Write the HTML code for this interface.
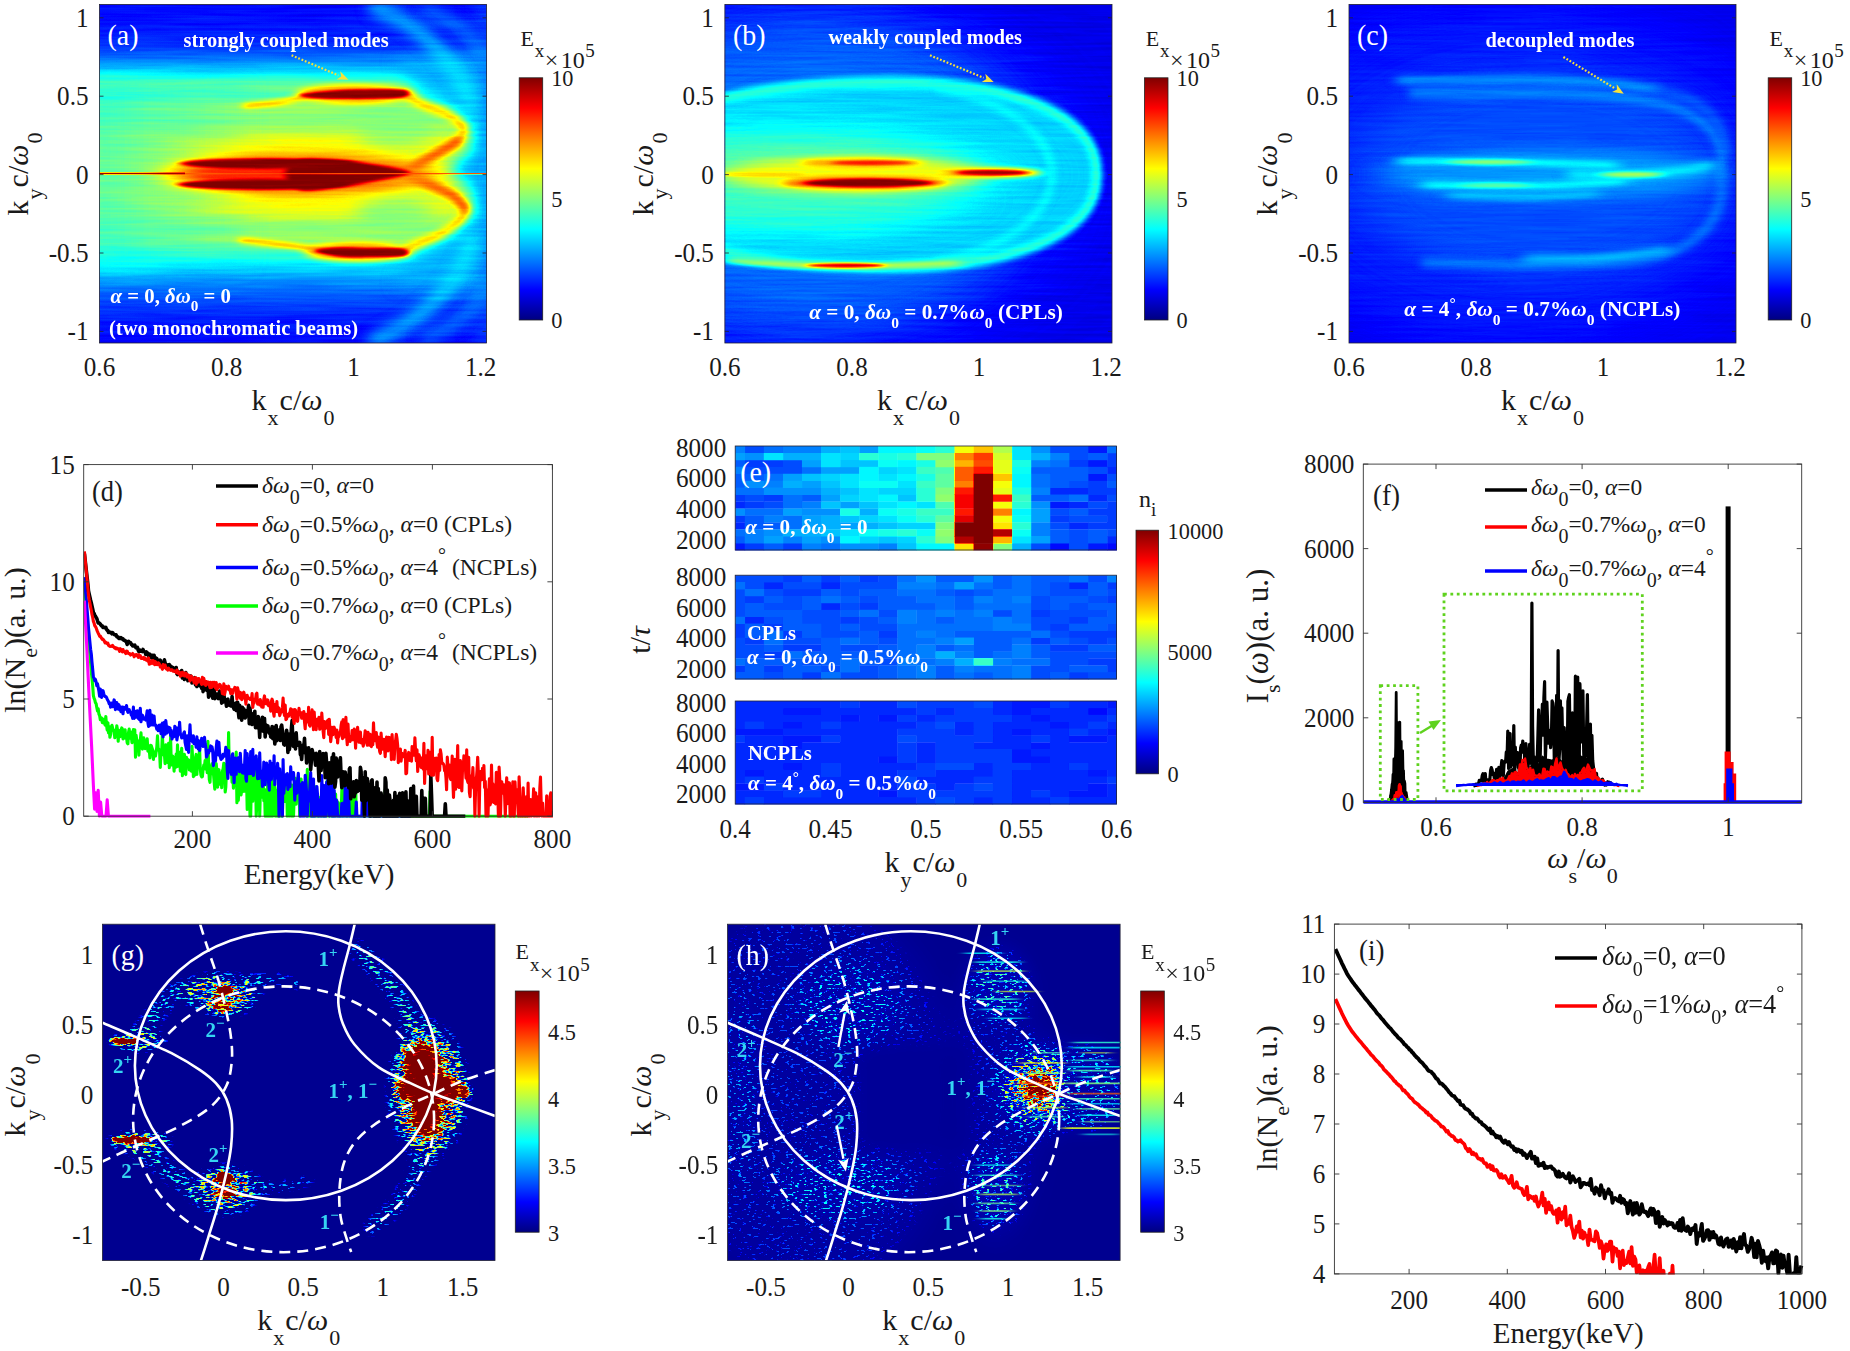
<!DOCTYPE html>
<html><head><meta charset="utf-8"><title>Figure</title>
<style>html,body{margin:0;padding:0;background:#fff}svg{display:block}text{font-family:'Liberation Serif','Times New Roman',serif}</style>
</head><body>
<svg width="1850" height="1351" viewBox="0 0 1850 1351">
<rect width="1850" height="1351" fill="#fff"/>
<defs>
<linearGradient id="jetg" x1="0" y1="1" x2="0" y2="0">
<stop offset="0.0000" stop-color="rgb(0,0,128)"/>
<stop offset="0.0625" stop-color="rgb(0,0,191)"/>
<stop offset="0.1250" stop-color="rgb(0,0,255)"/>
<stop offset="0.1875" stop-color="rgb(0,64,255)"/>
<stop offset="0.2500" stop-color="rgb(0,128,255)"/>
<stop offset="0.3125" stop-color="rgb(0,191,255)"/>
<stop offset="0.3750" stop-color="rgb(0,255,255)"/>
<stop offset="0.4375" stop-color="rgb(64,255,191)"/>
<stop offset="0.5000" stop-color="rgb(128,255,128)"/>
<stop offset="0.5625" stop-color="rgb(191,255,64)"/>
<stop offset="0.6250" stop-color="rgb(255,255,0)"/>
<stop offset="0.6875" stop-color="rgb(255,191,0)"/>
<stop offset="0.7500" stop-color="rgb(255,128,0)"/>
<stop offset="0.8125" stop-color="rgb(255,64,0)"/>
<stop offset="0.8750" stop-color="rgb(255,0,0)"/>
<stop offset="0.9375" stop-color="rgb(191,0,0)"/>
<stop offset="1.0000" stop-color="rgb(128,0,0)"/>
</linearGradient>
</defs>
<filter id="pajet" filterUnits="userSpaceOnUse" x="99.5" y="4.5" width="387.0" height="338.5" color-interpolation-filters="sRGB">
<feTurbulence type="fractalNoise" baseFrequency="0.012 0.35" numOctaves="2" seed="3" result="t"/>
<feColorMatrix in="t" type="matrix" values="1 0 0 0 0  1 0 0 0 0  1 0 0 0 0  0 0 0 0 1" result="n"/>
<feComposite in="SourceGraphic" in2="n" operator="arithmetic" k1="0" k2="1" k3="0.07" k4="-0.035"/>
<feComponentTransfer><feFuncR type="table" tableValues="0.000 0.000 0.000 0.000 0.000 0.000 0.000 0.000 0.000 0.000 0.000 0.000 0.000 0.125 0.250 0.375 0.500 0.625 0.750 0.875 1.000 1.000 1.000 1.000 1.000 1.000 1.000 1.000 1.000 0.875 0.750 0.625 0.500"/><feFuncG type="table" tableValues="0.000 0.000 0.000 0.000 0.000 0.125 0.250 0.375 0.500 0.625 0.750 0.875 1.000 1.000 1.000 1.000 1.000 1.000 1.000 1.000 1.000 0.875 0.750 0.625 0.500 0.375 0.250 0.125 0.000 0.000 0.000 0.000 0.000"/><feFuncB type="table" tableValues="0.500 0.625 0.750 0.875 1.000 1.000 1.000 1.000 1.000 1.000 1.000 1.000 1.000 0.875 0.750 0.625 0.500 0.375 0.250 0.125 0.000 0.000 0.000 0.000 0.000 0.000 0.000 0.000 0.000 0.000 0.000 0.000 0.000"/></feComponentTransfer>
</filter>
<clipPath id="paclip"><rect x="99.5" y="4.5" width="387.0" height="338.5"/></clipPath>
<g filter="url(#pajet)"><g clip-path="url(#paclip)">
<linearGradient id="ga" gradientUnits="userSpaceOnUse" x1="0" y1="4.5" x2="0" y2="343.0">
<stop offset="-0.0015" stop-color="rgb(33,33,33)"/>
<stop offset="0.0753" stop-color="rgb(38,38,38)"/>
<stop offset="0.1196" stop-color="rgb(43,43,43)"/>
<stop offset="0.1640" stop-color="rgb(64,64,64)"/>
<stop offset="0.1994" stop-color="rgb(87,87,87)"/>
<stop offset="0.2290" stop-color="rgb(117,117,117)"/>
<stop offset="0.2467" stop-color="rgb(120,120,120)"/>
<stop offset="0.2703" stop-color="rgb(112,112,112)"/>
<stop offset="0.2999" stop-color="rgb(135,135,135)"/>
<stop offset="0.3412" stop-color="rgb(128,128,128)"/>
<stop offset="0.3944" stop-color="rgb(148,148,148)"/>
<stop offset="0.4446" stop-color="rgb(153,153,153)"/>
<stop offset="0.4978" stop-color="rgb(153,153,153)"/>
<stop offset="0.5539" stop-color="rgb(153,153,153)"/>
<stop offset="0.6071" stop-color="rgb(148,148,148)"/>
<stop offset="0.6603" stop-color="rgb(130,130,130)"/>
<stop offset="0.6957" stop-color="rgb(135,135,135)"/>
<stop offset="0.7312" stop-color="rgb(112,112,112)"/>
<stop offset="0.7666" stop-color="rgb(92,92,92)"/>
<stop offset="0.8139" stop-color="rgb(69,69,69)"/>
<stop offset="0.8730" stop-color="rgb(51,51,51)"/>
<stop offset="0.9321" stop-color="rgb(38,38,38)"/>
<stop offset="1.0000" stop-color="rgb(33,33,33)"/>
</linearGradient>
<rect x="94.5" y="-0.5" width="397.0" height="348.5" fill="url(#ga)"/>
<linearGradient id="gal" x1="0" y1="0" x2="1" y2="0"><stop offset="0" stop-color="#666" stop-opacity="0.7"/><stop offset="0.5" stop-color="#666" stop-opacity="0.35"/><stop offset="1" stop-color="#666" stop-opacity="0"/></linearGradient>
<filter id="pab4x10" filterUnits="userSpaceOnUse" x="39.5" y="-55.5" width="507.0" height="458.5" color-interpolation-filters="sRGB"><feGaussianBlur stdDeviation="4 10"/></filter>
<rect x="95" y="80" width="170" height="188" fill="url(#gal)" filter="url(#pab4x10)"/>
<filter id="pab30x5" filterUnits="userSpaceOnUse" x="39.5" y="-55.5" width="507.0" height="458.5" color-interpolation-filters="sRGB"><feGaussianBlur stdDeviation="30 5"/></filter>
<ellipse cx="330.0" cy="146.0" rx="110.0" ry="9.0" fill="rgb(161,161,161)" opacity="0.8" filter="url(#pab30x5)"/>
<ellipse cx="330.0" cy="206.0" rx="110.0" ry="10.0" fill="rgb(161,161,161)" opacity="0.8" filter="url(#pab30x5)"/>
<filter id="pab8x8" filterUnits="userSpaceOnUse" x="39.5" y="-55.5" width="507.0" height="458.5" color-interpolation-filters="sRGB"><feGaussianBlur stdDeviation="8 8"/></filter>
<path d="M500.0 60.0 L395.0 60.0 L410.0 80.0 L428.0 96.0 L452.0 108.0 L474.0 126.0 L470.0 150.0 L448.0 168.0 L470.0 190.0 L476.0 212.0 L455.0 232.0 L430.0 246.0 L410.0 262.0 L395.0 285.0 L500.0 285.0Z" fill="rgb(76,76,76)" opacity="1" filter="url(#pab8x8)"/>
<path d="M500.0 0.0 L470.0 0.0 L482.0 60.0 L490.0 120.0 L492.0 173.0 L490.0 230.0 L482.0 290.0 L470.0 345.0 L500.0 345.0Z" fill="rgb(51,51,51)" opacity="0.7" filter="url(#pab8x8)"/>
<filter id="pab7x7" filterUnits="userSpaceOnUse" x="39.5" y="-55.5" width="507.0" height="458.5" color-interpolation-filters="sRGB"><feGaussianBlur stdDeviation="7 7"/></filter>
<path d="M375.0 8.0 C380.8 10.8 399.2 17.7 410.0 25.0 C420.8 32.3 431.3 42.5 440.0 52.0 C448.7 61.5 456.7 72.3 462.0 82.0 C467.3 91.7 470.3 105.3 472.0 110.0" fill="none" stroke="rgb(94,94,94)" stroke-width="14" stroke-linecap="round" opacity="0.8" filter="url(#pab7x7)"/>
<path d="M425.0 10.0 C430.8 13.0 449.2 19.3 460.0 28.0 C470.8 36.7 485.0 56.3 490.0 62.0" fill="none" stroke="rgb(76,76,76)" stroke-width="12" stroke-linecap="round" opacity="0.7" filter="url(#pab7x7)"/>
<path d="M375.0 340.0 C380.8 337.0 399.2 329.3 410.0 322.0 C420.8 314.7 431.3 305.3 440.0 296.0 C448.7 286.7 456.7 275.7 462.0 266.0 C467.3 256.3 470.3 242.7 472.0 238.0" fill="none" stroke="rgb(94,94,94)" stroke-width="14" stroke-linecap="round" opacity="0.8" filter="url(#pab7x7)"/>
<path d="M425.0 338.0 C430.8 335.0 449.2 328.7 460.0 320.0 C470.8 311.3 485.0 291.7 490.0 286.0" fill="none" stroke="rgb(76,76,76)" stroke-width="12" stroke-linecap="round" opacity="0.7" filter="url(#pab7x7)"/>
<filter id="pab10x7" filterUnits="userSpaceOnUse" x="39.5" y="-55.5" width="507.0" height="458.5" color-interpolation-filters="sRGB"><feGaussianBlur stdDeviation="10 7"/></filter>
<ellipse cx="395.0" cy="128.0" rx="38.0" ry="20.0" fill="rgb(128,128,128)" opacity="0.8" filter="url(#pab10x7)"/>
<ellipse cx="395.0" cy="214.0" rx="38.0" ry="18.0" fill="rgb(128,128,128)" opacity="0.8" filter="url(#pab10x7)"/>
<filter id="pab3x3" filterUnits="userSpaceOnUse" x="39.5" y="-55.5" width="507.0" height="458.5" color-interpolation-filters="sRGB"><feGaussianBlur stdDeviation="3 3"/></filter>
<path d="M404.0 94.0 C407.3 95.8 416.7 101.5 424.0 105.0 C431.3 108.5 441.5 111.3 448.0 115.0 C454.5 118.7 461.3 122.7 463.0 127.0 C464.7 131.3 462.2 136.7 458.0 141.0 C453.8 145.3 444.3 149.3 438.0 153.0 C431.7 156.7 425.0 160.0 420.0 163.0 C415.0 166.0 410.0 169.7 408.0 171.0" fill="none" stroke="rgb(178,178,178)" stroke-width="8" stroke-linecap="round" opacity="1" filter="url(#pab3x3)"/>
<path d="M408.0 176.0 C411.3 177.3 420.7 180.8 428.0 184.0 C435.3 187.2 445.8 191.0 452.0 195.0 C458.2 199.0 464.0 203.5 465.0 208.0 C466.0 212.5 462.5 217.5 458.0 222.0 C453.5 226.5 444.3 231.5 438.0 235.0 C431.7 238.5 425.7 240.5 420.0 243.0 C414.3 245.5 406.7 248.8 404.0 250.0" fill="none" stroke="rgb(178,178,178)" stroke-width="8" stroke-linecap="round" opacity="1" filter="url(#pab3x3)"/>
<path d="M458.0 141.0 C454.7 143.0 444.3 149.3 438.0 153.0 C431.7 156.7 425.0 160.0 420.0 163.0 C415.0 166.0 410.0 169.7 408.0 171.0" fill="none" stroke="rgb(209,209,209)" stroke-width="7" stroke-linecap="round" opacity="1" filter="url(#pab3x3)"/>
<path d="M408.0 176.0 C411.3 177.3 420.7 180.8 428.0 184.0 C435.3 187.2 445.8 191.0 452.0 195.0 C458.2 199.0 462.8 205.8 465.0 208.0" fill="none" stroke="rgb(209,209,209)" stroke-width="7" stroke-linecap="round" opacity="1" filter="url(#pab3x3)"/>
<filter id="pab4x2" filterUnits="userSpaceOnUse" x="39.5" y="-55.5" width="507.0" height="458.5" color-interpolation-filters="sRGB"><feGaussianBlur stdDeviation="4 2"/></filter>
<path d="M245.0 106.0 C250.8 105.3 268.3 103.8 280.0 102.0 C291.7 100.2 309.2 96.2 315.0 95.0" fill="none" stroke="rgb(184,184,184)" stroke-width="5" stroke-linecap="round" opacity="1" filter="url(#pab4x2)"/>
<path d="M241.0 240.0 C248.3 240.8 271.0 243.2 285.0 245.0 C299.0 246.8 318.3 250.0 325.0 251.0" fill="none" stroke="rgb(184,184,184)" stroke-width="5" stroke-linecap="round" opacity="1" filter="url(#pab4x2)"/>
<filter id="pab6x3" filterUnits="userSpaceOnUse" x="39.5" y="-55.5" width="507.0" height="458.5" color-interpolation-filters="sRGB"><feGaussianBlur stdDeviation="6 3"/></filter>
<ellipse cx="355.0" cy="94.0" rx="58.0" ry="9.0" fill="rgb(194,194,194)" opacity="1" filter="url(#pab6x3)"/>
<ellipse cx="358.0" cy="252.0" rx="52.0" ry="9.0" fill="rgb(194,194,194)" opacity="1" filter="url(#pab6x3)"/>
<filter id="pab14x5" filterUnits="userSpaceOnUse" x="39.5" y="-55.5" width="507.0" height="458.5" color-interpolation-filters="sRGB"><feGaussianBlur stdDeviation="14 5"/></filter>
<ellipse cx="300.0" cy="174.0" rx="135.0" ry="22.0" fill="rgb(189,189,189)" opacity="1" filter="url(#pab14x5)"/>
<filter id="pab8x3" filterUnits="userSpaceOnUse" x="39.5" y="-55.5" width="507.0" height="458.5" color-interpolation-filters="sRGB"><feGaussianBlur stdDeviation="8 3"/></filter>
<ellipse cx="290.0" cy="174.0" rx="100.0" ry="10.0" fill="rgb(214,214,214)" opacity="1" filter="url(#pab8x3)"/>
<filter id="pab2_5x1_2" filterUnits="userSpaceOnUse" x="39.5" y="-55.5" width="507.0" height="458.5" color-interpolation-filters="sRGB"><feGaussianBlur stdDeviation="2.5 1.2"/></filter>
<path d="M300.0 95.0 C302.5 93.8 320.0 91.9 330.0 91.0 C340.0 90.1 347.7 89.7 360.0 89.5 C372.3 89.3 396.7 88.8 404.0 90.0 C411.3 91.2 409.7 95.6 404.0 97.0 C398.3 98.4 380.7 98.2 370.0 98.5 C359.3 98.8 349.2 98.6 340.0 98.5 C330.8 98.4 321.7 98.6 315.0 98.0 C308.3 97.4 297.5 96.2 300.0 95.0Z" fill="rgb(255,255,255)" opacity="1" filter="url(#pab2_5x1_2)"/>
<path d="M316.0 250.0 C318.5 248.9 331.0 247.8 340.0 247.5 C349.0 247.2 359.3 247.8 370.0 248.0 C380.7 248.2 398.3 247.7 404.0 249.0 C409.7 250.3 409.7 254.7 404.0 256.0 C398.3 257.3 379.8 256.8 370.0 257.0 C360.2 257.2 352.5 257.5 345.0 257.0 C337.5 256.5 329.8 255.2 325.0 254.0 C320.2 252.8 313.5 251.1 316.0 250.0Z" fill="rgb(255,255,255)" opacity="1" filter="url(#pab2_5x1_2)"/>
<filter id="pab5x1_3" filterUnits="userSpaceOnUse" x="39.5" y="-55.5" width="507.0" height="458.5" color-interpolation-filters="sRGB"><feGaussianBlur stdDeviation="5 1.3"/></filter>
<ellipse cx="268.0" cy="163.5" rx="88.0" ry="5.2" fill="rgb(255,255,255)" opacity="1" filter="url(#pab5x1_3)"/>
<ellipse cx="262.0" cy="184.5" rx="84.0" ry="5.4" fill="rgb(255,255,255)" opacity="1" filter="url(#pab5x1_3)"/>
<filter id="pab3x1_5" filterUnits="userSpaceOnUse" x="39.5" y="-55.5" width="507.0" height="458.5" color-interpolation-filters="sRGB"><feGaussianBlur stdDeviation="3 1.5"/></filter>
<path d="M300.0 160.0 C309.2 157.7 328.3 159.3 340.0 160.0 C351.7 160.7 358.3 161.9 370.0 164.0 C381.7 166.1 410.0 169.5 410.0 172.5 C410.0 175.5 382.5 179.4 370.0 182.0 C357.5 184.6 346.7 186.7 335.0 188.0 C323.3 189.3 308.3 192.3 300.0 190.0 C291.7 187.7 285.0 179.0 285.0 174.0 C285.0 169.0 290.8 162.3 300.0 160.0Z" fill="rgb(255,255,255)" opacity="1" filter="url(#pab3x1_5)"/>
<rect x="95" y="173" width="400" height="1.3" fill="rgb(204,204,204)"/>
<rect x="95" y="172.6" width="90" height="1.6" fill="rgb(247,247,247)"/>
</g></g>
<rect x="99.5" y="4.5" width="387.0" height="338.5" fill="none" stroke="#223" stroke-width="0.8"/>
<text transform="translate(99.5,375.5) scale(0.93,1)" font-size="27" text-anchor="middle" fill="#1a1a1a" font-weight="normal" font-style="normal" >0.6</text>
<text transform="translate(226.6,375.5) scale(0.93,1)" font-size="27" text-anchor="middle" fill="#1a1a1a" font-weight="normal" font-style="normal" >0.8</text>
<text transform="translate(353.6,375.5) scale(0.93,1)" font-size="27" text-anchor="middle" fill="#1a1a1a" font-weight="normal" font-style="normal" >1</text>
<text transform="translate(480.7,375.5) scale(0.93,1)" font-size="27" text-anchor="middle" fill="#1a1a1a" font-weight="normal" font-style="normal" >1.2</text>
<path d="M99.5 17.8 h4 M486.5 17.8 h-4" stroke="#223" stroke-width="0.8"/>
<text transform="translate(88.5,26.8) scale(0.93,1)" font-size="27" text-anchor="end" fill="#1a1a1a" font-weight="normal" font-style="normal" >1</text>
<path d="M99.5 96.2 h4 M486.5 96.2 h-4" stroke="#223" stroke-width="0.8"/>
<text transform="translate(88.5,105.2) scale(0.93,1)" font-size="27" text-anchor="end" fill="#1a1a1a" font-weight="normal" font-style="normal" >0.5</text>
<path d="M99.5 174.6 h4 M486.5 174.6 h-4" stroke="#223" stroke-width="0.8"/>
<text transform="translate(88.5,183.6) scale(0.93,1)" font-size="27" text-anchor="end" fill="#1a1a1a" font-weight="normal" font-style="normal" >0</text>
<path d="M99.5 253.0 h4 M486.5 253.0 h-4" stroke="#223" stroke-width="0.8"/>
<text transform="translate(88.5,262.0) scale(0.93,1)" font-size="27" text-anchor="end" fill="#1a1a1a" font-weight="normal" font-style="normal" >-0.5</text>
<path d="M99.5 331.4 h4 M486.5 331.4 h-4" stroke="#223" stroke-width="0.8"/>
<text transform="translate(88.5,340.4) scale(0.93,1)" font-size="27" text-anchor="end" fill="#1a1a1a" font-weight="normal" font-style="normal" >-1</text>
<text x="293.0" y="410" font-size="30" text-anchor="middle" fill="#1a1a1a">k<tspan dy="14.5" font-size="22" dx=1>x</tspan><tspan dy="-14.5" font-size="1">&#8203;</tspan><tspan dx="1">c</tspan>/<tspan font-style="italic">&#969;</tspan><tspan dy="14.5" font-size="22" dx=1>0</tspan><tspan dy="-14.5" font-size="1">&#8203;</tspan></text>
<text transform="translate(27.5,174) rotate(-90)" font-size="30" text-anchor="middle" fill="#1a1a1a">k<tspan dy="14.5" font-size="22" dx=1>y</tspan><tspan dy="-14.5" font-size="1">&#8203;</tspan><tspan dx="1">c</tspan>/<tspan font-style="italic">&#969;</tspan><tspan dy="14.5" font-size="22" dx=1>0</tspan><tspan dy="-14.5" font-size="1">&#8203;</tspan></text>
<rect x="519.2" y="77.8" width="23.5" height="242.2" fill="url(#jetg)" stroke="#222" stroke-width="0.8"/>
<text transform="translate(551.2,328.4) scale(0.93,1)" font-size="24" text-anchor="start" fill="#1a1a1a" font-weight="normal" font-style="normal" >0</text>
<text transform="translate(551.2,207.3) scale(0.93,1)" font-size="24" text-anchor="start" fill="#1a1a1a" font-weight="normal" font-style="normal" >5</text>
<text transform="translate(551.2,86.2) scale(0.93,1)" font-size="24" text-anchor="start" fill="#1a1a1a" font-weight="normal" font-style="normal" >10</text>
<text x="520.4" y="45.5" font-size="22" fill="#1a1a1a">E</text>
<text x="534.8" y="57.0" font-size="19" fill="#1a1a1a">x</text>
<text x="544.7" y="67.7" font-size="24" fill="#1a1a1a">&#215;<tspan dx="2.5">10</tspan></text>
<text x="585.2" y="57.0" font-size="19" fill="#1a1a1a">5</text>
<text transform="translate(107.5,45.0) scale(0.93,1)" font-size="30" text-anchor="start" fill="#fff" font-weight="normal" font-style="normal" >(a)</text>
<filter id="pbjet" filterUnits="userSpaceOnUse" x="724.9" y="4.5" width="387.1" height="338.5" color-interpolation-filters="sRGB">
<feTurbulence type="fractalNoise" baseFrequency="0.012 0.35" numOctaves="2" seed="7" result="t"/>
<feColorMatrix in="t" type="matrix" values="1 0 0 0 0  1 0 0 0 0  1 0 0 0 0  0 0 0 0 1" result="n"/>
<feComposite in="SourceGraphic" in2="n" operator="arithmetic" k1="0" k2="1" k3="0.06" k4="-0.03"/>
<feComponentTransfer><feFuncR type="table" tableValues="0.000 0.000 0.000 0.000 0.000 0.000 0.000 0.000 0.000 0.000 0.000 0.000 0.000 0.125 0.250 0.375 0.500 0.625 0.750 0.875 1.000 1.000 1.000 1.000 1.000 1.000 1.000 1.000 1.000 0.875 0.750 0.625 0.500"/><feFuncG type="table" tableValues="0.000 0.000 0.000 0.000 0.000 0.125 0.250 0.375 0.500 0.625 0.750 0.875 1.000 1.000 1.000 1.000 1.000 1.000 1.000 1.000 1.000 0.875 0.750 0.625 0.500 0.375 0.250 0.125 0.000 0.000 0.000 0.000 0.000"/><feFuncB type="table" tableValues="0.500 0.625 0.750 0.875 1.000 1.000 1.000 1.000 1.000 1.000 1.000 1.000 1.000 0.875 0.750 0.625 0.500 0.375 0.250 0.125 0.000 0.000 0.000 0.000 0.000 0.000 0.000 0.000 0.000 0.000 0.000 0.000 0.000"/></feComponentTransfer>
</filter>
<clipPath id="pbclip"><rect x="724.9" y="4.5" width="387.1" height="338.5"/></clipPath>
<g filter="url(#pbjet)"><g clip-path="url(#pbclip)">
<rect x="661.4" y="-13.6" width="508.2" height="376.3" fill="rgb(27,27,27)" opacity="1"/>
<filter id="pbb45x30" filterUnits="userSpaceOnUse" x="664.9" y="-55.5" width="507.1" height="458.5" color-interpolation-filters="sRGB"><feGaussianBlur stdDeviation="45 30"/></filter>
<ellipse cx="801.1" cy="174.6" rx="260.0" ry="175.0" fill="rgb(51,51,51)" opacity="1" filter="url(#pbb45x30)"/>
<filter id="pbb30x22" filterUnits="userSpaceOnUse" x="664.9" y="-55.5" width="507.1" height="458.5" color-interpolation-filters="sRGB"><feGaussianBlur stdDeviation="30 22"/></filter>
<ellipse cx="820.2" cy="174.6" rx="190.0" ry="140.0" fill="rgb(61,61,61)" opacity="0.8" filter="url(#pbb30x22)"/>
<filter id="pbb5x5" filterUnits="userSpaceOnUse" x="664.9" y="-55.5" width="507.1" height="458.5" color-interpolation-filters="sRGB"><feGaussianBlur stdDeviation="5 5"/></filter>
<path d="M598.4 180.4 L601.7 189.8 L608.1 199.1 L617.3 208.1 L629.3 216.8 L644.0 225.0 L661.2 232.7 L680.7 239.7 L702.4 246.1 L726.0 251.8 L751.3 256.6 L777.9 260.5 L805.7 263.6 L834.3 265.7 L863.4 266.9 L894.2 267.1 L920.7 266.4 L944.0 264.9 L965.5 262.5 L985.4 259.3 L1003.9 255.4 L1020.8 250.6 L1036.2 245.1 L1050.0 238.9 L1062.1 232.0 L1072.5 224.4 L1081.1 216.2 L1087.8 207.4 L1092.7 197.8 L1095.6 187.4 L1096.6 174.6 L1095.6 161.8 L1092.7 151.4 L1087.8 141.8 L1081.1 133.0 L1072.5 124.8 L1062.1 117.2 L1050.0 110.3 L1036.2 104.1 L1020.8 98.6 L1003.9 93.8 L985.4 89.9 L965.5 86.7 L944.0 84.3 L920.7 82.8 L894.2 82.1 L863.4 82.3 L834.3 83.5 L805.7 85.6 L777.9 88.7 L751.3 92.6 L726.0 97.4 L702.4 103.1 L680.7 109.5 L661.2 116.5 L644.0 124.2 L629.3 132.4 L617.3 141.1 L608.1 150.1 L601.7 159.4 L598.4 168.8Z" fill="rgb(85,85,85)" filter="url(#pbb5x5)"/>
<filter id="pbb40x14" filterUnits="userSpaceOnUse" x="664.9" y="-55.5" width="507.1" height="458.5" color-interpolation-filters="sRGB"><feGaussianBlur stdDeviation="40 14"/></filter>
<ellipse cx="775.7" cy="174.6" rx="230.0" ry="60.0" fill="rgb(98,98,98)" opacity="0.9" filter="url(#pbb40x14)"/>
<filter id="pbb30x11" filterUnits="userSpaceOnUse" x="664.9" y="-55.5" width="507.1" height="458.5" color-interpolation-filters="sRGB"><feGaussianBlur stdDeviation="30 11"/></filter>
<ellipse cx="788.4" cy="174.6" rx="190.0" ry="36.0" fill="rgb(120,120,120)" opacity="0.9" filter="url(#pbb30x11)"/>
<ellipse cx="801.1" cy="200.0" rx="150.0" ry="36.0" fill="rgb(110,110,110)" opacity="0.6" filter="url(#pbb30x11)"/>
<filter id="pbb3x3" filterUnits="userSpaceOnUse" x="664.9" y="-55.5" width="507.1" height="458.5" color-interpolation-filters="sRGB"><feGaussianBlur stdDeviation="3 3"/></filter>
<path d="M598.4 180.4 L601.7 189.8 L608.1 199.1 L617.3 208.1 L629.3 216.8 L644.0 225.0 L661.2 232.7 L680.7 239.7 L702.4 246.1 L726.0 251.8 L751.3 256.6 L777.9 260.5 L805.7 263.6 L834.3 265.7 L863.4 266.9 L894.2 267.1 L920.7 266.4 L944.0 264.9 L965.5 262.5 L985.4 259.3 L1003.9 255.4 L1020.8 250.6 L1036.2 245.1 L1050.0 238.9 L1062.1 232.0 L1072.5 224.4 L1081.1 216.2 L1087.8 207.4 L1092.7 197.8 L1095.6 187.4 L1096.6 174.6 L1095.6 161.8 L1092.7 151.4 L1087.8 141.8 L1081.1 133.0 L1072.5 124.8 L1062.1 117.2 L1050.0 110.3 L1036.2 104.1 L1020.8 98.6 L1003.9 93.8 L985.4 89.9 L965.5 86.7 L944.0 84.3 L920.7 82.8 L894.2 82.1 L863.4 82.3 L834.3 83.5 L805.7 85.6 L777.9 88.7 L751.3 92.6 L726.0 97.4 L702.4 103.1 L680.7 109.5 L661.2 116.5 L644.0 124.2 L629.3 132.4 L617.3 141.1 L608.1 150.1 L601.7 159.4 L598.4 168.8Z" fill="none" stroke="rgb(110,110,110)" stroke-width="10" filter="url(#pbb3x3)"/>
<filter id="pbb3_5x3_5" filterUnits="userSpaceOnUse" x="664.9" y="-55.5" width="507.1" height="458.5" color-interpolation-filters="sRGB"><feGaussianBlur stdDeviation="3.5 3.5"/></filter>
<path d="M935.7 261.8 L945.7 259.9 L955.4 257.6 L964.8 255.0 L973.9 252.0 L982.7 248.8 L991.0 245.3 L999.0 241.5 L1006.5 237.4 L1013.4 233.1 L1019.9 228.5 L1025.9 223.8 L1031.3 218.8 L1036.1 213.7 L1040.3 208.4 L1043.8 202.9 L1046.8 197.4 L1049.1 191.8 L1050.8 186.1 L1051.7 180.4 L1052.1 174.6 L1051.7 168.8 L1050.8 163.1 L1049.1 157.4 L1046.8 151.8 L1043.8 146.3 L1040.3 140.8 L1036.1 135.5 L1031.3 130.4 L1025.9 125.4 L1019.9 120.7 L1013.4 116.1 L1006.5 111.8 L999.0 107.7 L991.0 103.9 L982.7 100.4 L973.9 97.2 L964.8 94.2 L955.4 91.6 L945.7 89.3 L935.7 87.4" fill="none" stroke="rgb(102,102,102)" stroke-width="7" opacity="0.8" filter="url(#pbb3_5x3_5)"/>
<filter id="pbb8x2" filterUnits="userSpaceOnUse" x="664.9" y="-55.5" width="507.1" height="458.5" color-interpolation-filters="sRGB"><feGaussianBlur stdDeviation="8 2"/></filter>
<path d="M724.9 260.1 C733.4 260.8 754.5 263.2 775.7 264.3 C796.9 265.3 821.3 266.5 852.0 266.3 C882.7 266.1 942.0 263.7 960.0 263.2" fill="none" stroke="rgb(148,148,148)" stroke-width="5" stroke-linecap="butt" opacity="1" filter="url(#pbb8x2)"/>
<filter id="pbb5x1_2" filterUnits="userSpaceOnUse" x="664.9" y="-55.5" width="507.1" height="458.5" color-interpolation-filters="sRGB"><feGaussianBlur stdDeviation="5 1.2"/></filter>
<ellipse cx="845.6" cy="265.5" rx="40.0" ry="2.2" fill="rgb(235,235,235)" opacity="1" filter="url(#pbb5x1_2)"/>
<filter id="pbb14x6" filterUnits="userSpaceOnUse" x="664.9" y="-55.5" width="507.1" height="458.5" color-interpolation-filters="sRGB"><feGaussianBlur stdDeviation="14 6"/></filter>
<ellipse cx="852.0" cy="174.6" rx="130.0" ry="17.0" fill="rgb(158,158,158)" opacity="1" filter="url(#pbb14x6)"/>
<filter id="pbb5x1_5" filterUnits="userSpaceOnUse" x="664.9" y="-55.5" width="507.1" height="458.5" color-interpolation-filters="sRGB"><feGaussianBlur stdDeviation="5 1.5"/></filter>
<path d="M724.9 174.6 C737.6 174.6 788.4 174.6 801.1 174.6" fill="none" stroke="rgb(173,173,173)" stroke-width="3.5" stroke-linecap="round" opacity="1" filter="url(#pbb5x1_5)"/>
<filter id="pbb6x2_5" filterUnits="userSpaceOnUse" x="664.9" y="-55.5" width="507.1" height="458.5" color-interpolation-filters="sRGB"><feGaussianBlur stdDeviation="6 2.5"/></filter>
<ellipse cx="864.7" cy="182.9" rx="82.0" ry="6.5" fill="rgb(199,199,199)" opacity="1" filter="url(#pbb6x2_5)"/>
<filter id="pbb6x2" filterUnits="userSpaceOnUse" x="664.9" y="-55.5" width="507.1" height="458.5" color-interpolation-filters="sRGB"><feGaussianBlur stdDeviation="6 2"/></filter>
<ellipse cx="861.5" cy="162.8" rx="62.0" ry="4.5" fill="rgb(184,184,184)" opacity="1" filter="url(#pbb6x2)"/>
<ellipse cx="991.7" cy="172.7" rx="50.0" ry="5.0" fill="rgb(184,184,184)" opacity="1" filter="url(#pbb6x2)"/>
<ellipse cx="867.8" cy="182.9" rx="64.0" ry="4.2" fill="rgb(255,255,255)" opacity="1" filter="url(#pbb5x1_2)"/>
<ellipse cx="871.0" cy="162.8" rx="40.0" ry="2.2" fill="rgb(219,219,219)" opacity="1" filter="url(#pbb5x1_2)"/>
<ellipse cx="991.7" cy="172.7" rx="36.0" ry="2.6" fill="rgb(247,247,247)" opacity="1" filter="url(#pbb5x1_2)"/>
</g></g>
<rect x="724.9" y="4.5" width="387.1" height="338.5" fill="none" stroke="#223" stroke-width="0.8"/>
<text transform="translate(724.9,375.5) scale(0.93,1)" font-size="27" text-anchor="middle" fill="#1a1a1a" font-weight="normal" font-style="normal" >0.6</text>
<text transform="translate(852.0,375.5) scale(0.93,1)" font-size="27" text-anchor="middle" fill="#1a1a1a" font-weight="normal" font-style="normal" >0.8</text>
<text transform="translate(979.0,375.5) scale(0.93,1)" font-size="27" text-anchor="middle" fill="#1a1a1a" font-weight="normal" font-style="normal" >1</text>
<text transform="translate(1106.1,375.5) scale(0.93,1)" font-size="27" text-anchor="middle" fill="#1a1a1a" font-weight="normal" font-style="normal" >1.2</text>
<path d="M724.9 17.8 h4 M1112 17.8 h-4" stroke="#223" stroke-width="0.8"/>
<text transform="translate(713.9,26.8) scale(0.93,1)" font-size="27" text-anchor="end" fill="#1a1a1a" font-weight="normal" font-style="normal" >1</text>
<path d="M724.9 96.2 h4 M1112 96.2 h-4" stroke="#223" stroke-width="0.8"/>
<text transform="translate(713.9,105.2) scale(0.93,1)" font-size="27" text-anchor="end" fill="#1a1a1a" font-weight="normal" font-style="normal" >0.5</text>
<path d="M724.9 174.6 h4 M1112 174.6 h-4" stroke="#223" stroke-width="0.8"/>
<text transform="translate(713.9,183.6) scale(0.93,1)" font-size="27" text-anchor="end" fill="#1a1a1a" font-weight="normal" font-style="normal" >0</text>
<path d="M724.9 253.0 h4 M1112 253.0 h-4" stroke="#223" stroke-width="0.8"/>
<text transform="translate(713.9,262.0) scale(0.93,1)" font-size="27" text-anchor="end" fill="#1a1a1a" font-weight="normal" font-style="normal" >-0.5</text>
<path d="M724.9 331.4 h4 M1112 331.4 h-4" stroke="#223" stroke-width="0.8"/>
<text transform="translate(713.9,340.4) scale(0.93,1)" font-size="27" text-anchor="end" fill="#1a1a1a" font-weight="normal" font-style="normal" >-1</text>
<text x="918.5" y="410" font-size="30" text-anchor="middle" fill="#1a1a1a">k<tspan dy="14.5" font-size="22" dx=1>x</tspan><tspan dy="-14.5" font-size="1">&#8203;</tspan><tspan dx="1">c</tspan>/<tspan font-style="italic">&#969;</tspan><tspan dy="14.5" font-size="22" dx=1>0</tspan><tspan dy="-14.5" font-size="1">&#8203;</tspan></text>
<text transform="translate(652.9,174) rotate(-90)" font-size="30" text-anchor="middle" fill="#1a1a1a">k<tspan dy="14.5" font-size="22" dx=1>y</tspan><tspan dy="-14.5" font-size="1">&#8203;</tspan><tspan dx="1">c</tspan>/<tspan font-style="italic">&#969;</tspan><tspan dy="14.5" font-size="22" dx=1>0</tspan><tspan dy="-14.5" font-size="1">&#8203;</tspan></text>
<rect x="1144.5" y="77.8" width="23.5" height="242.2" fill="url(#jetg)" stroke="#222" stroke-width="0.8"/>
<text transform="translate(1176.5,328.4) scale(0.93,1)" font-size="24" text-anchor="start" fill="#1a1a1a" font-weight="normal" font-style="normal" >0</text>
<text transform="translate(1176.5,207.3) scale(0.93,1)" font-size="24" text-anchor="start" fill="#1a1a1a" font-weight="normal" font-style="normal" >5</text>
<text transform="translate(1176.5,86.2) scale(0.93,1)" font-size="24" text-anchor="start" fill="#1a1a1a" font-weight="normal" font-style="normal" >10</text>
<text x="1145.7" y="45.5" font-size="22" fill="#1a1a1a">E</text>
<text x="1160.1" y="57.0" font-size="19" fill="#1a1a1a">x</text>
<text x="1170.0" y="67.7" font-size="24" fill="#1a1a1a">&#215;<tspan dx="2.5">10</tspan></text>
<text x="1210.5" y="57.0" font-size="19" fill="#1a1a1a">5</text>
<text transform="translate(732.9,45.0) scale(0.93,1)" font-size="30" text-anchor="start" fill="#fff" font-weight="normal" font-style="normal" >(b)</text>
<filter id="pcjet" filterUnits="userSpaceOnUse" x="1349" y="4.5" width="387" height="338.5" color-interpolation-filters="sRGB">
<feTurbulence type="fractalNoise" baseFrequency="0.012 0.35" numOctaves="2" seed="11" result="t"/>
<feColorMatrix in="t" type="matrix" values="1 0 0 0 0  1 0 0 0 0  1 0 0 0 0  0 0 0 0 1" result="n"/>
<feComposite in="SourceGraphic" in2="n" operator="arithmetic" k1="0" k2="1" k3="0.04" k4="-0.02"/>
<feComponentTransfer><feFuncR type="table" tableValues="0.000 0.000 0.000 0.000 0.000 0.000 0.000 0.000 0.000 0.000 0.000 0.000 0.000 0.125 0.250 0.375 0.500 0.625 0.750 0.875 1.000 1.000 1.000 1.000 1.000 1.000 1.000 1.000 1.000 0.875 0.750 0.625 0.500"/><feFuncG type="table" tableValues="0.000 0.000 0.000 0.000 0.000 0.125 0.250 0.375 0.500 0.625 0.750 0.875 1.000 1.000 1.000 1.000 1.000 1.000 1.000 1.000 1.000 0.875 0.750 0.625 0.500 0.375 0.250 0.125 0.000 0.000 0.000 0.000 0.000"/><feFuncB type="table" tableValues="0.500 0.625 0.750 0.875 1.000 1.000 1.000 1.000 1.000 1.000 1.000 1.000 1.000 0.875 0.750 0.625 0.500 0.375 0.250 0.125 0.000 0.000 0.000 0.000 0.000 0.000 0.000 0.000 0.000 0.000 0.000 0.000 0.000"/></feComponentTransfer>
</filter>
<clipPath id="pcclip"><rect x="1349" y="4.5" width="387" height="338.5"/></clipPath>
<g filter="url(#pcjet)"><g clip-path="url(#pcclip)">
<rect x="1285.5" y="-13.6" width="508.2" height="376.3" fill="rgb(28,28,28)" opacity="1"/>
<filter id="pcb40x30" filterUnits="userSpaceOnUse" x="1289" y="-55.5" width="507" height="458.5" color-interpolation-filters="sRGB"><feGaussianBlur stdDeviation="40 30"/></filter>
<ellipse cx="1507.8" cy="174.6" rx="260.0" ry="170.0" fill="rgb(40,40,40)" opacity="1" filter="url(#pcb40x30)"/>
<filter id="pcb24x16" filterUnits="userSpaceOnUse" x="1289" y="-55.5" width="507" height="458.5" color-interpolation-filters="sRGB"><feGaussianBlur stdDeviation="24 16"/></filter>
<ellipse cx="1539.6" cy="174.6" rx="190.0" ry="100.0" fill="rgb(51,51,51)" opacity="1" filter="url(#pcb24x16)"/>
<filter id="pcb6x3" filterUnits="userSpaceOnUse" x="1289" y="-55.5" width="507" height="458.5" color-interpolation-filters="sRGB"><feGaussianBlur stdDeviation="6 3"/></filter>
<path d="M1399.8 80.5 C1417.8 80.4 1473.9 79.3 1507.8 79.7 C1541.7 80.1 1578.8 81.3 1603.1 82.9 C1627.5 84.4 1645.5 88.1 1653.9 89.1" fill="none" stroke="rgb(76,76,76)" stroke-width="7" stroke-linecap="round" opacity="1" filter="url(#pcb6x3)"/>
<filter id="pcb4x3_5" filterUnits="userSpaceOnUse" x="1289" y="-55.5" width="507" height="458.5" color-interpolation-filters="sRGB"><feGaussianBlur stdDeviation="4 3.5"/></filter>
<path d="M1412.5 93.1 C1433.7 93.1 1504.6 92.3 1539.6 93.1 C1574.5 93.8 1599.9 95.4 1622.2 97.8 C1644.4 100.1 1659.2 102.7 1673.0 107.2 C1686.8 111.6 1696.8 117.4 1704.8 124.4 C1712.7 131.5 1718.0 141.1 1720.7 149.5 C1723.3 157.9 1720.7 170.4 1720.7 174.6" fill="none" stroke="rgb(69,69,69)" stroke-width="8" stroke-linecap="round" opacity="1" filter="url(#pcb4x3_5)"/>
<filter id="pcb4x4" filterUnits="userSpaceOnUse" x="1289" y="-55.5" width="507" height="458.5" color-interpolation-filters="sRGB"><feGaussianBlur stdDeviation="4 4"/></filter>
<path d="M1653.9 89.1 C1660.3 91.1 1681.5 95.3 1692.1 100.9 C1702.7 106.5 1711.7 114.5 1717.5 122.9 C1723.3 131.2 1725.4 146.4 1727.0 151.1" fill="none" stroke="rgb(61,61,61)" stroke-width="7" stroke-linecap="round" opacity="1" filter="url(#pcb4x4)"/>
<filter id="pcb5x3_5" filterUnits="userSpaceOnUse" x="1289" y="-55.5" width="507" height="458.5" color-interpolation-filters="sRGB"><feGaussianBlur stdDeviation="5 3.5"/></filter>
<path d="M1425.2 262.4 C1444.3 262.8 1504.6 265.0 1539.6 264.8 C1574.5 264.5 1611.6 263.6 1634.9 260.8 C1658.2 258.1 1667.2 254.0 1679.4 248.3 C1691.5 242.5 1701.1 234.4 1707.9 226.3 C1714.8 218.2 1718.5 208.3 1720.7 199.7 C1722.8 191.1 1720.7 178.8 1720.7 174.6" fill="none" stroke="rgb(66,66,66)" stroke-width="8" stroke-linecap="round" opacity="1" filter="url(#pcb5x3_5)"/>
<filter id="pcb7x3" filterUnits="userSpaceOnUse" x="1289" y="-55.5" width="507" height="458.5" color-interpolation-filters="sRGB"><feGaussianBlur stdDeviation="7 3"/></filter>
<path d="M1526.9 258.5 C1539.6 258.4 1579.8 259.1 1603.1 257.7 C1626.4 256.3 1656.1 251.2 1666.7 249.9" fill="none" stroke="rgb(84,84,84)" stroke-width="7" stroke-linecap="round" opacity="1" filter="url(#pcb7x3)"/>
<filter id="pcb16x7" filterUnits="userSpaceOnUse" x="1289" y="-55.5" width="507" height="458.5" color-interpolation-filters="sRGB"><feGaussianBlur stdDeviation="16 7"/></filter>
<ellipse cx="1552.3" cy="174.6" rx="170.0" ry="26.0" fill="rgb(69,69,69)" opacity="1" filter="url(#pcb16x7)"/>
<filter id="pcb8x2_5" filterUnits="userSpaceOnUse" x="1289" y="-55.5" width="507" height="458.5" color-interpolation-filters="sRGB"><feGaussianBlur stdDeviation="8 2.5"/></filter>
<path d="M1399.8 161.3 C1417.8 161.4 1471.8 161.4 1507.8 162.1 C1543.8 162.7 1597.8 164.7 1615.8 165.2" fill="none" stroke="rgb(102,102,102)" stroke-width="6" stroke-linecap="round" opacity="1" filter="url(#pcb8x2_5)"/>
<filter id="pcb8x1_6" filterUnits="userSpaceOnUse" x="1289" y="-55.5" width="507" height="458.5" color-interpolation-filters="sRGB"><feGaussianBlur stdDeviation="8 1.6"/></filter>
<ellipse cx="1488.8" cy="162.1" rx="42.0" ry="2.4" fill="rgb(133,133,133)" opacity="1" filter="url(#pcb8x1_6)"/>
<path d="M1425.2 184.8 C1444.3 184.9 1506.8 186.2 1539.6 185.6 C1572.4 184.9 1608.4 181.7 1622.2 180.9" fill="none" stroke="rgb(99,99,99)" stroke-width="7" stroke-linecap="round" opacity="1" filter="url(#pcb8x2_5)"/>
<ellipse cx="1495.1" cy="185.3" rx="36.0" ry="2.2" fill="rgb(120,120,120)" opacity="1" filter="url(#pcb8x1_6)"/>
<path d="M1450.6 195.8 C1463.4 195.9 1502.5 196.9 1526.9 196.6 C1551.2 196.2 1585.1 193.9 1596.8 193.4" fill="none" stroke="rgb(84,84,84)" stroke-width="6" stroke-linecap="round" opacity="1" filter="url(#pcb8x2_5)"/>
<path d="M1571.4 174.6 C1581.9 174.6 1615.8 175.4 1634.9 174.6 C1653.9 173.8 1673.0 171.5 1685.7 169.9 C1698.4 168.3 1706.9 166.0 1711.1 165.2" fill="none" stroke="rgb(97,97,97)" stroke-width="8" stroke-linecap="round" opacity="1" filter="url(#pcb7x3)"/>
<filter id="pcb7x1_8" filterUnits="userSpaceOnUse" x="1289" y="-55.5" width="507" height="458.5" color-interpolation-filters="sRGB"><feGaussianBlur stdDeviation="7 1.8"/></filter>
<ellipse cx="1631.7" cy="174.6" rx="32.0" ry="2.6" fill="rgb(143,143,143)" opacity="1" filter="url(#pcb7x1_8)"/>
</g></g>
<rect x="1349" y="4.5" width="387" height="338.5" fill="none" stroke="#223" stroke-width="0.8"/>
<text transform="translate(1349.0,375.5) scale(0.93,1)" font-size="27" text-anchor="middle" fill="#1a1a1a" font-weight="normal" font-style="normal" >0.6</text>
<text transform="translate(1476.1,375.5) scale(0.93,1)" font-size="27" text-anchor="middle" fill="#1a1a1a" font-weight="normal" font-style="normal" >0.8</text>
<text transform="translate(1603.1,375.5) scale(0.93,1)" font-size="27" text-anchor="middle" fill="#1a1a1a" font-weight="normal" font-style="normal" >1</text>
<text transform="translate(1730.2,375.5) scale(0.93,1)" font-size="27" text-anchor="middle" fill="#1a1a1a" font-weight="normal" font-style="normal" >1.2</text>
<path d="M1349 17.8 h4 M1736 17.8 h-4" stroke="#223" stroke-width="0.8"/>
<text transform="translate(1338.0,26.8) scale(0.93,1)" font-size="27" text-anchor="end" fill="#1a1a1a" font-weight="normal" font-style="normal" >1</text>
<path d="M1349 96.2 h4 M1736 96.2 h-4" stroke="#223" stroke-width="0.8"/>
<text transform="translate(1338.0,105.2) scale(0.93,1)" font-size="27" text-anchor="end" fill="#1a1a1a" font-weight="normal" font-style="normal" >0.5</text>
<path d="M1349 174.6 h4 M1736 174.6 h-4" stroke="#223" stroke-width="0.8"/>
<text transform="translate(1338.0,183.6) scale(0.93,1)" font-size="27" text-anchor="end" fill="#1a1a1a" font-weight="normal" font-style="normal" >0</text>
<path d="M1349 253.0 h4 M1736 253.0 h-4" stroke="#223" stroke-width="0.8"/>
<text transform="translate(1338.0,262.0) scale(0.93,1)" font-size="27" text-anchor="end" fill="#1a1a1a" font-weight="normal" font-style="normal" >-0.5</text>
<path d="M1349 331.4 h4 M1736 331.4 h-4" stroke="#223" stroke-width="0.8"/>
<text transform="translate(1338.0,340.4) scale(0.93,1)" font-size="27" text-anchor="end" fill="#1a1a1a" font-weight="normal" font-style="normal" >-1</text>
<text x="1542.5" y="410" font-size="30" text-anchor="middle" fill="#1a1a1a">k<tspan dy="14.5" font-size="22" dx=1>x</tspan><tspan dy="-14.5" font-size="1">&#8203;</tspan><tspan dx="1">c</tspan>/<tspan font-style="italic">&#969;</tspan><tspan dy="14.5" font-size="22" dx=1>0</tspan><tspan dy="-14.5" font-size="1">&#8203;</tspan></text>
<text transform="translate(1277.0,174) rotate(-90)" font-size="30" text-anchor="middle" fill="#1a1a1a">k<tspan dy="14.5" font-size="22" dx=1>y</tspan><tspan dy="-14.5" font-size="1">&#8203;</tspan><tspan dx="1">c</tspan>/<tspan font-style="italic">&#969;</tspan><tspan dy="14.5" font-size="22" dx=1>0</tspan><tspan dy="-14.5" font-size="1">&#8203;</tspan></text>
<rect x="1768.2" y="77.8" width="23.5" height="242.2" fill="url(#jetg)" stroke="#222" stroke-width="0.8"/>
<text transform="translate(1800.2,328.4) scale(0.93,1)" font-size="24" text-anchor="start" fill="#1a1a1a" font-weight="normal" font-style="normal" >0</text>
<text transform="translate(1800.2,207.3) scale(0.93,1)" font-size="24" text-anchor="start" fill="#1a1a1a" font-weight="normal" font-style="normal" >5</text>
<text transform="translate(1800.2,86.2) scale(0.93,1)" font-size="24" text-anchor="start" fill="#1a1a1a" font-weight="normal" font-style="normal" >10</text>
<text x="1769.4" y="45.5" font-size="22" fill="#1a1a1a">E</text>
<text x="1783.8" y="57.0" font-size="19" fill="#1a1a1a">x</text>
<text x="1793.7" y="67.7" font-size="24" fill="#1a1a1a">&#215;<tspan dx="2.5">10</tspan></text>
<text x="1834.2" y="57.0" font-size="19" fill="#1a1a1a">5</text>
<text transform="translate(1357.0,45.0) scale(0.93,1)" font-size="30" text-anchor="start" fill="#fff" font-weight="normal" font-style="normal" >(c)</text>
<clipPath id="dclip"><rect x="83.7" y="462.6" width="471.7" height="355.1"/></clipPath>
<g clip-path="url(#dclip)">
<polyline points="84.4,581.8 85.1,591.4 85.8,601.0 86.5,610.4 87.2,620.4 87.9,630.0 88.5,638.9 89.2,647.1 89.9,655.5 90.6,662.6 91.3,671.0 92.0,678.8 92.7,686.0 93.4,695.7 94.1,698.3 94.7,699.6 95.4,702.6 96.1,703.6 96.8,707.5 97.5,710.9 98.2,708.7 98.9,714.0 99.6,715.5 100.3,719.8 101.0,718.8 101.6,718.0 102.3,722.6 103.0,719.0 103.7,723.0 104.4,723.0 105.1,725.1 105.8,716.5 106.5,724.7 107.2,730.1 107.9,722.7 108.5,732.9 109.2,726.5 109.9,737.3 110.6,734.6 111.3,727.6 112.0,725.3 112.7,728.4 113.4,730.1 114.1,731.4 114.8,737.8 115.4,734.3 116.1,733.3 116.8,725.7 117.5,729.8 118.2,741.3 118.9,730.5 119.6,734.7 120.3,736.6 121.0,729.9 121.7,727.9 122.3,728.7 123.0,739.0 123.7,736.4 124.4,733.1 125.1,729.7 125.8,738.4 126.5,737.1 127.2,742.8 127.9,743.8 128.6,732.1 129.2,729.1 129.9,738.1 130.6,731.8 131.3,736.1 132.0,742.7 132.7,736.7 133.4,729.6 134.1,739.9 134.8,729.9 135.5,757.2 136.1,735.3 136.8,740.4 137.5,743.2 138.2,741.0 138.9,755.2 139.6,743.7 140.3,740.1 141.0,732.8 141.7,746.7 142.4,749.1 143.0,747.3 143.7,737.8 144.4,742.2 145.1,748.6 145.8,741.5 146.5,744.8 147.2,738.8 147.9,751.2 148.6,748.8 149.3,749.6 149.9,757.9 150.6,745.2 151.3,745.8 152.0,748.0 152.7,750.1 153.4,759.5 154.1,752.2 154.8,752.0 155.5,755.9 156.2,751.2 156.8,747.1 157.5,735.8 158.2,749.6 158.9,749.2 159.6,752.2 160.3,767.4 161.0,752.5 161.7,752.1 162.4,732.7 163.1,754.8 163.7,750.9 164.4,754.0 165.1,763.7 165.8,744.7 166.5,748.2 167.2,748.1 167.9,762.8 168.6,743.4 169.3,767.6 170.0,750.8 170.6,737.2 171.3,765.0 172.0,761.6 172.7,756.1 173.4,761.6 174.1,771.1 174.8,757.1 175.5,767.5 176.2,754.1 176.9,766.8 177.5,744.9 178.2,766.2 178.9,762.3 179.6,752.2 180.3,771.2 181.0,758.1 181.7,748.4 182.4,775.6 183.1,759.3 183.8,758.8 184.4,754.2 185.1,773.4 185.8,774.5 186.5,757.4 187.2,759.8 187.9,760.5 188.6,759.8 189.3,769.9 190.0,761.4 190.7,761.1 191.3,771.2 192.0,746.3 192.7,760.1 193.4,776.7 194.1,758.8 194.8,775.1 195.5,757.9 196.2,754.4 196.9,774.4 197.6,756.8 198.2,762.5 198.9,758.6 199.6,747.9 200.3,769.9 201.0,775.4 201.7,777.0 202.4,776.5 203.1,769.2 203.8,765.1 204.5,766.0 205.1,760.5 205.8,769.2 206.5,754.3 207.2,772.6 207.9,741.3 208.6,763.7 209.3,779.7 210.0,782.3 210.7,765.9 211.4,773.7 212.0,763.8 212.7,766.7 213.4,772.8 214.1,781.5 214.8,789.1 215.5,777.7 216.2,763.6 216.9,770.9 217.6,787.3 218.3,771.8 218.9,769.7 219.6,784.1 220.3,772.7 221.0,774.0 221.7,787.8 222.4,771.1 223.1,769.0 223.8,763.3 224.5,763.9 225.2,792.0 225.8,787.2 226.5,770.7 227.2,770.9 227.9,771.1 228.6,732.5 229.3,770.9 230.0,764.5 230.7,766.9 231.4,770.6 232.1,782.3 232.7,769.8 233.4,788.3 234.1,782.1 234.8,785.4 235.5,778.8 236.2,752.1 236.9,802.8 237.6,772.2 238.3,800.4 239.0,786.8 239.6,767.9 240.3,780.7 241.0,795.0 241.7,790.8 242.4,773.8 243.1,791.5 243.8,780.0 244.5,782.4 245.2,791.3 245.9,756.5 246.5,775.7 247.2,809.5 247.9,781.8 248.6,792.8 249.3,773.8 250.0,816.2 250.7,816.2 251.4,778.9 252.1,774.5 252.8,801.3 253.4,790.3 254.1,792.3 254.8,794.8 255.5,763.6 256.2,816.2 256.9,803.1 257.6,775.0 258.3,759.5 259.0,773.8 259.7,816.2 260.3,793.9 261.0,771.2 261.7,797.2 262.4,782.3 263.1,778.1 263.8,800.6 264.5,789.3 265.2,816.2 265.9,816.2 266.6,792.4 267.2,816.2 267.9,767.8 268.6,816.2 269.3,816.2 270.0,788.1 270.7,770.9 271.4,816.2 272.1,774.9 272.8,816.2 273.5,803.7 274.1,784.7 274.8,788.3 275.5,816.2 276.2,790.4 276.9,816.2 277.6,816.2 278.3,782.9 279.0,770.7 279.7,816.2 280.4,816.2 281.0,816.2 281.7,816.2 282.4,816.2 283.1,789.1 283.8,801.5 284.5,796.1 285.2,800.1 285.9,801.6 286.6,782.2 287.3,816.2 287.9,803.5 288.6,782.0 289.3,816.2 290.0,783.5 290.7,786.1 291.4,816.2 292.1,816.2 292.8,785.0 293.5,816.2 294.2,795.8 294.8,794.1 295.5,778.3 296.2,804.1 296.9,788.6 297.6,799.1 298.3,799.5 299.0,781.5 299.7,816.2 300.4,785.7 301.1,779.1 301.7,797.0 302.4,788.0 303.1,801.9 303.8,793.3 304.5,799.8 305.2,796.8 305.9,790.0 306.6,816.2 307.3,769.4 308.0,816.2 308.6,816.2 309.3,782.9 310.0,816.2 310.7,790.6 311.4,816.2 312.1,816.2 312.8,816.2 313.5,816.2 314.2,816.2 314.9,786.5 315.5,802.3 316.2,816.2 316.9,816.2 317.6,794.8 318.3,816.2 319.0,816.2 319.7,816.2 320.4,797.6 321.1,816.2 321.8,816.2 322.4,816.2 323.1,816.2 323.8,816.2 324.5,816.2 325.2,816.2 325.9,797.6 326.6,781.7 327.3,816.2 328.0,804.4 328.7,802.6 329.3,816.2 330.0,816.2 330.7,816.2 331.4,816.2 332.1,816.2 332.8,816.2 333.5,782.2 334.2,816.2 334.9,797.8 335.6,794.0 336.2,816.2 336.9,800.6 337.6,816.2 338.3,802.5 339.0,816.2 339.7,816.2 340.4,816.2 341.1,816.2 341.8,791.4 342.5,775.5 343.1,816.2 343.8,816.2 344.5,802.3 345.2,816.2 345.9,816.2 346.6,816.2 347.3,816.2 348.0,816.2 348.7,816.2 349.4,816.2 350.0,803.7 350.7,801.2 351.4,816.2 352.1,793.4 352.8,816.2 353.5,816.2 354.2,799.8 354.9,816.2 355.6,782.3 356.3,816.2 356.9,816.2 357.6,816.2 358.3,816.2 359.0,816.2 359.7,816.2 360.4,816.2 361.1,816.2 361.8,816.2 362.5,816.2 363.2,816.2 363.8,816.2 364.5,816.2 365.2,816.2 365.9,816.2 366.6,801.6 367.3,799.1 368.0,816.2 368.7,816.2 369.4,792.1 370.1,816.2 370.7,816.2 371.4,789.0 372.1,816.2 372.8,794.0 373.5,816.2 374.2,816.2 374.9,816.2 375.6,816.2 376.3,816.2 377.0,816.2 377.6,816.2 378.3,816.2 379.0,800.9 379.7,816.2 380.4,816.2 381.1,816.2 381.8,816.2 382.5,816.2 383.2,816.2 383.9,816.2 384.5,816.2 385.2,789.6 385.9,816.2 386.6,816.2 387.3,816.2 388.0,805.6 388.7,816.2 389.4,816.2 390.1,816.2 390.8,816.2 391.4,802.3 392.1,816.2 392.8,816.2 393.5,816.2 394.2,816.2 394.9,816.2 395.6,816.2 396.3,816.2 397.0,816.2 397.7,816.2 398.3,816.2 399.0,816.2 399.7,816.2 400.4,816.2 401.1,816.2 401.8,816.2 402.5,816.2 403.2,816.2 403.9,816.2 404.6,816.2 405.2,816.2 405.9,804.3 406.6,802.6 407.3,816.2 408.0,816.2 408.7,816.2 409.4,816.2 410.1,816.2 410.8,795.6 411.5,792.3 412.1,816.2 412.8,816.2 413.5,816.2 414.2,816.2 414.9,799.0 415.6,816.2 416.3,816.2 417.0,816.2 417.7,816.2 418.4,816.2 419.0,816.2 419.7,816.2 420.4,816.2 421.1,816.2 421.8,816.2 422.5,816.2 423.2,816.2 423.9,816.2 424.6,816.2 425.3,816.2 425.9,816.2 426.6,816.2 427.3,816.2 428.0,816.2 428.7,816.2 429.4,816.2 430.1,791.2 430.8,816.2 431.5,816.2 432.2,816.2 432.8,816.2 433.5,816.2 434.2,816.2 434.9,816.2 435.6,816.2 436.3,816.2 437.0,816.2 437.7,816.2 438.4,816.2 439.1,816.2 439.7,816.2 440.4,816.2 441.1,816.2 441.8,816.2 442.5,816.2 443.2,816.2 443.9,816.2 444.6,816.2 445.3,816.2 446.0,816.2 446.6,816.2 447.3,816.2 448.0,816.2 448.7,816.2 449.4,816.2 450.1,816.2 450.8,816.2 451.5,816.2 452.2,816.2 452.9,816.2 453.5,816.2 454.2,816.2 454.9,816.2 455.6,816.2 456.3,816.2 457.0,816.2 457.7,816.2 458.4,816.2 459.1,816.2 459.8,816.2 460.4,816.2 461.1,816.2 461.8,816.2 462.5,816.2 463.2,816.2 463.9,816.2 464.6,816.2 465.3,816.2 466.0,816.2 466.7,816.2 467.3,816.2 468.0,816.2 468.7,816.2 469.4,816.2 470.1,816.2 470.8,816.2 471.5,816.2 472.2,816.2 472.9,816.2 473.6,816.2 474.2,816.2 474.9,816.2 475.6,816.2 476.3,816.2 477.0,816.2 477.7,816.2 478.4,816.2 479.1,816.2 479.8,816.2 480.5,816.2 481.1,816.2 481.8,816.2 482.5,816.2 483.2,816.2 483.9,816.2 484.6,816.2 485.3,816.2 486.0,816.2 486.7,816.2 487.4,816.2 488.0,816.2 488.7,816.2 489.4,816.2 490.1,816.2 490.8,816.2 491.5,816.2 492.2,816.2 492.9,816.2 493.6,816.2 494.3,816.2 494.9,816.2 495.6,816.2 496.3,816.2 497.0,816.2 497.7,816.2 498.4,816.2 499.1,816.2 499.8,816.2 500.5,816.2 501.2,816.2 501.8,816.2 502.5,816.2 503.2,816.2 503.9,816.2 504.6,816.2 505.3,816.2 506.0,816.2 506.7,816.2 507.4,816.2 508.1,816.2 508.7,816.2 509.4,816.2 510.1,816.2 510.8,816.2 511.5,816.2 512.2,816.2 512.9,816.2 513.6,816.2 514.3,816.2 515.0,816.2 515.6,816.2 516.3,816.2 517.0,816.2 517.7,816.2 518.4,816.2 519.1,816.2 519.8,816.2 520.5,816.2 521.2,816.2 521.9,816.2 522.5,816.2 523.2,816.2 523.9,816.2 524.6,816.2 525.3,816.2 526.0,816.2 526.7,816.2 527.4,816.2 528.1,816.2" fill="none" stroke="#00ff00" stroke-width="3.1" stroke-linejoin="round" />
<polyline points="84.4,577.1 85.1,585.5 85.8,594.1 86.5,602.2 87.2,611.0 87.9,619.4 88.5,628.0 89.2,634.8 89.9,642.2 90.6,649.2 91.3,654.0 92.0,662.4 92.7,669.3 93.4,677.2 94.1,678.0 94.7,680.6 95.4,679.4 96.1,681.9 96.8,685.8 97.5,683.8 98.2,687.3 98.9,691.1 99.6,696.2 100.3,689.0 101.0,696.1 101.6,697.4 102.3,693.0 103.0,690.7 103.7,693.5 104.4,695.9 105.1,696.5 105.8,696.5 106.5,697.4 107.2,699.3 107.9,700.5 108.5,701.6 109.2,703.9 109.9,702.9 110.6,707.3 111.3,703.1 112.0,706.0 112.7,706.7 113.4,703.2 114.1,699.9 114.8,701.7 115.4,709.6 116.1,708.2 116.8,702.5 117.5,708.9 118.2,706.8 118.9,704.7 119.6,709.9 120.3,706.8 121.0,711.8 121.7,709.8 122.3,707.1 123.0,713.8 123.7,707.4 124.4,709.2 125.1,707.6 125.8,709.1 126.5,705.5 127.2,710.1 127.9,712.4 128.6,710.8 129.2,709.6 129.9,711.7 130.6,712.1 131.3,715.1 132.0,715.3 132.7,718.3 133.4,707.1 134.1,718.5 134.8,716.8 135.5,717.2 136.1,711.4 136.8,716.3 137.5,710.7 138.2,718.4 138.9,715.0 139.6,719.7 140.3,708.4 141.0,721.8 141.7,716.2 142.4,715.2 143.0,716.4 143.7,719.1 144.4,719.2 145.1,718.8 145.8,720.0 146.5,715.7 147.2,710.8 147.9,722.7 148.6,726.4 149.3,721.3 149.9,710.3 150.6,725.1 151.3,714.9 152.0,715.0 152.7,725.0 153.4,720.4 154.1,716.1 154.8,725.2 155.5,724.8 156.2,726.8 156.8,729.1 157.5,727.8 158.2,730.7 158.9,725.3 159.6,729.4 160.3,725.1 161.0,733.7 161.7,725.2 162.4,723.2 163.1,736.9 163.7,726.0 164.4,722.2 165.1,734.3 165.8,720.6 166.5,727.0 167.2,732.9 167.9,730.0 168.6,727.2 169.3,730.0 170.0,727.9 170.6,735.7 171.3,730.4 172.0,739.0 172.7,732.5 173.4,737.0 174.1,736.5 174.8,726.3 175.5,727.4 176.2,730.3 176.9,739.9 177.5,736.0 178.2,727.9 178.9,734.1 179.6,722.2 180.3,733.3 181.0,734.8 181.7,737.9 182.4,735.7 183.1,737.7 183.8,733.0 184.4,731.9 185.1,742.4 185.8,746.0 186.5,749.4 187.2,735.7 187.9,745.7 188.6,752.4 189.3,737.4 190.0,724.8 190.7,740.4 191.3,735.5 192.0,740.5 192.7,742.0 193.4,735.9 194.1,743.8 194.8,740.6 195.5,740.6 196.2,747.3 196.9,736.9 197.6,744.8 198.2,748.9 198.9,740.7 199.6,750.5 200.3,744.7 201.0,745.3 201.7,738.2 202.4,742.7 203.1,746.4 203.8,740.9 204.5,737.3 205.1,743.3 205.8,747.4 206.5,757.0 207.2,755.6 207.9,750.6 208.6,753.1 209.3,750.4 210.0,749.0 210.7,745.9 211.4,750.6 212.0,746.9 212.7,750.3 213.4,765.6 214.1,758.3 214.8,752.8 215.5,761.0 216.2,747.9 216.9,741.1 217.6,743.8 218.3,754.9 218.9,742.3 219.6,752.8 220.3,756.9 221.0,759.4 221.7,757.3 222.4,758.3 223.1,754.2 223.8,754.6 224.5,756.2 225.2,753.1 225.8,747.4 226.5,749.6 227.2,769.5 227.9,778.5 228.6,750.6 229.3,769.7 230.0,760.7 230.7,768.8 231.4,774.4 232.1,755.3 232.7,753.8 233.4,765.3 234.1,782.6 234.8,765.7 235.5,758.1 236.2,774.3 236.9,760.5 237.6,762.5 238.3,757.7 239.0,762.0 239.6,771.8 240.3,753.2 241.0,765.4 241.7,764.6 242.4,772.9 243.1,768.9 243.8,773.2 244.5,767.2 245.2,750.5 245.9,778.6 246.5,781.2 247.2,753.5 247.9,769.1 248.6,773.7 249.3,758.3 250.0,773.8 250.7,751.6 251.4,762.5 252.1,773.7 252.8,749.2 253.4,775.4 254.1,763.0 254.8,767.4 255.5,758.2 256.2,755.9 256.9,770.8 257.6,778.6 258.3,767.2 259.0,778.4 259.7,752.7 260.3,771.1 261.0,776.2 261.7,771.2 262.4,786.4 263.1,783.0 263.8,762.0 264.5,780.5 265.2,784.7 265.9,769.3 266.6,763.1 267.2,768.0 267.9,765.4 268.6,783.2 269.3,790.2 270.0,761.1 270.7,779.7 271.4,779.3 272.1,763.5 272.8,771.6 273.5,772.9 274.1,755.7 274.8,784.7 275.5,768.8 276.2,778.0 276.9,776.1 277.6,763.3 278.3,774.2 279.0,816.2 279.7,768.8 280.4,784.1 281.0,789.3 281.7,791.8 282.4,816.2 283.1,759.6 283.8,793.3 284.5,784.2 285.2,785.1 285.9,779.1 286.6,773.9 287.3,773.7 287.9,789.5 288.6,785.3 289.3,780.7 290.0,786.7 290.7,766.8 291.4,779.2 292.1,776.8 292.8,777.8 293.5,772.5 294.2,783.6 294.8,800.2 295.5,781.8 296.2,793.7 296.9,792.6 297.6,780.4 298.3,773.4 299.0,787.3 299.7,784.3 300.4,816.2 301.1,785.6 301.7,816.2 302.4,782.5 303.1,816.2 303.8,816.2 304.5,816.2 305.2,775.2 305.9,782.5 306.6,792.1 307.3,816.2 308.0,793.4 308.6,801.1 309.3,798.3 310.0,785.0 310.7,772.6 311.4,816.2 312.1,816.2 312.8,787.7 313.5,779.1 314.2,816.2 314.9,795.0 315.5,816.2 316.2,803.0 316.9,786.5 317.6,795.7 318.3,816.2 319.0,816.2 319.7,800.0 320.4,816.2 321.1,816.2 321.8,775.5 322.4,800.3 323.1,816.2 323.8,785.3 324.5,816.2 325.2,816.2 325.9,816.2 326.6,782.3 327.3,803.5 328.0,767.8 328.7,804.0 329.3,816.2 330.0,780.2 330.7,775.1 331.4,774.7 332.1,816.2 332.8,787.0 333.5,816.2 334.2,790.2 334.9,816.2 335.6,816.2 336.2,799.8 336.9,801.9 337.6,816.2 338.3,816.2 339.0,816.2 339.7,816.2 340.4,816.2 341.1,816.2 341.8,803.6 342.5,816.2 343.1,816.2 343.8,802.9 344.5,816.2 345.2,785.2 345.9,795.4 346.6,816.2 347.3,816.2 348.0,789.4 348.7,796.8 349.4,816.2 350.0,816.2 350.7,816.2 351.4,816.2 352.1,816.2 352.8,816.2 353.5,816.2 354.2,816.2 354.9,816.2 355.6,816.2 356.3,802.0 356.9,816.2 357.6,816.2 358.3,816.2 359.0,816.2 359.7,816.2 360.4,816.2 361.1,816.2 361.8,816.2 362.5,787.4 363.2,788.8 363.8,816.2 364.5,816.2 365.2,802.3 365.9,816.2 366.6,804.4 367.3,799.4 368.0,816.2 368.7,816.2 369.4,816.2 370.1,816.2 370.7,816.2 371.4,816.2 372.1,816.2 372.8,798.6 373.5,816.2 374.2,792.5 374.9,816.2 375.6,816.2 376.3,816.2 377.0,816.2 377.6,799.7 378.3,816.2 379.0,816.2 379.7,816.2 380.4,816.2 381.1,816.2 381.8,816.2 382.5,816.2 383.2,816.2 383.9,816.2 384.5,816.2 385.2,816.2 385.9,816.2 386.6,816.2 387.3,816.2 388.0,816.2 388.7,816.2 389.4,816.2 390.1,816.2 390.8,816.2 391.4,816.2 392.1,816.2 392.8,816.2 393.5,816.2 394.2,816.2 394.9,816.2 395.6,816.2 396.3,816.2 397.0,816.2 397.7,816.2 398.3,816.2 399.0,816.2 399.7,816.2 400.4,816.2 401.1,816.2 401.8,816.2 402.5,816.2 403.2,816.2 403.9,798.6 404.6,816.2 405.2,816.2 405.9,816.2 406.6,816.2 407.3,816.2 408.0,816.2 408.7,816.2 409.4,816.2 410.1,816.2 410.8,816.2" fill="none" stroke="#0000ff" stroke-width="3.1" stroke-linejoin="round" />
<polyline points="84.4,553.7 85.1,559.8 85.8,566.0 86.5,572.2 87.2,578.3 87.9,584.4 88.5,590.8 89.2,594.1 89.9,597.1 90.6,600.2 91.3,602.9 92.0,606.1 92.7,609.2 93.4,612.7 94.1,613.4 94.7,615.3 95.4,616.2 96.1,617.5 96.8,618.5 97.5,620.8 98.2,622.9 98.9,622.9 99.6,623.3 100.3,624.1 101.0,625.1 101.6,626.0 102.3,625.9 103.0,627.4 103.7,627.1 104.4,627.6 105.1,627.8 105.8,627.3 106.5,629.3 107.2,630.4 107.9,630.6 108.5,632.4 109.2,632.0 109.9,632.2 110.6,632.7 111.3,632.6 112.0,633.8 112.7,632.7 113.4,633.9 114.1,634.4 114.8,635.0 115.4,635.0 116.1,634.9 116.8,636.7 117.5,636.9 118.2,637.0 118.9,638.4 119.6,638.3 120.3,638.4 121.0,637.6 121.7,638.5 122.3,639.0 123.0,638.8 123.7,640.1 124.4,640.0 125.1,640.9 125.8,641.0 126.5,642.2 127.2,644.5 127.9,642.6 128.6,641.3 129.2,642.3 129.9,642.6 130.6,642.7 131.3,644.4 132.0,644.6 132.7,646.0 133.4,646.0 134.1,645.4 134.8,645.1 135.5,647.0 136.1,647.8 136.8,647.7 137.5,647.4 138.2,650.3 138.9,651.7 139.6,650.0 140.3,651.2 141.0,650.8 141.7,650.7 142.4,651.5 143.0,649.4 143.7,651.3 144.4,651.7 145.1,651.7 145.8,654.5 146.5,651.9 147.2,653.9 147.9,653.2 148.6,656.1 149.3,657.2 149.9,654.2 150.6,655.2 151.3,657.5 152.0,657.9 152.7,655.3 153.4,659.2 154.1,655.3 154.8,659.6 155.5,657.6 156.2,659.5 156.8,658.5 157.5,660.7 158.2,660.5 158.9,660.6 159.6,662.6 160.3,660.2 161.0,662.7 161.7,662.6 162.4,664.3 163.1,667.3 163.7,663.8 164.4,659.8 165.1,662.9 165.8,664.7 166.5,665.5 167.2,665.4 167.9,664.9 168.6,668.5 169.3,664.6 170.0,665.8 170.6,666.1 171.3,667.1 172.0,668.3 172.7,667.4 173.4,667.9 174.1,670.2 174.8,671.1 175.5,670.1 176.2,667.5 176.9,673.7 177.5,674.6 178.2,671.6 178.9,672.2 179.6,672.4 180.3,672.6 181.0,674.1 181.7,670.6 182.4,678.0 183.1,676.7 183.8,675.4 184.4,679.4 185.1,676.4 185.8,672.5 186.5,676.8 187.2,676.6 187.9,680.7 188.6,679.5 189.3,679.4 190.0,679.6 190.7,676.0 191.3,678.2 192.0,682.9 192.7,679.8 193.4,679.6 194.1,678.3 194.8,677.6 195.5,684.9 196.2,684.8 196.9,686.5 197.6,684.1 198.2,682.6 198.9,681.6 199.6,685.0 200.3,686.1 201.0,685.2 201.7,688.5 202.4,680.5 203.1,691.6 203.8,686.8 204.5,681.8 205.1,688.2 205.8,689.2 206.5,690.2 207.2,690.1 207.9,685.7 208.6,697.2 209.3,686.0 210.0,695.7 210.7,692.5 211.4,693.5 212.0,690.7 212.7,698.1 213.4,691.9 214.1,687.2 214.8,698.7 215.5,694.1 216.2,697.3 216.9,694.1 217.6,695.9 218.3,698.6 218.9,695.2 219.6,691.1 220.3,698.4 221.0,695.6 221.7,703.1 222.4,702.4 223.1,697.8 223.8,694.5 224.5,699.0 225.2,701.9 225.8,701.2 226.5,706.3 227.2,699.7 227.9,699.1 228.6,704.6 229.3,705.2 230.0,702.7 230.7,705.9 231.4,704.9 232.1,696.5 232.7,706.5 233.4,707.4 234.1,709.1 234.8,703.6 235.5,708.0 236.2,710.4 236.9,702.3 237.6,702.2 238.3,711.6 239.0,717.7 239.6,705.2 240.3,713.3 241.0,707.0 241.7,720.2 242.4,707.3 243.1,717.7 243.8,708.9 244.5,712.7 245.2,717.9 245.9,715.7 246.5,710.7 247.2,714.0 247.9,712.0 248.6,705.4 249.3,723.8 250.0,708.0 250.7,716.1 251.4,721.8 252.1,724.5 252.8,719.0 253.4,713.5 254.1,719.6 254.8,711.2 255.5,727.7 256.2,720.3 256.9,727.7 257.6,719.2 258.3,716.7 259.0,724.5 259.7,737.4 260.3,721.9 261.0,721.0 261.7,721.6 262.4,717.2 263.1,731.2 263.8,721.3 264.5,718.6 265.2,737.0 265.9,724.8 266.6,730.2 267.2,728.1 267.9,725.9 268.6,731.6 269.3,733.2 270.0,729.2 270.7,736.8 271.4,737.3 272.1,726.5 272.8,738.7 273.5,727.4 274.1,729.2 274.8,744.0 275.5,737.6 276.2,725.6 276.9,740.6 277.6,737.6 278.3,731.8 279.0,730.1 279.7,737.6 280.4,740.5 281.0,726.9 281.7,725.1 282.4,730.8 283.1,737.6 283.8,744.4 284.5,745.0 285.2,735.8 285.9,737.0 286.6,730.2 287.3,736.1 287.9,752.4 288.6,734.0 289.3,749.7 290.0,745.6 290.7,741.3 291.4,728.6 292.1,720.5 292.8,739.9 293.5,746.4 294.2,741.4 294.8,739.1 295.5,748.9 296.2,732.8 296.9,745.5 297.6,743.8 298.3,742.9 299.0,745.3 299.7,742.4 300.4,754.6 301.1,754.6 301.7,759.5 302.4,747.4 303.1,745.0 303.8,748.1 304.5,738.4 305.2,752.9 305.9,747.7 306.6,763.0 307.3,757.5 308.0,748.7 308.6,747.8 309.3,758.1 310.0,756.6 310.7,769.7 311.4,760.1 312.1,749.6 312.8,752.7 313.5,753.8 314.2,758.1 314.9,758.9 315.5,765.2 316.2,753.4 316.9,756.3 317.6,756.0 318.3,765.6 319.0,781.0 319.7,751.5 320.4,766.4 321.1,770.4 321.8,756.2 322.4,766.8 323.1,753.5 323.8,758.0 324.5,757.7 325.2,777.6 325.9,753.4 326.6,762.8 327.3,769.3 328.0,764.7 328.7,783.8 329.3,762.9 330.0,777.4 330.7,781.0 331.4,783.1 332.1,757.3 332.8,775.0 333.5,753.8 334.2,774.9 334.9,787.1 335.6,781.6 336.2,758.1 336.9,772.6 337.6,777.0 338.3,770.1 339.0,767.0 339.7,760.9 340.4,757.8 341.1,777.1 341.8,787.6 342.5,778.4 343.1,771.7 343.8,785.1 344.5,785.5 345.2,772.1 345.9,776.7 346.6,776.3 347.3,785.1 348.0,779.9 348.7,787.7 349.4,768.9 350.0,767.8 350.7,798.8 351.4,789.5 352.1,796.0 352.8,787.4 353.5,781.8 354.2,796.8 354.9,791.6 355.6,793.0 356.3,780.5 356.9,782.4 357.6,791.3 358.3,782.1 359.0,790.3 359.7,787.7 360.4,767.3 361.1,771.3 361.8,800.1 362.5,777.6 363.2,778.3 363.8,799.8 364.5,816.2 365.2,771.7 365.9,800.8 366.6,799.0 367.3,778.6 368.0,787.1 368.7,784.5 369.4,787.2 370.1,816.2 370.7,816.2 371.4,780.8 372.1,779.9 372.8,795.4 373.5,816.2 374.2,816.2 374.9,788.0 375.6,787.6 376.3,816.2 377.0,782.0 377.6,816.2 378.3,788.5 379.0,816.2 379.7,816.2 380.4,797.3 381.1,793.1 381.8,799.9 382.5,797.5 383.2,816.2 383.9,801.3 384.5,816.2 385.2,777.8 385.9,782.0 386.6,816.2 387.3,790.0 388.0,816.2 388.7,816.2 389.4,795.0 390.1,801.1 390.8,816.2 391.4,816.2 392.1,816.2 392.8,816.2 393.5,800.4 394.2,816.2 394.9,792.5 395.6,816.2 396.3,816.2 397.0,798.1 397.7,816.2 398.3,796.0 399.0,800.6 399.7,793.4 400.4,796.5 401.1,816.2 401.8,816.2 402.5,792.7 403.2,816.2 403.9,802.6 404.6,795.6 405.2,816.2 405.9,791.7 406.6,816.2 407.3,816.2 408.0,816.2 408.7,801.1 409.4,816.2 410.1,816.2 410.8,788.6 411.5,816.2 412.1,816.2 412.8,816.2 413.5,786.0 414.2,816.2 414.9,816.2 415.6,816.2 416.3,796.2 417.0,816.2 417.7,816.2 418.4,816.2 419.0,816.2 419.7,816.2 420.4,816.2 421.1,816.2 421.8,790.5 422.5,816.2 423.2,797.8 423.9,816.2 424.6,816.2 425.3,798.4 425.9,816.2 426.6,816.2 427.3,816.2 428.0,816.2 428.7,816.2 429.4,816.2 430.1,816.2 430.8,774.7 431.5,794.3 432.2,816.2 432.8,816.2 433.5,816.2 434.2,816.2 434.9,816.2 435.6,816.2 436.3,816.2 437.0,816.2 437.7,816.2 438.4,816.2 439.1,816.2 439.7,816.2 440.4,816.2 441.1,816.2 441.8,816.2 442.5,816.2 443.2,816.2 443.9,816.2 444.6,816.2 445.3,803.9 446.0,816.2 446.6,816.2 447.3,816.2 448.0,816.2 448.7,816.2 449.4,816.2 450.1,816.2 450.8,816.2 451.5,816.2 452.2,816.2 452.9,816.2 453.5,816.2 454.2,816.2 454.9,816.2 455.6,816.2 456.3,816.2 457.0,816.2 457.7,816.2 458.4,816.2 459.1,816.2 459.8,816.2 460.4,816.2 461.1,816.2 461.8,816.2 462.5,816.2 463.2,816.2 463.9,816.2 464.6,816.2 465.3,816.2" fill="none" stroke="#000000" stroke-width="3.6" stroke-linejoin="round" />
<polyline points="84.4,551.3 85.1,558.6 85.8,565.9 86.5,573.3 87.2,580.6 87.9,587.9 88.5,595.3 89.2,599.5 89.9,603.0 90.6,606.9 91.3,610.2 92.0,614.5 92.7,617.5 93.4,621.4 94.1,623.1 94.7,625.5 95.4,626.5 96.1,627.7 96.8,629.9 97.5,631.7 98.2,633.2 98.9,634.5 99.6,636.3 100.3,636.0 101.0,637.4 101.6,638.3 102.3,639.5 103.0,639.2 103.7,640.0 104.4,641.4 105.1,643.0 105.8,642.1 106.5,643.2 107.2,643.6 107.9,643.2 108.5,645.2 109.2,645.8 109.9,646.5 110.6,646.2 111.3,646.1 112.0,646.5 112.7,645.5 113.4,646.7 114.1,647.4 114.8,648.1 115.4,647.6 116.1,648.8 116.8,648.2 117.5,648.3 118.2,649.1 118.9,649.7 119.6,651.3 120.3,648.7 121.0,649.6 121.7,649.9 122.3,651.9 123.0,649.6 123.7,651.5 124.4,651.6 125.1,652.6 125.8,653.5 126.5,651.1 127.2,651.2 127.9,652.9 128.6,653.6 129.2,653.6 129.9,653.8 130.6,655.0 131.3,654.3 132.0,654.2 132.7,653.5 133.4,654.8 134.1,656.8 134.8,655.0 135.5,655.9 136.1,654.5 136.8,654.7 137.5,654.9 138.2,657.4 138.9,654.8 139.6,656.9 140.3,655.7 141.0,658.4 141.7,658.4 142.4,658.0 143.0,658.4 143.7,657.4 144.4,659.4 145.1,658.1 145.8,658.8 146.5,660.2 147.2,659.5 147.9,661.1 148.6,657.9 149.3,664.3 149.9,660.5 150.6,663.8 151.3,662.1 152.0,662.2 152.7,660.5 153.4,663.6 154.1,661.2 154.8,664.7 155.5,661.7 156.2,664.4 156.8,663.9 157.5,664.7 158.2,662.8 158.9,663.3 159.6,664.5 160.3,667.0 161.0,666.6 161.7,667.3 162.4,669.3 163.1,664.6 163.7,667.2 164.4,667.5 165.1,665.1 165.8,668.2 166.5,669.1 167.2,668.4 167.9,670.1 168.6,668.1 169.3,669.5 170.0,669.9 170.6,670.4 171.3,669.8 172.0,669.8 172.7,671.1 173.4,671.1 174.1,670.9 174.8,671.3 175.5,671.2 176.2,672.7 176.9,670.1 177.5,671.9 178.2,673.3 178.9,672.0 179.6,673.0 180.3,676.3 181.0,672.8 181.7,675.6 182.4,672.2 183.1,674.7 183.8,673.0 184.4,676.0 185.1,674.9 185.8,673.0 186.5,676.1 187.2,677.1 187.9,674.8 188.6,675.1 189.3,677.8 190.0,681.0 190.7,678.5 191.3,676.1 192.0,679.4 192.7,678.0 193.4,679.7 194.1,682.7 194.8,680.2 195.5,677.5 196.2,684.4 196.9,678.9 197.6,682.4 198.2,678.6 198.9,678.6 199.6,680.8 200.3,681.1 201.0,682.8 201.7,684.3 202.4,677.4 203.1,683.7 203.8,678.2 204.5,684.2 205.1,681.1 205.8,685.4 206.5,681.6 207.2,683.9 207.9,684.1 208.6,682.1 209.3,685.0 210.0,687.7 210.7,682.4 211.4,687.5 212.0,683.5 212.7,682.5 213.4,686.3 214.1,682.4 214.8,684.5 215.5,687.9 216.2,682.5 216.9,689.6 217.6,687.8 218.3,687.6 218.9,685.6 219.6,684.4 220.3,684.8 221.0,687.3 221.7,689.0 222.4,693.6 223.1,692.4 223.8,683.9 224.5,694.5 225.2,691.7 225.8,686.3 226.5,689.3 227.2,687.4 227.9,688.8 228.6,686.2 229.3,690.0 230.0,689.1 230.7,693.6 231.4,689.8 232.1,693.1 232.7,693.5 233.4,689.5 234.1,689.7 234.8,687.4 235.5,687.8 236.2,690.3 236.9,699.2 237.6,687.8 238.3,691.0 239.0,696.8 239.6,692.1 240.3,698.3 241.0,692.9 241.7,699.7 242.4,698.3 243.1,693.3 243.8,692.2 244.5,695.1 245.2,697.5 245.9,704.2 246.5,697.7 247.2,695.3 247.9,698.6 248.6,697.8 249.3,698.6 250.0,699.3 250.7,698.1 251.4,699.7 252.1,693.5 252.8,707.4 253.4,701.5 254.1,703.0 254.8,699.1 255.5,699.9 256.2,694.2 256.9,693.2 257.6,704.1 258.3,701.3 259.0,700.8 259.7,705.0 260.3,699.6 261.0,703.3 261.7,707.0 262.4,704.1 263.1,707.3 263.8,699.2 264.5,695.9 265.2,703.0 265.9,703.8 266.6,703.9 267.2,699.8 267.9,700.2 268.6,705.8 269.3,704.5 270.0,703.1 270.7,711.1 271.4,701.2 272.1,699.1 272.8,701.8 273.5,712.7 274.1,716.2 274.8,704.6 275.5,711.4 276.2,707.0 276.9,701.6 277.6,711.8 278.3,710.8 279.0,708.1 279.7,715.6 280.4,713.4 281.0,710.1 281.7,711.9 282.4,707.9 283.1,698.0 283.8,710.8 284.5,715.5 285.2,705.1 285.9,719.7 286.6,719.0 287.3,715.5 287.9,714.3 288.6,716.2 289.3,713.6 290.0,712.4 290.7,708.7 291.4,713.8 292.1,717.3 292.8,709.7 293.5,719.1 294.2,723.5 294.8,709.5 295.5,710.1 296.2,720.1 296.9,718.4 297.6,721.3 298.3,715.3 299.0,708.3 299.7,713.9 300.4,712.4 301.1,713.8 301.7,718.3 302.4,712.9 303.1,714.9 303.8,711.5 304.5,721.8 305.2,728.8 305.9,714.4 306.6,718.3 307.3,722.0 308.0,722.0 308.6,707.3 309.3,724.7 310.0,726.1 310.7,721.3 311.4,715.6 312.1,709.9 312.8,719.0 313.5,729.8 314.2,712.1 314.9,723.3 315.5,728.1 316.2,729.7 316.9,719.2 317.6,722.7 318.3,722.3 319.0,717.2 319.7,729.3 320.4,717.2 321.1,728.1 321.8,713.0 322.4,722.1 323.1,731.1 323.8,737.7 324.5,721.5 325.2,728.6 325.9,727.6 326.6,722.4 327.3,721.2 328.0,720.1 328.7,734.4 329.3,719.3 330.0,731.4 330.7,741.6 331.4,735.4 332.1,727.3 332.8,734.7 333.5,729.6 334.2,727.2 334.9,730.6 335.6,732.7 336.2,737.5 336.9,730.0 337.6,743.0 338.3,734.8 339.0,736.5 339.7,732.5 340.4,732.5 341.1,725.4 341.8,721.7 342.5,738.8 343.1,719.6 343.8,737.2 344.5,731.4 345.2,729.5 345.9,717.4 346.6,736.6 347.3,744.8 348.0,724.0 348.7,739.1 349.4,736.3 350.0,741.4 350.7,736.7 351.4,740.1 352.1,730.5 352.8,734.5 353.5,739.7 354.2,729.0 354.9,734.0 355.6,748.1 356.3,730.1 356.9,735.1 357.6,727.3 358.3,736.0 359.0,742.3 359.7,738.6 360.4,732.0 361.1,742.9 361.8,740.8 362.5,739.6 363.2,746.1 363.8,743.7 364.5,737.6 365.2,730.7 365.9,737.0 366.6,739.7 367.3,745.3 368.0,732.2 368.7,737.0 369.4,745.2 370.1,734.2 370.7,736.8 371.4,746.6 372.1,741.8 372.8,744.8 373.5,722.9 374.2,738.0 374.9,740.7 375.6,738.9 376.3,732.6 377.0,743.4 377.6,747.3 378.3,737.1 379.0,744.8 379.7,751.6 380.4,753.3 381.1,733.0 381.8,743.5 382.5,749.1 383.2,746.7 383.9,739.2 384.5,747.7 385.2,756.6 385.9,743.5 386.6,737.0 387.3,737.7 388.0,751.0 388.7,737.2 389.4,745.5 390.1,737.8 390.8,743.2 391.4,759.7 392.1,734.5 392.8,748.0 393.5,744.1 394.2,759.5 394.9,745.1 395.6,740.6 396.3,734.2 397.0,738.6 397.7,745.6 398.3,762.7 399.0,749.5 399.7,755.6 400.4,749.1 401.1,761.2 401.8,753.2 402.5,756.0 403.2,756.5 403.9,756.7 404.6,753.6 405.2,750.4 405.9,773.8 406.6,773.1 407.3,756.3 408.0,755.4 408.7,752.4 409.4,760.4 410.1,754.4 410.8,753.6 411.5,761.2 412.1,746.5 412.8,753.9 413.5,750.9 414.2,755.3 414.9,737.9 415.6,751.2 416.3,760.9 417.0,749.7 417.7,771.5 418.4,756.3 419.0,754.8 419.7,756.7 420.4,761.1 421.1,767.4 421.8,765.6 422.5,757.9 423.2,769.1 423.9,743.3 424.6,783.5 425.3,762.7 425.9,759.0 426.6,755.6 427.3,768.9 428.0,750.3 428.7,773.9 429.4,766.5 430.1,755.7 430.8,752.0 431.5,775.1 432.2,737.4 432.8,770.9 433.5,775.1 434.2,758.3 434.9,766.6 435.6,768.3 436.3,758.1 437.0,778.7 437.7,780.7 438.4,770.4 439.1,754.5 439.7,770.5 440.4,749.9 441.1,754.0 441.8,763.2 442.5,762.9 443.2,763.7 443.9,765.2 444.6,770.7 445.3,769.8 446.0,778.2 446.6,789.8 447.3,757.1 448.0,766.8 448.7,768.6 449.4,764.9 450.1,777.5 450.8,779.6 451.5,772.6 452.2,756.1 452.9,782.2 453.5,797.4 454.2,776.2 454.9,759.4 455.6,789.2 456.3,783.8 457.0,769.2 457.7,745.5 458.4,786.6 459.1,787.3 459.8,769.4 460.4,760.6 461.1,780.1 461.8,790.9 462.5,769.5 463.2,767.8 463.9,755.8 464.6,767.9 465.3,766.4 466.0,778.2 466.7,749.8 467.3,780.2 468.0,782.7 468.7,757.2 469.4,792.4 470.1,796.7 470.8,776.0 471.5,777.6 472.2,780.3 472.9,767.5 473.6,788.1 474.2,778.0 474.9,816.2 475.6,788.7 476.3,780.1 477.0,770.6 477.7,757.2 478.4,774.0 479.1,816.2 479.8,781.2 480.5,780.5 481.1,771.2 481.8,779.6 482.5,768.3 483.2,777.9 483.9,765.5 484.6,787.4 485.3,781.4 486.0,816.2 486.7,789.7 487.4,792.3 488.0,816.2 488.7,792.5 489.4,778.9 490.1,804.9 490.8,802.1 491.5,765.0 492.2,793.6 492.9,783.7 493.6,802.5 494.3,785.4 494.9,794.5 495.6,804.0 496.3,772.4 497.0,774.3 497.7,788.8 498.4,816.2 499.1,767.1 499.8,780.0 500.5,816.2 501.2,786.6 501.8,781.9 502.5,793.3 503.2,792.6 503.9,784.8 504.6,795.3 505.3,816.2 506.0,790.5 506.7,777.9 507.4,803.6 508.1,782.8 508.7,782.6 509.4,782.9 510.1,816.2 510.8,816.2 511.5,786.2 512.2,790.6 512.9,781.7 513.6,816.2 514.3,816.2 515.0,781.8 515.6,795.0 516.3,789.5 517.0,790.1 517.7,803.9 518.4,816.2 519.1,776.8 519.8,795.1 520.5,816.2 521.2,803.6 521.9,816.2 522.5,816.2 523.2,787.9 523.9,802.5 524.6,816.2 525.3,816.2 526.0,816.2 526.7,796.5 527.4,816.2 528.1,783.0 528.8,816.2 529.4,816.2 530.1,816.2 530.8,799.5 531.5,816.2 532.2,803.1 532.9,805.2 533.6,788.8 534.3,816.2 535.0,805.0 535.7,792.7 536.3,816.2 537.0,796.5 537.7,816.2 538.4,800.3 539.1,816.2 539.8,788.2 540.5,777.0 541.2,802.8 541.9,816.2 542.6,803.0 543.2,816.2 543.9,816.2 544.6,816.2 545.3,816.2 546.0,816.2 546.7,795.8 547.4,816.2 548.1,816.2 548.8,816.2 549.5,816.2 550.1,796.1 550.8,792.8 551.5,816.2 552.2,816.2 552.9,816.2" fill="none" stroke="#ff0000" stroke-width="3.1" stroke-linejoin="round" />
<polyline points="84.4,600.6 86.8,647.4 89.2,699.0 91.6,745.9 93.4,785.7 94.6,809.2 95.8,792.8 97.0,811.5 98.2,790.4 99.4,816.2 100.6,802.1 101.8,816.2 103.0,816.2 104.2,816.2 106.0,816.2 107.2,799.8 108.4,816.2 109.6,816.2 110.8,816.2 150.4,816.2" fill="none" stroke="#ff00ff" stroke-width="3.1" stroke-linejoin="round" />
</g>
<rect x="83.7" y="464.6" width="468.7" height="351.6" fill="none" stroke="#333" stroke-width="0.9"/>
<path d="M192.4 816.2 v-5 M192.4 464.6 v5 M312.4 816.2 v-5 M312.4 464.6 v5 M432.4 816.2 v-5 M432.4 464.6 v5 M552.4 816.2 v-5 M552.4 464.6 v5 M83.7 816.2 h5 M552.4 816.2 h-5 M83.7 699.0 h5 M552.4 699.0 h-5 M83.7 581.8 h5 M552.4 581.8 h-5 M83.7 464.6 h5 M552.4 464.6 h-5 " stroke="#333" stroke-width="0.9" fill="none"/>
<text transform="translate(192.4,848.2) scale(0.93,1)" font-size="27" text-anchor="middle" fill="#1a1a1a" font-weight="normal" font-style="normal" >200</text>
<text transform="translate(312.4,848.2) scale(0.93,1)" font-size="27" text-anchor="middle" fill="#1a1a1a" font-weight="normal" font-style="normal" >400</text>
<text transform="translate(432.4,848.2) scale(0.93,1)" font-size="27" text-anchor="middle" fill="#1a1a1a" font-weight="normal" font-style="normal" >600</text>
<text transform="translate(552.4,848.2) scale(0.93,1)" font-size="27" text-anchor="middle" fill="#1a1a1a" font-weight="normal" font-style="normal" >800</text>
<text transform="translate(74.7,825.2) scale(0.93,1)" font-size="27" text-anchor="end" fill="#1a1a1a" font-weight="normal" font-style="normal" >0</text>
<text transform="translate(74.7,708.0) scale(0.93,1)" font-size="27" text-anchor="end" fill="#1a1a1a" font-weight="normal" font-style="normal" >5</text>
<text transform="translate(74.7,590.8) scale(0.93,1)" font-size="27" text-anchor="end" fill="#1a1a1a" font-weight="normal" font-style="normal" >10</text>
<text transform="translate(74.7,473.6) scale(0.93,1)" font-size="27" text-anchor="end" fill="#1a1a1a" font-weight="normal" font-style="normal" >15</text>
<text x="319.1" y="884.0" font-size="29" text-anchor="middle" fill="#1a1a1a" font-weight="normal" font-style="normal" >Energy(keV)</text>
<text transform="translate(25,640) rotate(-90)" font-size="30" text-anchor="middle" fill="#1a1a1a">ln(N<tspan dy="12" font-size="22" >e</tspan><tspan dy="-12" font-size="1">&#8203;</tspan>)(a. u.)</text>
<text transform="translate(92.0,500.5) scale(0.93,1)" font-size="28.5" text-anchor="start" fill="#1a1a1a" font-weight="normal" font-style="normal" >(d)</text>
<path d="M216 486 h42" stroke="#000000" stroke-width="3.4"/>
<text x="262" y="493" font-size="23.6" fill="#1a1a1a"><tspan font-style="italic">&#948;</tspan><tspan font-style="italic">&#969;</tspan><tspan dy="11" font-size="20" >0</tspan><tspan dy="-11" font-size="1">&#8203;</tspan>=0, <tspan font-style="italic">&#945;</tspan>=0</text>
<path d="M216 524.8 h42" stroke="#ff0000" stroke-width="3.4"/>
<text x="262" y="531.8" font-size="23.6" fill="#1a1a1a"><tspan font-style="italic">&#948;</tspan><tspan font-style="italic">&#969;</tspan><tspan dy="11" font-size="20" >0</tspan><tspan dy="-11" font-size="1">&#8203;</tspan>=0.5%<tspan font-style="italic">&#969;</tspan><tspan dy="11" font-size="20" >0</tspan><tspan dy="-11" font-size="1">&#8203;</tspan>, <tspan font-style="italic">&#945;</tspan>=0 (CPLs)</text>
<path d="M216 567.5 h42" stroke="#0000ff" stroke-width="3.4"/>
<text x="262" y="574.5" font-size="23.6" fill="#1a1a1a"><tspan font-style="italic">&#948;</tspan><tspan font-style="italic">&#969;</tspan><tspan dy="11" font-size="20" >0</tspan><tspan dy="-11" font-size="1">&#8203;</tspan>=0.5%<tspan font-style="italic">&#969;</tspan><tspan dy="11" font-size="20" >0</tspan><tspan dy="-11" font-size="1">&#8203;</tspan>, <tspan font-style="italic">&#945;</tspan>=4<tspan dy="-13" font-size="20">&#176;</tspan><tspan dy="13" font-size="1">&#8203;</tspan> (NCPLs)</text>
<path d="M216 606 h42" stroke="#00ff00" stroke-width="3.4"/>
<text x="262" y="613" font-size="23.6" fill="#1a1a1a"><tspan font-style="italic">&#948;</tspan><tspan font-style="italic">&#969;</tspan><tspan dy="11" font-size="20" >0</tspan><tspan dy="-11" font-size="1">&#8203;</tspan>=0.7%<tspan font-style="italic">&#969;</tspan><tspan dy="11" font-size="20" >0</tspan><tspan dy="-11" font-size="1">&#8203;</tspan>, <tspan font-style="italic">&#945;</tspan>=0 (CPLs)</text>
<path d="M216 653 h42" stroke="#ff00ff" stroke-width="3.4"/>
<text x="262" y="660" font-size="23.6" fill="#1a1a1a"><tspan font-style="italic">&#948;</tspan><tspan font-style="italic">&#969;</tspan><tspan dy="11" font-size="20" >0</tspan><tspan dy="-11" font-size="1">&#8203;</tspan>=0.7%<tspan font-style="italic">&#969;</tspan><tspan dy="11" font-size="20" >0</tspan><tspan dy="-11" font-size="1">&#8203;</tspan>, <tspan font-style="italic">&#945;</tspan>=4<tspan dy="-13" font-size="20">&#176;</tspan><tspan dy="13" font-size="1">&#8203;</tspan> (NCPLs)</text>
<filter id="pejet" filterUnits="userSpaceOnUse" x="734.2" y="440" width="383.39999999999986" height="370" color-interpolation-filters="sRGB">
<feComponentTransfer><feFuncR type="table" tableValues="0.000 0.000 0.000 0.000 0.000 0.000 0.000 0.000 0.000 0.000 0.000 0.000 0.000 0.125 0.250 0.375 0.500 0.625 0.750 0.875 1.000 1.000 1.000 1.000 1.000 1.000 1.000 1.000 1.000 0.875 0.750 0.625 0.500"/><feFuncG type="table" tableValues="0.000 0.000 0.000 0.000 0.000 0.125 0.250 0.375 0.500 0.625 0.750 0.875 1.000 1.000 1.000 1.000 1.000 1.000 1.000 1.000 1.000 0.875 0.750 0.625 0.500 0.375 0.250 0.125 0.000 0.000 0.000 0.000 0.000"/><feFuncB type="table" tableValues="0.500 0.625 0.750 0.875 1.000 1.000 1.000 1.000 1.000 1.000 1.000 1.000 1.000 0.875 0.750 0.625 0.500 0.375 0.250 0.125 0.000 0.000 0.000 0.000 0.000 0.000 0.000 0.000 0.000 0.000 0.000 0.000 0.000"/></feComponentTransfer>
</filter>
<g filter="url(#pejet)">
<path d="M1049.9 543.1h19.5v7.3h-19.5zM1107.1 543.1h9.9v7.3h-9.9z" fill="rgb(34,34,34)"/>
<path d="M1088.0 446.0h19.5v7.3h-19.5zM1088.0 459.9h19.5v7.3h-19.5zM1088.0 473.7h19.5v7.3h-19.5zM1049.9 501.5h19.5v7.3h-19.5zM735.2 543.1h9.9v7.3h-9.9zM1088.0 543.1h19.5v7.3h-19.5z" fill="rgb(38,38,38)"/>
<path d="M1107.1 466.8h9.9v7.3h-9.9zM1049.9 487.6h19.5v7.3h-19.5zM1068.9 487.6h19.5v7.3h-19.5zM1088.0 494.5h19.5v7.3h-19.5zM735.2 501.5h9.9v7.3h-9.9zM1068.9 501.5h19.5v7.3h-19.5zM735.2 522.3h9.9v7.3h-9.9zM1068.9 522.3h19.5v7.3h-19.5zM1107.1 536.1h9.9v7.3h-9.9z" fill="rgb(42,42,42)"/>
<path d="M1107.1 452.9h9.9v7.3h-9.9zM744.7 459.9h19.5v7.3h-19.5zM763.8 459.9h19.5v7.3h-19.5zM1068.9 459.9h19.5v7.3h-19.5zM1107.1 459.9h9.9v7.3h-9.9zM1088.0 480.7h19.5v7.3h-19.5zM1088.0 487.6h19.5v7.3h-19.5zM1107.1 487.6h9.9v7.3h-9.9zM735.2 494.5h9.9v7.3h-9.9zM763.8 494.5h19.5v7.3h-19.5zM744.7 501.5h19.5v7.3h-19.5zM1107.1 501.5h9.9v7.3h-9.9zM1088.0 508.4h19.5v7.3h-19.5zM1107.1 508.4h9.9v7.3h-9.9zM735.2 515.3h9.9v7.3h-9.9zM1049.9 515.3h19.5v7.3h-19.5zM1107.1 515.3h9.9v7.3h-9.9zM1088.0 522.3h19.5v7.3h-19.5zM1107.1 522.3h9.9v7.3h-9.9zM744.7 543.1h19.5v7.3h-19.5zM782.9 543.1h19.5v7.3h-19.5z" fill="rgb(47,47,47)"/>
<path d="M744.7 446.0h19.5v7.3h-19.5zM1049.9 446.0h19.5v7.3h-19.5zM1068.9 446.0h19.5v7.3h-19.5zM1068.9 452.9h19.5v7.3h-19.5zM782.9 459.9h19.5v7.3h-19.5zM744.7 466.8h19.5v7.3h-19.5zM763.8 466.8h19.5v7.3h-19.5zM782.9 466.8h19.5v7.3h-19.5zM1088.0 466.8h19.5v7.3h-19.5zM1107.1 473.7h9.9v7.3h-9.9zM1068.9 480.7h19.5v7.3h-19.5zM744.7 494.5h19.5v7.3h-19.5zM1107.1 494.5h9.9v7.3h-9.9zM763.8 501.5h19.5v7.3h-19.5zM1088.0 501.5h19.5v7.3h-19.5zM1049.9 508.4h19.5v7.3h-19.5zM1068.9 515.3h19.5v7.3h-19.5zM1088.0 515.3h19.5v7.3h-19.5zM1049.9 522.3h19.5v7.3h-19.5zM1068.9 529.2h19.5v7.3h-19.5zM1107.1 529.2h9.9v7.3h-9.9zM1068.9 536.1h19.5v7.3h-19.5zM1030.8 543.1h19.5v7.3h-19.5zM1068.9 543.1h19.5v7.3h-19.5z" fill="rgb(51,51,51)"/>
<path d="M1088.0 452.9h19.5v7.3h-19.5zM735.2 459.9h9.9v7.3h-9.9zM1030.8 466.8h19.5v7.3h-19.5zM1049.9 466.8h19.5v7.3h-19.5zM1068.9 466.8h19.5v7.3h-19.5zM735.2 473.7h9.9v7.3h-9.9zM744.7 473.7h19.5v7.3h-19.5zM1049.9 473.7h19.5v7.3h-19.5zM1068.9 473.7h19.5v7.3h-19.5zM735.2 480.7h9.9v7.3h-9.9zM1049.9 480.7h19.5v7.3h-19.5zM1107.1 480.7h9.9v7.3h-9.9zM801.9 494.5h19.5v7.3h-19.5zM1030.8 494.5h19.5v7.3h-19.5zM1049.9 494.5h19.5v7.3h-19.5zM1068.9 508.4h19.5v7.3h-19.5zM744.7 515.3h19.5v7.3h-19.5zM744.7 522.3h19.5v7.3h-19.5zM763.8 522.3h19.5v7.3h-19.5zM1049.9 529.2h19.5v7.3h-19.5zM1088.0 529.2h19.5v7.3h-19.5zM735.2 536.1h9.9v7.3h-9.9zM1049.9 536.1h19.5v7.3h-19.5zM1088.0 536.1h19.5v7.3h-19.5zM763.8 543.1h19.5v7.3h-19.5z" fill="rgb(55,55,55)"/>
<path d="M763.8 446.0h19.5v7.3h-19.5zM1107.1 446.0h9.9v7.3h-9.9zM1049.9 459.9h19.5v7.3h-19.5zM801.9 466.8h19.5v7.3h-19.5zM763.8 473.7h19.5v7.3h-19.5zM1030.8 473.7h19.5v7.3h-19.5zM1030.8 480.7h19.5v7.3h-19.5zM735.2 487.6h9.9v7.3h-9.9zM744.7 487.6h19.5v7.3h-19.5zM782.9 494.5h19.5v7.3h-19.5zM1068.9 494.5h19.5v7.3h-19.5zM782.9 501.5h19.5v7.3h-19.5zM744.7 508.4h19.5v7.3h-19.5zM763.8 508.4h19.5v7.3h-19.5zM782.9 515.3h19.5v7.3h-19.5zM782.9 522.3h19.5v7.3h-19.5zM735.2 529.2h9.9v7.3h-9.9zM821.0 543.1h19.5v7.3h-19.5z" fill="rgb(60,60,60)"/>
<path d="M735.2 446.0h9.9v7.3h-9.9zM782.9 446.0h19.5v7.3h-19.5zM801.9 446.0h19.5v7.3h-19.5zM1049.9 452.9h19.5v7.3h-19.5zM1030.8 459.9h19.5v7.3h-19.5zM735.2 466.8h9.9v7.3h-9.9zM763.8 480.7h19.5v7.3h-19.5zM1030.8 487.6h19.5v7.3h-19.5zM801.9 501.5h19.5v7.3h-19.5zM763.8 515.3h19.5v7.3h-19.5zM1030.8 522.3h19.5v7.3h-19.5zM744.7 529.2h19.5v7.3h-19.5zM1030.8 529.2h19.5v7.3h-19.5zM744.7 536.1h19.5v7.3h-19.5zM782.9 536.1h19.5v7.3h-19.5zM801.9 543.1h19.5v7.3h-19.5zM878.2 543.1h19.5v7.3h-19.5z" fill="rgb(64,64,64)"/>
<path d="M1030.8 446.0h19.5v7.3h-19.5zM744.7 452.9h19.5v7.3h-19.5zM744.7 480.7h19.5v7.3h-19.5zM763.8 487.6h19.5v7.3h-19.5zM782.9 487.6h19.5v7.3h-19.5zM801.9 487.6h19.5v7.3h-19.5zM1030.8 501.5h19.5v7.3h-19.5zM735.2 508.4h9.9v7.3h-9.9zM801.9 508.4h19.5v7.3h-19.5zM821.0 508.4h19.5v7.3h-19.5zM763.8 529.2h19.5v7.3h-19.5zM821.0 536.1h19.5v7.3h-19.5zM840.1 543.1h19.5v7.3h-19.5zM859.2 543.1h19.5v7.3h-19.5z" fill="rgb(68,68,68)"/>
<path d="M859.2 446.0h19.5v7.3h-19.5zM735.2 452.9h9.9v7.3h-9.9zM801.9 459.9h19.5v7.3h-19.5zM821.0 466.8h19.5v7.3h-19.5zM840.1 466.8h19.5v7.3h-19.5zM782.9 473.7h19.5v7.3h-19.5zM801.9 480.7h19.5v7.3h-19.5zM821.0 494.5h19.5v7.3h-19.5zM840.1 501.5h19.5v7.3h-19.5zM782.9 508.4h19.5v7.3h-19.5zM1030.8 508.4h19.5v7.3h-19.5zM801.9 515.3h19.5v7.3h-19.5zM1030.8 515.3h19.5v7.3h-19.5zM801.9 522.3h19.5v7.3h-19.5zM840.1 522.3h19.5v7.3h-19.5zM763.8 536.1h19.5v7.3h-19.5zM801.9 536.1h19.5v7.3h-19.5zM1030.8 536.1h19.5v7.3h-19.5z" fill="rgb(72,72,72)"/>
<path d="M821.0 446.0h19.5v7.3h-19.5zM782.9 452.9h19.5v7.3h-19.5zM801.9 452.9h19.5v7.3h-19.5zM1030.8 452.9h19.5v7.3h-19.5zM782.9 480.7h19.5v7.3h-19.5zM821.0 487.6h19.5v7.3h-19.5zM859.2 508.4h19.5v7.3h-19.5zM821.0 515.3h19.5v7.3h-19.5zM821.0 522.3h19.5v7.3h-19.5zM859.2 522.3h19.5v7.3h-19.5zM782.9 529.2h19.5v7.3h-19.5zM801.9 529.2h19.5v7.3h-19.5zM1011.7 543.1h19.5v7.3h-19.5z" fill="rgb(76,76,76)"/>
<path d="M840.1 446.0h19.5v7.3h-19.5zM840.1 459.9h19.5v7.3h-19.5zM859.2 459.9h19.5v7.3h-19.5zM801.9 473.7h19.5v7.3h-19.5zM821.0 480.7h19.5v7.3h-19.5zM840.1 487.6h19.5v7.3h-19.5zM897.3 494.5h19.5v7.3h-19.5zM821.0 501.5h19.5v7.3h-19.5zM859.2 501.5h19.5v7.3h-19.5zM840.1 515.3h19.5v7.3h-19.5zM878.2 522.3h19.5v7.3h-19.5zM821.0 529.2h19.5v7.3h-19.5zM878.2 536.1h19.5v7.3h-19.5zM897.3 543.1h19.5v7.3h-19.5z" fill="rgb(81,81,81)"/>
<path d="M840.1 452.9h19.5v7.3h-19.5zM878.2 466.8h19.5v7.3h-19.5zM821.0 473.7h19.5v7.3h-19.5zM878.2 487.6h19.5v7.3h-19.5zM897.3 487.6h19.5v7.3h-19.5zM840.1 494.5h19.5v7.3h-19.5zM859.2 515.3h19.5v7.3h-19.5zM897.3 522.3h19.5v7.3h-19.5zM916.4 522.3h19.5v7.3h-19.5zM859.2 536.1h19.5v7.3h-19.5zM897.3 536.1h19.5v7.3h-19.5z" fill="rgb(85,85,85)"/>
<path d="M1011.7 446.0h19.5v7.3h-19.5zM763.8 452.9h19.5v7.3h-19.5zM821.0 452.9h19.5v7.3h-19.5zM1011.7 452.9h19.5v7.3h-19.5zM821.0 459.9h19.5v7.3h-19.5zM897.3 466.8h19.5v7.3h-19.5zM840.1 473.7h19.5v7.3h-19.5zM878.2 473.7h19.5v7.3h-19.5zM840.1 480.7h19.5v7.3h-19.5zM897.3 480.7h19.5v7.3h-19.5zM859.2 487.6h19.5v7.3h-19.5zM859.2 494.5h19.5v7.3h-19.5zM878.2 501.5h19.5v7.3h-19.5zM916.4 501.5h19.5v7.3h-19.5zM878.2 515.3h19.5v7.3h-19.5zM840.1 529.2h19.5v7.3h-19.5zM1011.7 536.1h19.5v7.3h-19.5z" fill="rgb(89,89,89)"/>
<path d="M878.2 446.0h19.5v7.3h-19.5zM897.3 446.0h19.5v7.3h-19.5zM897.3 459.9h19.5v7.3h-19.5zM859.2 466.8h19.5v7.3h-19.5zM859.2 473.7h19.5v7.3h-19.5zM897.3 473.7h19.5v7.3h-19.5zM1011.7 473.7h19.5v7.3h-19.5zM1011.7 480.7h19.5v7.3h-19.5zM878.2 494.5h19.5v7.3h-19.5zM897.3 501.5h19.5v7.3h-19.5zM1011.7 508.4h19.5v7.3h-19.5zM840.1 536.1h19.5v7.3h-19.5zM916.4 543.1h19.5v7.3h-19.5zM935.4 543.1h19.5v7.3h-19.5z" fill="rgb(94,94,94)"/>
<path d="M916.4 446.0h19.5v7.3h-19.5zM878.2 459.9h19.5v7.3h-19.5zM1011.7 466.8h19.5v7.3h-19.5zM859.2 480.7h19.5v7.3h-19.5zM878.2 480.7h19.5v7.3h-19.5zM878.2 508.4h19.5v7.3h-19.5zM897.3 515.3h19.5v7.3h-19.5zM1011.7 515.3h19.5v7.3h-19.5zM859.2 529.2h19.5v7.3h-19.5zM916.4 529.2h19.5v7.3h-19.5zM1011.7 529.2h19.5v7.3h-19.5z" fill="rgb(98,98,98)"/>
<path d="M878.2 452.9h19.5v7.3h-19.5zM916.4 459.9h19.5v7.3h-19.5zM1011.7 459.9h19.5v7.3h-19.5zM916.4 473.7h19.5v7.3h-19.5zM1011.7 487.6h19.5v7.3h-19.5zM840.1 508.4h19.5v7.3h-19.5zM897.3 508.4h19.5v7.3h-19.5zM878.2 529.2h19.5v7.3h-19.5z" fill="rgb(102,102,102)"/>
<path d="M935.4 446.0h19.5v7.3h-19.5zM859.2 452.9h19.5v7.3h-19.5zM897.3 452.9h19.5v7.3h-19.5zM916.4 487.6h19.5v7.3h-19.5zM916.4 494.5h19.5v7.3h-19.5zM1011.7 501.5h19.5v7.3h-19.5zM916.4 515.3h19.5v7.3h-19.5zM1011.7 522.3h19.5v7.3h-19.5zM897.3 529.2h19.5v7.3h-19.5zM916.4 536.1h19.5v7.3h-19.5z" fill="rgb(106,106,106)"/>
<path d="M916.4 466.8h19.5v7.3h-19.5zM916.4 480.7h19.5v7.3h-19.5zM1011.7 494.5h19.5v7.3h-19.5zM916.4 508.4h19.5v7.3h-19.5zM935.4 508.4h19.5v7.3h-19.5z" fill="rgb(110,110,110)"/>
<path d="M935.4 466.8h19.5v7.3h-19.5zM935.4 501.5h19.5v7.3h-19.5z" fill="rgb(115,115,115)"/>
<path d="M935.4 473.7h19.5v7.3h-19.5zM935.4 480.7h19.5v7.3h-19.5zM935.4 515.3h19.5v7.3h-19.5z" fill="rgb(119,119,119)"/>
<path d="M916.4 452.9h19.5v7.3h-19.5zM935.4 452.9h19.5v7.3h-19.5zM935.4 487.6h19.5v7.3h-19.5zM935.4 522.3h19.5v7.3h-19.5zM935.4 536.1h19.5v7.3h-19.5zM992.6 543.1h19.5v7.3h-19.5z" fill="rgb(128,128,128)"/>
<path d="M935.4 459.9h19.5v7.3h-19.5zM935.4 494.5h19.5v7.3h-19.5zM935.4 529.2h19.5v7.3h-19.5z" fill="rgb(132,132,132)"/>
<path d="M992.6 446.0h19.5v7.3h-19.5z" fill="rgb(140,140,140)"/>
<path d="M992.6 452.9h19.5v7.3h-19.5z" fill="rgb(149,149,149)"/>
<path d="M992.6 459.9h19.5v7.3h-19.5zM992.6 466.8h19.5v7.3h-19.5zM992.6 487.6h19.5v7.3h-19.5z" fill="rgb(153,153,153)"/>
<path d="M954.5 446.0h19.5v7.3h-19.5zM992.6 480.7h19.5v7.3h-19.5zM992.6 501.5h19.5v7.3h-19.5zM992.6 515.3h19.5v7.3h-19.5z" fill="rgb(157,157,157)"/>
<path d="M992.6 522.3h19.5v7.3h-19.5zM954.5 543.1h19.5v7.3h-19.5z" fill="rgb(166,166,166)"/>
<path d="M973.6 446.0h19.5v7.3h-19.5zM992.6 473.7h19.5v7.3h-19.5z" fill="rgb(174,174,174)"/>
<path d="M954.5 459.9h19.5v7.3h-19.5zM992.6 536.1h19.5v7.3h-19.5z" fill="rgb(178,178,178)"/>
<path d="M954.5 452.9h19.5v7.3h-19.5zM954.5 480.7h19.5v7.3h-19.5zM992.6 508.4h19.5v7.3h-19.5z" fill="rgb(191,191,191)"/>
<path d="M954.5 466.8h19.5v7.3h-19.5zM954.5 473.7h19.5v7.3h-19.5z" fill="rgb(200,200,200)"/>
<path d="M973.6 459.9h19.5v7.3h-19.5z" fill="rgb(204,204,204)"/>
<path d="M973.6 452.9h19.5v7.3h-19.5z" fill="rgb(208,208,208)"/>
<path d="M973.6 466.8h19.5v7.3h-19.5zM954.5 487.6h19.5v7.3h-19.5zM992.6 494.5h19.5v7.3h-19.5zM954.5 508.4h19.5v7.3h-19.5z" fill="rgb(217,217,217)"/>
<path d="M954.5 494.5h19.5v7.3h-19.5zM954.5 501.5h19.5v7.3h-19.5z" fill="rgb(225,225,225)"/>
<path d="M954.5 515.3h19.5v7.3h-19.5z" fill="rgb(230,230,230)"/>
<path d="M992.6 529.2h19.5v7.3h-19.5zM954.5 536.1h19.5v7.3h-19.5z" fill="rgb(242,242,242)"/>
<path d="M973.6 543.1h19.5v7.3h-19.5z" fill="rgb(251,251,251)"/>
<path d="M973.6 473.7h19.5v7.3h-19.5zM973.6 480.7h19.5v7.3h-19.5zM973.6 487.6h19.5v7.3h-19.5zM973.6 494.5h19.5v7.3h-19.5zM973.6 501.5h19.5v7.3h-19.5zM973.6 508.4h19.5v7.3h-19.5zM973.6 515.3h19.5v7.3h-19.5zM954.5 522.3h19.5v7.3h-19.5zM973.6 522.3h19.5v7.3h-19.5zM954.5 529.2h19.5v7.3h-19.5zM973.6 529.2h19.5v7.3h-19.5zM973.6 536.1h19.5v7.3h-19.5z" fill="rgb(255,255,255)"/>
<path d="M763.8 582.1h19.5v7.3h-19.5zM821.0 582.1h19.5v7.3h-19.5zM1068.9 582.1h19.5v7.3h-19.5zM821.0 602.9h19.5v7.3h-19.5zM744.7 616.7h19.5v7.3h-19.5z" fill="rgb(42,42,42)"/>
<path d="M782.9 575.2h19.5v7.3h-19.5zM821.0 575.2h19.5v7.3h-19.5zM859.2 575.2h19.5v7.3h-19.5zM1107.1 582.1h9.9v7.3h-9.9zM782.9 589.0h19.5v7.3h-19.5zM801.9 589.0h19.5v7.3h-19.5zM744.7 596.0h19.5v7.3h-19.5zM1107.1 596.0h9.9v7.3h-9.9zM859.2 602.9h19.5v7.3h-19.5zM1030.8 609.8h19.5v7.3h-19.5zM840.1 616.7h19.5v7.3h-19.5zM1068.9 616.7h19.5v7.3h-19.5zM735.2 623.6h9.9v7.3h-9.9zM763.8 623.6h19.5v7.3h-19.5zM1049.9 623.6h19.5v7.3h-19.5zM735.2 630.6h9.9v7.3h-9.9zM782.9 630.6h19.5v7.3h-19.5zM878.2 630.6h19.5v7.3h-19.5zM1068.9 630.6h19.5v7.3h-19.5zM1088.0 630.6h19.5v7.3h-19.5zM1107.1 630.6h9.9v7.3h-9.9zM744.7 637.5h19.5v7.3h-19.5zM1030.8 637.5h19.5v7.3h-19.5zM1088.0 637.5h19.5v7.3h-19.5zM782.9 644.4h19.5v7.3h-19.5zM801.9 644.4h19.5v7.3h-19.5zM1049.9 644.4h19.5v7.3h-19.5zM1068.9 644.4h19.5v7.3h-19.5zM763.8 651.3h19.5v7.3h-19.5zM1088.0 658.2h19.5v7.3h-19.5zM1107.1 658.2h9.9v7.3h-9.9zM735.2 665.2h9.9v7.3h-9.9zM763.8 665.2h19.5v7.3h-19.5zM1107.1 665.2h9.9v7.3h-9.9zM801.9 672.1h19.5v7.3h-19.5zM1068.9 672.1h19.5v7.3h-19.5z" fill="rgb(47,47,47)"/>
<path d="M735.2 575.2h9.9v7.3h-9.9zM744.7 575.2h19.5v7.3h-19.5zM763.8 575.2h19.5v7.3h-19.5zM878.2 575.2h19.5v7.3h-19.5zM1088.0 575.2h19.5v7.3h-19.5zM744.7 582.1h19.5v7.3h-19.5zM782.9 582.1h19.5v7.3h-19.5zM801.9 582.1h19.5v7.3h-19.5zM840.1 582.1h19.5v7.3h-19.5zM859.2 582.1h19.5v7.3h-19.5zM878.2 582.1h19.5v7.3h-19.5zM1049.9 582.1h19.5v7.3h-19.5zM735.2 589.0h9.9v7.3h-9.9zM763.8 589.0h19.5v7.3h-19.5zM840.1 589.0h19.5v7.3h-19.5zM954.5 589.0h19.5v7.3h-19.5zM1049.9 589.0h19.5v7.3h-19.5zM1068.9 589.0h19.5v7.3h-19.5zM1107.1 589.0h9.9v7.3h-9.9zM735.2 596.0h9.9v7.3h-9.9zM782.9 596.0h19.5v7.3h-19.5zM859.2 596.0h19.5v7.3h-19.5zM1030.8 596.0h19.5v7.3h-19.5zM1088.0 596.0h19.5v7.3h-19.5zM735.2 602.9h9.9v7.3h-9.9zM763.8 602.9h19.5v7.3h-19.5zM782.9 602.9h19.5v7.3h-19.5zM840.1 602.9h19.5v7.3h-19.5zM1030.8 602.9h19.5v7.3h-19.5zM1068.9 602.9h19.5v7.3h-19.5zM735.2 609.8h9.9v7.3h-9.9zM801.9 609.8h19.5v7.3h-19.5zM821.0 609.8h19.5v7.3h-19.5zM878.2 609.8h19.5v7.3h-19.5zM992.6 609.8h19.5v7.3h-19.5zM1049.9 609.8h19.5v7.3h-19.5zM1068.9 609.8h19.5v7.3h-19.5zM1088.0 609.8h19.5v7.3h-19.5zM763.8 616.7h19.5v7.3h-19.5zM801.9 616.7h19.5v7.3h-19.5zM821.0 616.7h19.5v7.3h-19.5zM859.2 616.7h19.5v7.3h-19.5zM1030.8 616.7h19.5v7.3h-19.5zM1049.9 616.7h19.5v7.3h-19.5zM821.0 623.6h19.5v7.3h-19.5zM859.2 623.6h19.5v7.3h-19.5zM878.2 623.6h19.5v7.3h-19.5zM1030.8 623.6h19.5v7.3h-19.5zM1107.1 623.6h9.9v7.3h-9.9zM821.0 630.6h19.5v7.3h-19.5zM840.1 630.6h19.5v7.3h-19.5zM1049.9 630.6h19.5v7.3h-19.5zM735.2 637.5h9.9v7.3h-9.9zM782.9 637.5h19.5v7.3h-19.5zM801.9 637.5h19.5v7.3h-19.5zM878.2 637.5h19.5v7.3h-19.5zM1068.9 637.5h19.5v7.3h-19.5zM1107.1 637.5h9.9v7.3h-9.9zM735.2 644.4h9.9v7.3h-9.9zM744.7 644.4h19.5v7.3h-19.5zM840.1 644.4h19.5v7.3h-19.5zM859.2 644.4h19.5v7.3h-19.5zM735.2 651.3h9.9v7.3h-9.9zM744.7 651.3h19.5v7.3h-19.5zM1049.9 651.3h19.5v7.3h-19.5zM1068.9 651.3h19.5v7.3h-19.5zM1088.0 651.3h19.5v7.3h-19.5zM1107.1 651.3h9.9v7.3h-9.9zM801.9 658.2h19.5v7.3h-19.5zM878.2 658.2h19.5v7.3h-19.5zM1049.9 658.2h19.5v7.3h-19.5zM1068.9 658.2h19.5v7.3h-19.5zM821.0 665.2h19.5v7.3h-19.5zM859.2 665.2h19.5v7.3h-19.5zM1030.8 665.2h19.5v7.3h-19.5zM1049.9 665.2h19.5v7.3h-19.5zM763.8 672.1h19.5v7.3h-19.5zM840.1 672.1h19.5v7.3h-19.5zM859.2 672.1h19.5v7.3h-19.5zM1030.8 672.1h19.5v7.3h-19.5zM1088.0 672.1h19.5v7.3h-19.5zM1107.1 672.1h9.9v7.3h-9.9z" fill="rgb(51,51,51)"/>
<path d="M801.9 575.2h19.5v7.3h-19.5zM840.1 575.2h19.5v7.3h-19.5zM935.4 575.2h19.5v7.3h-19.5zM954.5 575.2h19.5v7.3h-19.5zM992.6 575.2h19.5v7.3h-19.5zM1030.8 575.2h19.5v7.3h-19.5zM1049.9 575.2h19.5v7.3h-19.5zM992.6 582.1h19.5v7.3h-19.5zM1030.8 582.1h19.5v7.3h-19.5zM1088.0 582.1h19.5v7.3h-19.5zM821.0 589.0h19.5v7.3h-19.5zM859.2 589.0h19.5v7.3h-19.5zM878.2 589.0h19.5v7.3h-19.5zM935.4 589.0h19.5v7.3h-19.5zM973.6 589.0h19.5v7.3h-19.5zM1030.8 589.0h19.5v7.3h-19.5zM1088.0 589.0h19.5v7.3h-19.5zM763.8 596.0h19.5v7.3h-19.5zM801.9 596.0h19.5v7.3h-19.5zM840.1 596.0h19.5v7.3h-19.5zM878.2 596.0h19.5v7.3h-19.5zM897.3 596.0h19.5v7.3h-19.5zM954.5 596.0h19.5v7.3h-19.5zM1049.9 596.0h19.5v7.3h-19.5zM1068.9 596.0h19.5v7.3h-19.5zM744.7 602.9h19.5v7.3h-19.5zM801.9 602.9h19.5v7.3h-19.5zM878.2 602.9h19.5v7.3h-19.5zM897.3 602.9h19.5v7.3h-19.5zM916.4 602.9h19.5v7.3h-19.5zM954.5 602.9h19.5v7.3h-19.5zM1049.9 602.9h19.5v7.3h-19.5zM1088.0 602.9h19.5v7.3h-19.5zM1107.1 602.9h9.9v7.3h-9.9zM744.7 609.8h19.5v7.3h-19.5zM763.8 609.8h19.5v7.3h-19.5zM782.9 609.8h19.5v7.3h-19.5zM840.1 609.8h19.5v7.3h-19.5zM1107.1 609.8h9.9v7.3h-9.9zM782.9 616.7h19.5v7.3h-19.5zM878.2 616.7h19.5v7.3h-19.5zM935.4 616.7h19.5v7.3h-19.5zM1088.0 616.7h19.5v7.3h-19.5zM1107.1 616.7h9.9v7.3h-9.9zM744.7 623.6h19.5v7.3h-19.5zM782.9 623.6h19.5v7.3h-19.5zM801.9 623.6h19.5v7.3h-19.5zM840.1 623.6h19.5v7.3h-19.5zM1068.9 623.6h19.5v7.3h-19.5zM1088.0 623.6h19.5v7.3h-19.5zM744.7 630.6h19.5v7.3h-19.5zM801.9 630.6h19.5v7.3h-19.5zM859.2 630.6h19.5v7.3h-19.5zM954.5 630.6h19.5v7.3h-19.5zM973.6 630.6h19.5v7.3h-19.5zM992.6 630.6h19.5v7.3h-19.5zM1011.7 630.6h19.5v7.3h-19.5zM821.0 637.5h19.5v7.3h-19.5zM859.2 637.5h19.5v7.3h-19.5zM973.6 637.5h19.5v7.3h-19.5zM992.6 637.5h19.5v7.3h-19.5zM1049.9 637.5h19.5v7.3h-19.5zM763.8 644.4h19.5v7.3h-19.5zM821.0 644.4h19.5v7.3h-19.5zM878.2 644.4h19.5v7.3h-19.5zM935.4 644.4h19.5v7.3h-19.5zM973.6 644.4h19.5v7.3h-19.5zM992.6 644.4h19.5v7.3h-19.5zM1030.8 644.4h19.5v7.3h-19.5zM1088.0 644.4h19.5v7.3h-19.5zM1107.1 644.4h9.9v7.3h-9.9zM801.9 651.3h19.5v7.3h-19.5zM821.0 651.3h19.5v7.3h-19.5zM840.1 651.3h19.5v7.3h-19.5zM859.2 651.3h19.5v7.3h-19.5zM878.2 651.3h19.5v7.3h-19.5zM973.6 651.3h19.5v7.3h-19.5zM1030.8 651.3h19.5v7.3h-19.5zM744.7 658.2h19.5v7.3h-19.5zM763.8 658.2h19.5v7.3h-19.5zM782.9 658.2h19.5v7.3h-19.5zM821.0 658.2h19.5v7.3h-19.5zM859.2 658.2h19.5v7.3h-19.5zM744.7 665.2h19.5v7.3h-19.5zM782.9 665.2h19.5v7.3h-19.5zM801.9 665.2h19.5v7.3h-19.5zM878.2 665.2h19.5v7.3h-19.5zM935.4 665.2h19.5v7.3h-19.5zM1068.9 665.2h19.5v7.3h-19.5zM1088.0 665.2h19.5v7.3h-19.5zM735.2 672.1h9.9v7.3h-9.9zM744.7 672.1h19.5v7.3h-19.5zM782.9 672.1h19.5v7.3h-19.5zM878.2 672.1h19.5v7.3h-19.5zM935.4 672.1h19.5v7.3h-19.5zM973.6 672.1h19.5v7.3h-19.5zM1049.9 672.1h19.5v7.3h-19.5z" fill="rgb(55,55,55)"/>
<path d="M897.3 575.2h19.5v7.3h-19.5zM1011.7 575.2h19.5v7.3h-19.5zM1068.9 575.2h19.5v7.3h-19.5zM735.2 582.1h9.9v7.3h-9.9zM935.4 582.1h19.5v7.3h-19.5zM973.6 582.1h19.5v7.3h-19.5zM1011.7 582.1h19.5v7.3h-19.5zM744.7 589.0h19.5v7.3h-19.5zM897.3 589.0h19.5v7.3h-19.5zM916.4 589.0h19.5v7.3h-19.5zM992.6 589.0h19.5v7.3h-19.5zM1011.7 589.0h19.5v7.3h-19.5zM821.0 596.0h19.5v7.3h-19.5zM916.4 596.0h19.5v7.3h-19.5zM935.4 596.0h19.5v7.3h-19.5zM992.6 596.0h19.5v7.3h-19.5zM935.4 602.9h19.5v7.3h-19.5zM973.6 602.9h19.5v7.3h-19.5zM992.6 602.9h19.5v7.3h-19.5zM1011.7 602.9h19.5v7.3h-19.5zM859.2 609.8h19.5v7.3h-19.5zM916.4 609.8h19.5v7.3h-19.5zM954.5 609.8h19.5v7.3h-19.5zM1011.7 609.8h19.5v7.3h-19.5zM735.2 616.7h9.9v7.3h-9.9zM916.4 616.7h19.5v7.3h-19.5zM954.5 616.7h19.5v7.3h-19.5zM973.6 616.7h19.5v7.3h-19.5zM1011.7 616.7h19.5v7.3h-19.5zM897.3 623.6h19.5v7.3h-19.5zM916.4 623.6h19.5v7.3h-19.5zM935.4 623.6h19.5v7.3h-19.5zM954.5 623.6h19.5v7.3h-19.5zM973.6 623.6h19.5v7.3h-19.5zM763.8 630.6h19.5v7.3h-19.5zM897.3 630.6h19.5v7.3h-19.5zM935.4 630.6h19.5v7.3h-19.5zM1030.8 630.6h19.5v7.3h-19.5zM763.8 637.5h19.5v7.3h-19.5zM840.1 637.5h19.5v7.3h-19.5zM897.3 637.5h19.5v7.3h-19.5zM916.4 637.5h19.5v7.3h-19.5zM1011.7 637.5h19.5v7.3h-19.5zM897.3 644.4h19.5v7.3h-19.5zM954.5 644.4h19.5v7.3h-19.5zM782.9 651.3h19.5v7.3h-19.5zM897.3 651.3h19.5v7.3h-19.5zM992.6 651.3h19.5v7.3h-19.5zM735.2 658.2h9.9v7.3h-9.9zM840.1 658.2h19.5v7.3h-19.5zM916.4 658.2h19.5v7.3h-19.5zM1011.7 658.2h19.5v7.3h-19.5zM1030.8 658.2h19.5v7.3h-19.5zM840.1 665.2h19.5v7.3h-19.5zM897.3 665.2h19.5v7.3h-19.5zM973.6 665.2h19.5v7.3h-19.5zM992.6 665.2h19.5v7.3h-19.5zM821.0 672.1h19.5v7.3h-19.5zM897.3 672.1h19.5v7.3h-19.5zM954.5 672.1h19.5v7.3h-19.5zM992.6 672.1h19.5v7.3h-19.5z" fill="rgb(60,60,60)"/>
<path d="M1107.1 575.2h9.9v7.3h-9.9zM897.3 582.1h19.5v7.3h-19.5zM916.4 582.1h19.5v7.3h-19.5zM973.6 596.0h19.5v7.3h-19.5zM1011.7 596.0h19.5v7.3h-19.5zM897.3 609.8h19.5v7.3h-19.5zM935.4 609.8h19.5v7.3h-19.5zM973.6 609.8h19.5v7.3h-19.5zM897.3 616.7h19.5v7.3h-19.5zM992.6 616.7h19.5v7.3h-19.5zM992.6 623.6h19.5v7.3h-19.5zM1011.7 623.6h19.5v7.3h-19.5zM916.4 630.6h19.5v7.3h-19.5zM935.4 637.5h19.5v7.3h-19.5zM916.4 644.4h19.5v7.3h-19.5zM1011.7 644.4h19.5v7.3h-19.5zM916.4 651.3h19.5v7.3h-19.5zM954.5 651.3h19.5v7.3h-19.5zM1011.7 651.3h19.5v7.3h-19.5zM897.3 658.2h19.5v7.3h-19.5zM935.4 658.2h19.5v7.3h-19.5zM992.6 658.2h19.5v7.3h-19.5zM916.4 665.2h19.5v7.3h-19.5zM954.5 665.2h19.5v7.3h-19.5zM1011.7 665.2h19.5v7.3h-19.5zM916.4 672.1h19.5v7.3h-19.5zM1011.7 672.1h19.5v7.3h-19.5z" fill="rgb(64,64,64)"/>
<path d="M916.4 575.2h19.5v7.3h-19.5zM973.6 575.2h19.5v7.3h-19.5z" fill="rgb(68,68,68)"/>
<path d="M954.5 582.1h19.5v7.3h-19.5zM954.5 637.5h19.5v7.3h-19.5z" fill="rgb(72,72,72)"/>
<path d="M935.4 651.3h19.5v7.3h-19.5zM954.5 658.2h19.5v7.3h-19.5z" fill="rgb(76,76,76)"/>
<path d="M973.6 658.2h19.5v7.3h-19.5z" fill="rgb(110,110,110)"/>
<path d="M1088.0 707.9h19.5v7.3h-19.5z" fill="rgb(34,34,34)"/>
<path d="M1011.7 701.0h19.5v7.3h-19.5zM1030.8 701.0h19.5v7.3h-19.5zM1107.1 701.0h9.9v7.3h-9.9zM782.9 707.9h19.5v7.3h-19.5zM801.9 707.9h19.5v7.3h-19.5zM1011.7 707.9h19.5v7.3h-19.5zM840.1 714.7h19.5v7.3h-19.5zM878.2 714.7h19.5v7.3h-19.5zM1030.8 714.7h19.5v7.3h-19.5zM782.9 721.6h19.5v7.3h-19.5zM1049.9 721.6h19.5v7.3h-19.5zM735.2 728.5h9.9v7.3h-9.9zM744.7 728.5h19.5v7.3h-19.5zM763.8 728.5h19.5v7.3h-19.5zM1011.7 728.5h19.5v7.3h-19.5zM1107.1 728.5h9.9v7.3h-9.9zM782.9 735.3h19.5v7.3h-19.5zM801.9 735.3h19.5v7.3h-19.5zM1068.9 735.3h19.5v7.3h-19.5zM1088.0 735.3h19.5v7.3h-19.5zM782.9 742.2h19.5v7.3h-19.5zM1030.8 742.2h19.5v7.3h-19.5zM1011.7 749.1h19.5v7.3h-19.5zM878.2 755.9h19.5v7.3h-19.5zM1011.7 755.9h19.5v7.3h-19.5zM1030.8 755.9h19.5v7.3h-19.5zM782.9 762.8h19.5v7.3h-19.5zM744.7 769.7h19.5v7.3h-19.5zM1088.0 769.7h19.5v7.3h-19.5zM735.2 783.4h9.9v7.3h-9.9zM744.7 783.4h19.5v7.3h-19.5zM1088.0 783.4h19.5v7.3h-19.5zM878.2 790.3h19.5v7.3h-19.5zM1068.9 790.3h19.5v7.3h-19.5zM1088.0 790.3h19.5v7.3h-19.5z" fill="rgb(38,38,38)"/>
<path d="M735.2 701.0h9.9v7.3h-9.9zM744.7 701.0h19.5v7.3h-19.5zM763.8 701.0h19.5v7.3h-19.5zM782.9 701.0h19.5v7.3h-19.5zM801.9 701.0h19.5v7.3h-19.5zM821.0 701.0h19.5v7.3h-19.5zM859.2 701.0h19.5v7.3h-19.5zM878.2 701.0h19.5v7.3h-19.5zM992.6 701.0h19.5v7.3h-19.5zM1068.9 701.0h19.5v7.3h-19.5zM1088.0 701.0h19.5v7.3h-19.5zM735.2 707.9h9.9v7.3h-9.9zM744.7 707.9h19.5v7.3h-19.5zM763.8 707.9h19.5v7.3h-19.5zM821.0 707.9h19.5v7.3h-19.5zM840.1 707.9h19.5v7.3h-19.5zM859.2 707.9h19.5v7.3h-19.5zM878.2 707.9h19.5v7.3h-19.5zM897.3 707.9h19.5v7.3h-19.5zM935.4 707.9h19.5v7.3h-19.5zM992.6 707.9h19.5v7.3h-19.5zM1030.8 707.9h19.5v7.3h-19.5zM1049.9 707.9h19.5v7.3h-19.5zM1068.9 707.9h19.5v7.3h-19.5zM1107.1 707.9h9.9v7.3h-9.9zM735.2 714.7h9.9v7.3h-9.9zM744.7 714.7h19.5v7.3h-19.5zM763.8 714.7h19.5v7.3h-19.5zM782.9 714.7h19.5v7.3h-19.5zM801.9 714.7h19.5v7.3h-19.5zM821.0 714.7h19.5v7.3h-19.5zM859.2 714.7h19.5v7.3h-19.5zM916.4 714.7h19.5v7.3h-19.5zM1011.7 714.7h19.5v7.3h-19.5zM1049.9 714.7h19.5v7.3h-19.5zM1068.9 714.7h19.5v7.3h-19.5zM1088.0 714.7h19.5v7.3h-19.5zM735.2 721.6h9.9v7.3h-9.9zM763.8 721.6h19.5v7.3h-19.5zM801.9 721.6h19.5v7.3h-19.5zM840.1 721.6h19.5v7.3h-19.5zM859.2 721.6h19.5v7.3h-19.5zM878.2 721.6h19.5v7.3h-19.5zM897.3 721.6h19.5v7.3h-19.5zM954.5 721.6h19.5v7.3h-19.5zM992.6 721.6h19.5v7.3h-19.5zM1011.7 721.6h19.5v7.3h-19.5zM1030.8 721.6h19.5v7.3h-19.5zM1068.9 721.6h19.5v7.3h-19.5zM1107.1 721.6h9.9v7.3h-9.9zM782.9 728.5h19.5v7.3h-19.5zM801.9 728.5h19.5v7.3h-19.5zM821.0 728.5h19.5v7.3h-19.5zM840.1 728.5h19.5v7.3h-19.5zM859.2 728.5h19.5v7.3h-19.5zM878.2 728.5h19.5v7.3h-19.5zM954.5 728.5h19.5v7.3h-19.5zM992.6 728.5h19.5v7.3h-19.5zM1030.8 728.5h19.5v7.3h-19.5zM1049.9 728.5h19.5v7.3h-19.5zM1088.0 728.5h19.5v7.3h-19.5zM744.7 735.3h19.5v7.3h-19.5zM763.8 735.3h19.5v7.3h-19.5zM840.1 735.3h19.5v7.3h-19.5zM859.2 735.3h19.5v7.3h-19.5zM878.2 735.3h19.5v7.3h-19.5zM992.6 735.3h19.5v7.3h-19.5zM1011.7 735.3h19.5v7.3h-19.5zM1049.9 735.3h19.5v7.3h-19.5zM1107.1 735.3h9.9v7.3h-9.9zM735.2 742.2h9.9v7.3h-9.9zM744.7 742.2h19.5v7.3h-19.5zM763.8 742.2h19.5v7.3h-19.5zM801.9 742.2h19.5v7.3h-19.5zM821.0 742.2h19.5v7.3h-19.5zM840.1 742.2h19.5v7.3h-19.5zM859.2 742.2h19.5v7.3h-19.5zM878.2 742.2h19.5v7.3h-19.5zM916.4 742.2h19.5v7.3h-19.5zM973.6 742.2h19.5v7.3h-19.5zM992.6 742.2h19.5v7.3h-19.5zM1011.7 742.2h19.5v7.3h-19.5zM1049.9 742.2h19.5v7.3h-19.5zM1068.9 742.2h19.5v7.3h-19.5zM1088.0 742.2h19.5v7.3h-19.5zM1107.1 742.2h9.9v7.3h-9.9zM735.2 749.1h9.9v7.3h-9.9zM744.7 749.1h19.5v7.3h-19.5zM763.8 749.1h19.5v7.3h-19.5zM782.9 749.1h19.5v7.3h-19.5zM801.9 749.1h19.5v7.3h-19.5zM821.0 749.1h19.5v7.3h-19.5zM840.1 749.1h19.5v7.3h-19.5zM859.2 749.1h19.5v7.3h-19.5zM878.2 749.1h19.5v7.3h-19.5zM916.4 749.1h19.5v7.3h-19.5zM1030.8 749.1h19.5v7.3h-19.5zM1049.9 749.1h19.5v7.3h-19.5zM1068.9 749.1h19.5v7.3h-19.5zM1088.0 749.1h19.5v7.3h-19.5zM1107.1 749.1h9.9v7.3h-9.9zM735.2 755.9h9.9v7.3h-9.9zM744.7 755.9h19.5v7.3h-19.5zM763.8 755.9h19.5v7.3h-19.5zM782.9 755.9h19.5v7.3h-19.5zM801.9 755.9h19.5v7.3h-19.5zM821.0 755.9h19.5v7.3h-19.5zM840.1 755.9h19.5v7.3h-19.5zM859.2 755.9h19.5v7.3h-19.5zM916.4 755.9h19.5v7.3h-19.5zM1049.9 755.9h19.5v7.3h-19.5zM1068.9 755.9h19.5v7.3h-19.5zM1088.0 755.9h19.5v7.3h-19.5zM1107.1 755.9h9.9v7.3h-9.9zM735.2 762.8h9.9v7.3h-9.9zM744.7 762.8h19.5v7.3h-19.5zM763.8 762.8h19.5v7.3h-19.5zM801.9 762.8h19.5v7.3h-19.5zM840.1 762.8h19.5v7.3h-19.5zM859.2 762.8h19.5v7.3h-19.5zM878.2 762.8h19.5v7.3h-19.5zM897.3 762.8h19.5v7.3h-19.5zM973.6 762.8h19.5v7.3h-19.5zM1030.8 762.8h19.5v7.3h-19.5zM1049.9 762.8h19.5v7.3h-19.5zM1088.0 762.8h19.5v7.3h-19.5zM1107.1 762.8h9.9v7.3h-9.9zM735.2 769.7h9.9v7.3h-9.9zM763.8 769.7h19.5v7.3h-19.5zM782.9 769.7h19.5v7.3h-19.5zM801.9 769.7h19.5v7.3h-19.5zM840.1 769.7h19.5v7.3h-19.5zM859.2 769.7h19.5v7.3h-19.5zM878.2 769.7h19.5v7.3h-19.5zM935.4 769.7h19.5v7.3h-19.5zM954.5 769.7h19.5v7.3h-19.5zM973.6 769.7h19.5v7.3h-19.5zM1011.7 769.7h19.5v7.3h-19.5zM1030.8 769.7h19.5v7.3h-19.5zM1049.9 769.7h19.5v7.3h-19.5zM1068.9 769.7h19.5v7.3h-19.5zM1107.1 769.7h9.9v7.3h-9.9zM735.2 776.5h9.9v7.3h-9.9zM763.8 776.5h19.5v7.3h-19.5zM782.9 776.5h19.5v7.3h-19.5zM801.9 776.5h19.5v7.3h-19.5zM821.0 776.5h19.5v7.3h-19.5zM840.1 776.5h19.5v7.3h-19.5zM859.2 776.5h19.5v7.3h-19.5zM878.2 776.5h19.5v7.3h-19.5zM916.4 776.5h19.5v7.3h-19.5zM935.4 776.5h19.5v7.3h-19.5zM954.5 776.5h19.5v7.3h-19.5zM1011.7 776.5h19.5v7.3h-19.5zM1030.8 776.5h19.5v7.3h-19.5zM1049.9 776.5h19.5v7.3h-19.5zM1068.9 776.5h19.5v7.3h-19.5zM1088.0 776.5h19.5v7.3h-19.5zM782.9 783.4h19.5v7.3h-19.5zM801.9 783.4h19.5v7.3h-19.5zM821.0 783.4h19.5v7.3h-19.5zM840.1 783.4h19.5v7.3h-19.5zM859.2 783.4h19.5v7.3h-19.5zM878.2 783.4h19.5v7.3h-19.5zM935.4 783.4h19.5v7.3h-19.5zM1011.7 783.4h19.5v7.3h-19.5zM1030.8 783.4h19.5v7.3h-19.5zM1049.9 783.4h19.5v7.3h-19.5zM1068.9 783.4h19.5v7.3h-19.5zM1107.1 783.4h9.9v7.3h-9.9zM735.2 790.3h9.9v7.3h-9.9zM744.7 790.3h19.5v7.3h-19.5zM763.8 790.3h19.5v7.3h-19.5zM821.0 790.3h19.5v7.3h-19.5zM840.1 790.3h19.5v7.3h-19.5zM859.2 790.3h19.5v7.3h-19.5zM1011.7 790.3h19.5v7.3h-19.5zM1049.9 790.3h19.5v7.3h-19.5zM1107.1 790.3h9.9v7.3h-9.9zM735.2 797.1h9.9v7.3h-9.9zM763.8 797.1h19.5v7.3h-19.5zM782.9 797.1h19.5v7.3h-19.5zM801.9 797.1h19.5v7.3h-19.5zM821.0 797.1h19.5v7.3h-19.5zM840.1 797.1h19.5v7.3h-19.5zM859.2 797.1h19.5v7.3h-19.5zM878.2 797.1h19.5v7.3h-19.5zM897.3 797.1h19.5v7.3h-19.5zM973.6 797.1h19.5v7.3h-19.5zM1011.7 797.1h19.5v7.3h-19.5zM1030.8 797.1h19.5v7.3h-19.5zM1068.9 797.1h19.5v7.3h-19.5zM1088.0 797.1h19.5v7.3h-19.5zM1107.1 797.1h9.9v7.3h-9.9z" fill="rgb(42,42,42)"/>
<path d="M840.1 701.0h19.5v7.3h-19.5zM916.4 701.0h19.5v7.3h-19.5zM935.4 701.0h19.5v7.3h-19.5zM954.5 701.0h19.5v7.3h-19.5zM1049.9 701.0h19.5v7.3h-19.5zM916.4 707.9h19.5v7.3h-19.5zM954.5 707.9h19.5v7.3h-19.5zM973.6 707.9h19.5v7.3h-19.5zM897.3 714.7h19.5v7.3h-19.5zM935.4 714.7h19.5v7.3h-19.5zM954.5 714.7h19.5v7.3h-19.5zM973.6 714.7h19.5v7.3h-19.5zM992.6 714.7h19.5v7.3h-19.5zM1107.1 714.7h9.9v7.3h-9.9zM744.7 721.6h19.5v7.3h-19.5zM821.0 721.6h19.5v7.3h-19.5zM916.4 721.6h19.5v7.3h-19.5zM973.6 721.6h19.5v7.3h-19.5zM1088.0 721.6h19.5v7.3h-19.5zM897.3 728.5h19.5v7.3h-19.5zM916.4 728.5h19.5v7.3h-19.5zM935.4 728.5h19.5v7.3h-19.5zM973.6 728.5h19.5v7.3h-19.5zM1068.9 728.5h19.5v7.3h-19.5zM735.2 735.3h9.9v7.3h-9.9zM821.0 735.3h19.5v7.3h-19.5zM916.4 735.3h19.5v7.3h-19.5zM935.4 735.3h19.5v7.3h-19.5zM954.5 735.3h19.5v7.3h-19.5zM973.6 735.3h19.5v7.3h-19.5zM1030.8 735.3h19.5v7.3h-19.5zM897.3 742.2h19.5v7.3h-19.5zM935.4 742.2h19.5v7.3h-19.5zM954.5 742.2h19.5v7.3h-19.5zM897.3 749.1h19.5v7.3h-19.5zM935.4 749.1h19.5v7.3h-19.5zM954.5 749.1h19.5v7.3h-19.5zM973.6 749.1h19.5v7.3h-19.5zM992.6 749.1h19.5v7.3h-19.5zM897.3 755.9h19.5v7.3h-19.5zM935.4 755.9h19.5v7.3h-19.5zM954.5 755.9h19.5v7.3h-19.5zM973.6 755.9h19.5v7.3h-19.5zM992.6 755.9h19.5v7.3h-19.5zM821.0 762.8h19.5v7.3h-19.5zM916.4 762.8h19.5v7.3h-19.5zM992.6 762.8h19.5v7.3h-19.5zM1011.7 762.8h19.5v7.3h-19.5zM1068.9 762.8h19.5v7.3h-19.5zM821.0 769.7h19.5v7.3h-19.5zM897.3 769.7h19.5v7.3h-19.5zM916.4 769.7h19.5v7.3h-19.5zM992.6 769.7h19.5v7.3h-19.5zM744.7 776.5h19.5v7.3h-19.5zM973.6 776.5h19.5v7.3h-19.5zM992.6 776.5h19.5v7.3h-19.5zM1107.1 776.5h9.9v7.3h-9.9zM763.8 783.4h19.5v7.3h-19.5zM897.3 783.4h19.5v7.3h-19.5zM916.4 783.4h19.5v7.3h-19.5zM954.5 783.4h19.5v7.3h-19.5zM992.6 783.4h19.5v7.3h-19.5zM782.9 790.3h19.5v7.3h-19.5zM801.9 790.3h19.5v7.3h-19.5zM897.3 790.3h19.5v7.3h-19.5zM916.4 790.3h19.5v7.3h-19.5zM935.4 790.3h19.5v7.3h-19.5zM954.5 790.3h19.5v7.3h-19.5zM973.6 790.3h19.5v7.3h-19.5zM992.6 790.3h19.5v7.3h-19.5zM1030.8 790.3h19.5v7.3h-19.5zM744.7 797.1h19.5v7.3h-19.5zM916.4 797.1h19.5v7.3h-19.5zM954.5 797.1h19.5v7.3h-19.5zM992.6 797.1h19.5v7.3h-19.5zM1049.9 797.1h19.5v7.3h-19.5z" fill="rgb(47,47,47)"/>
<path d="M897.3 701.0h19.5v7.3h-19.5zM973.6 701.0h19.5v7.3h-19.5zM935.4 721.6h19.5v7.3h-19.5zM897.3 735.3h19.5v7.3h-19.5zM935.4 762.8h19.5v7.3h-19.5zM954.5 762.8h19.5v7.3h-19.5zM897.3 776.5h19.5v7.3h-19.5zM973.6 783.4h19.5v7.3h-19.5zM935.4 797.1h19.5v7.3h-19.5z" fill="rgb(51,51,51)"/>
</g>
<rect x="735.2" y="446.0" width="381.39999999999986" height="104.0" fill="none" stroke="#223" stroke-width="0.8"/>
<text transform="translate(726.2,456.5) scale(0.93,1)" font-size="27" text-anchor="end" fill="#1a1a1a" font-weight="normal" font-style="normal" >8000</text>
<text transform="translate(726.2,487.3) scale(0.93,1)" font-size="27" text-anchor="end" fill="#1a1a1a" font-weight="normal" font-style="normal" >6000</text>
<text transform="translate(726.2,518.2) scale(0.93,1)" font-size="27" text-anchor="end" fill="#1a1a1a" font-weight="normal" font-style="normal" >4000</text>
<text transform="translate(726.2,549.0) scale(0.93,1)" font-size="27" text-anchor="end" fill="#1a1a1a" font-weight="normal" font-style="normal" >2000</text>
<rect x="735.2" y="575.2" width="381.39999999999986" height="103.79999999999995" fill="none" stroke="#223" stroke-width="0.8"/>
<text transform="translate(726.2,585.7) scale(0.93,1)" font-size="27" text-anchor="end" fill="#1a1a1a" font-weight="normal" font-style="normal" >8000</text>
<text transform="translate(726.2,616.5) scale(0.93,1)" font-size="27" text-anchor="end" fill="#1a1a1a" font-weight="normal" font-style="normal" >6000</text>
<text transform="translate(726.2,647.2) scale(0.93,1)" font-size="27" text-anchor="end" fill="#1a1a1a" font-weight="normal" font-style="normal" >4000</text>
<text transform="translate(726.2,678.0) scale(0.93,1)" font-size="27" text-anchor="end" fill="#1a1a1a" font-weight="normal" font-style="normal" >2000</text>
<rect x="735.2" y="701.0" width="381.39999999999986" height="103.0" fill="none" stroke="#223" stroke-width="0.8"/>
<text transform="translate(726.2,711.5) scale(0.93,1)" font-size="27" text-anchor="end" fill="#1a1a1a" font-weight="normal" font-style="normal" >8000</text>
<text transform="translate(726.2,742.0) scale(0.93,1)" font-size="27" text-anchor="end" fill="#1a1a1a" font-weight="normal" font-style="normal" >6000</text>
<text transform="translate(726.2,772.5) scale(0.93,1)" font-size="27" text-anchor="end" fill="#1a1a1a" font-weight="normal" font-style="normal" >4000</text>
<text transform="translate(726.2,803.0) scale(0.93,1)" font-size="27" text-anchor="end" fill="#1a1a1a" font-weight="normal" font-style="normal" >2000</text>
<text transform="translate(735.2,838.0) scale(0.93,1)" font-size="27" text-anchor="middle" fill="#1a1a1a" font-weight="normal" font-style="normal" >0.4</text>
<text transform="translate(830.5,838.0) scale(0.93,1)" font-size="27" text-anchor="middle" fill="#1a1a1a" font-weight="normal" font-style="normal" >0.45</text>
<text transform="translate(925.9,838.0) scale(0.93,1)" font-size="27" text-anchor="middle" fill="#1a1a1a" font-weight="normal" font-style="normal" >0.5</text>
<text transform="translate(1021.2,838.0) scale(0.93,1)" font-size="27" text-anchor="middle" fill="#1a1a1a" font-weight="normal" font-style="normal" >0.55</text>
<text transform="translate(1116.6,838.0) scale(0.93,1)" font-size="27" text-anchor="middle" fill="#1a1a1a" font-weight="normal" font-style="normal" >0.6</text>
<text x="925.9" y="872" font-size="30" text-anchor="middle" fill="#1a1a1a">k<tspan dy="14.5" font-size="22" dx=1>y</tspan><tspan dy="-14.5" font-size="1">&#8203;</tspan><tspan dx="1">c</tspan>/<tspan font-style="italic">&#969;</tspan><tspan dy="14.5" font-size="22" dx=1>0</tspan><tspan dy="-14.5" font-size="1">&#8203;</tspan></text>
<text transform="translate(650,640) rotate(-90)" font-size="30" text-anchor="middle" fill="#1a1a1a">t/<tspan font-style="italic">&#964;</tspan></text>
<rect x="1136" y="530.2" width="22.59999999999991" height="243.5999999999999" fill="url(#jetg)" stroke="#222" stroke-width="0.8"/>
<text transform="translate(1167.6,782.2) scale(0.93,1)" font-size="24" text-anchor="start" fill="#1a1a1a" font-weight="normal" font-style="normal" >0</text>
<text transform="translate(1167.6,660.4) scale(0.93,1)" font-size="24" text-anchor="start" fill="#1a1a1a" font-weight="normal" font-style="normal" >5000</text>
<text transform="translate(1167.6,538.6) scale(0.93,1)" font-size="24" text-anchor="start" fill="#1a1a1a" font-weight="normal" font-style="normal" >10000</text>
<text x="1139" y="506.8" font-size="24" fill="#1a1a1a">n<tspan dy="9" font-size="19" >i</tspan><tspan dy="-9" font-size="1">&#8203;</tspan></text>
<text transform="translate(740.2,482.0) scale(0.93,1)" font-size="30" text-anchor="start" fill="#fff" font-weight="normal" font-style="normal" >(e)</text>
<clipPath id="fclip"><rect x="1363.3" y="462.1" width="440.4000000000001" height="342.19999999999993"/></clipPath>
<g clip-path="url(#fclip)">
<polyline points="1388.0,802.3 1388.5,800.4 1388.9,800.8 1389.4,798.9 1389.8,798.7 1390.3,798.1 1390.7,796.1 1391.2,792.3 1391.6,789.3 1392.1,784.1 1392.6,784.2 1393.0,774.5 1393.5,785.1 1393.9,759.0 1394.4,785.7 1394.8,758.8 1395.3,766.9 1395.7,746.9 1396.2,692.4 1396.7,762.4 1397.1,727.4 1397.6,722.3 1398.0,763.7 1398.5,741.9 1398.9,730.7 1399.4,730.7 1399.8,722.1 1400.3,779.3 1400.8,775.3 1401.2,741.3 1401.7,780.2 1402.1,770.0 1402.6,750.7 1403.0,772.1 1403.5,770.6 1403.9,785.5 1404.4,781.0 1404.9,783.5 1405.3,797.7 1405.8,793.0 1406.2,792.6 1406.7,796.1 1407.1,799.6 1407.6,799.1 1408.0,801.6 1408.5,802.3" fill="none" stroke="#000" stroke-width="2.8" stroke-linejoin="round" />
<polygon points="1388.0,802.3 1388.0,802.3 1388.5,800.3 1388.9,798.4 1389.4,796.4 1389.8,794.5 1390.3,792.5 1390.7,789.7 1391.2,786.2 1391.6,782.8 1392.1,779.3 1392.6,775.8 1393.0,772.4 1393.5,768.2 1393.9,763.8 1394.4,759.3 1394.8,754.9 1395.3,750.4 1395.7,733.9 1396.2,714.4 1396.7,722.5 1397.1,730.7 1397.6,736.5 1398.0,737.2 1398.5,737.8 1398.9,738.5 1399.4,739.5 1399.8,741.7 1400.3,743.8 1400.8,745.9 1401.2,748.0 1401.7,750.8 1402.1,755.2 1402.6,759.5 1403.0,763.9 1403.5,768.5 1403.9,774.0 1404.4,779.4 1404.9,784.9 1405.3,790.4 1405.8,792.9 1406.2,794.5 1406.7,796.0 1407.1,797.6 1407.6,799.2 1408.0,800.7 1408.5,802.3 1408.5,802.3" fill="#000"/>
<polyline points="1391.1,802.3 1391.6,801.8 1392.1,800.5 1392.7,800.0 1393.2,799.3 1393.7,799.0 1394.3,798.9 1394.8,795.3 1395.3,797.2 1395.8,796.8 1396.4,792.4 1396.9,793.0 1397.4,796.4 1398.0,791.9 1398.5,795.3 1399.0,785.7 1399.6,784.3 1400.1,791.6 1400.6,786.3 1401.1,796.7 1401.7,793.3 1402.2,797.5 1402.7,795.6 1403.3,798.5 1403.8,799.1 1404.3,797.5 1404.9,800.1 1405.4,801.0 1405.9,801.6 1406.5,802.3" fill="none" stroke="#f00" stroke-width="2.6" stroke-linejoin="round" />
<polygon points="1391.1,802.3 1391.1,802.3 1391.6,802.0 1392.1,801.2 1392.7,800.9 1393.2,800.5 1393.7,800.3 1394.3,800.3 1394.8,798.1 1395.3,799.2 1395.8,799.0 1396.4,796.4 1396.9,796.7 1397.4,798.7 1398.0,796.1 1398.5,798.1 1399.0,792.3 1399.6,791.5 1400.1,795.9 1400.6,792.7 1401.1,798.9 1401.7,796.9 1402.2,799.4 1402.7,798.3 1403.3,800.0 1403.8,800.4 1404.3,799.4 1404.9,801.0 1405.4,801.5 1405.9,801.9 1406.5,802.3 1406.5,802.3" fill="#f00"/>
<polyline points="1394.2,802.3 1394.7,801.8 1395.3,801.7 1395.9,801.2 1396.5,799.8 1397.0,799.2 1397.6,800.9 1398.2,800.6 1398.8,800.6 1399.4,799.2 1399.9,800.2 1400.5,798.5 1401.1,797.0 1401.7,798.9 1402.3,796.1 1402.8,797.2 1403.4,800.1 1404.0,798.7 1404.6,800.3 1405.2,800.3 1405.7,801.1 1406.3,800.9 1406.9,801.8 1407.5,802.3" fill="none" stroke="#00f" stroke-width="2.6" stroke-linejoin="round" />
<polygon points="1394.2,802.3 1394.2,802.3 1394.7,802.0 1395.3,802.0 1395.9,801.6 1396.5,800.8 1397.0,800.4 1397.6,801.5 1398.2,801.3 1398.8,801.3 1399.4,800.5 1399.9,801.0 1400.5,800.0 1401.1,799.1 1401.7,800.3 1402.3,798.6 1402.8,799.3 1403.4,801.0 1404.0,800.1 1404.6,801.1 1405.2,801.1 1405.7,801.6 1406.3,801.4 1406.9,802.0 1407.5,802.3 1407.5,802.3" fill="#00f"/>
<rect x="1725.6" y="506.4" width="5.0" height="295.9" fill="#000"/>
<path d="M1723.6 802.3 V783.3 h1 V751.6 h6 V762.1 h3 V773.6 h2.6 V802.3Z" fill="#f00"/>
<path d="M1726.2 802.3 V768.5 h6.2 V783.3 h1.6 V802.3Z" fill="#00f"/>
<path d="M1363.3 802.0 H1801.7" stroke="#00f" stroke-width="3.6"/>
</g>
<polyline points="1473.3,786.0 1474.0,785.8 1474.8,785.7 1475.5,784.3 1476.3,784.1 1477.0,785.4 1477.8,783.8 1478.5,783.8 1479.3,780.3 1480.0,780.5 1480.8,780.8 1481.5,780.6 1482.3,775.3 1483.0,773.7 1483.8,781.5 1484.5,782.2 1485.3,773.7 1486.0,783.6 1486.8,779.6 1487.5,783.3 1488.3,779.9 1489.0,783.1 1489.8,780.1 1490.6,770.5 1491.3,767.6 1492.1,769.8 1492.8,774.5 1493.6,773.2 1494.3,778.1 1495.1,781.3 1495.8,776.4 1496.6,769.4 1497.3,782.6 1498.1,782.9 1498.8,767.3 1499.6,778.2 1500.3,768.3 1501.1,767.0 1501.8,760.7 1502.6,775.1 1503.3,775.9 1504.1,763.1 1504.8,761.2 1505.6,762.1 1506.3,752.0 1507.1,756.6 1507.8,731.1 1508.6,768.4 1509.3,747.3 1510.1,733.5 1510.8,767.1 1511.6,751.9 1512.3,764.7 1513.1,759.7 1513.8,725.6 1514.6,779.1 1515.3,747.0 1516.1,763.9 1516.8,756.9 1517.6,752.6 1518.3,767.3 1519.1,769.0 1519.8,776.0 1520.6,747.9 1521.3,745.1 1522.1,749.6 1522.8,741.0 1523.6,752.9 1524.3,749.6 1525.1,773.6 1525.9,743.5 1526.6,766.5 1527.4,760.6 1528.1,766.2 1528.9,751.6 1529.6,744.4 1530.4,748.4 1531.1,763.3 1531.9,603.0 1532.6,726.6 1533.4,764.4 1534.1,756.6 1534.9,775.1 1535.6,765.4 1536.4,775.6 1537.1,763.0 1537.9,736.0 1538.6,709.8 1539.4,735.9 1540.1,761.0 1540.9,726.5 1541.6,726.1 1542.4,704.0 1543.1,735.1 1543.9,697.4 1544.6,681.7 1545.4,758.1 1546.1,739.6 1546.9,702.0 1547.6,722.3 1548.4,743.2 1549.1,743.2 1549.9,730.3 1550.6,747.7 1551.4,739.5 1552.1,700.9 1552.9,703.3 1553.6,710.5 1554.4,769.1 1555.1,734.9 1555.9,750.7 1556.6,695.4 1557.4,755.0 1558.1,650.6 1558.9,762.0 1559.7,748.9 1560.4,700.9 1561.2,736.6 1561.9,707.9 1562.7,743.7 1563.4,765.2 1564.2,727.5 1564.9,742.9 1565.7,743.6 1566.4,769.4 1567.2,768.6 1567.9,701.2 1568.7,697.1 1569.4,694.7 1570.2,752.0 1570.9,772.6 1571.7,732.7 1572.4,712.8 1573.2,720.9 1573.9,771.1 1574.7,758.5 1575.4,676.2 1576.2,770.2 1576.9,693.1 1577.7,677.1 1578.4,757.4 1579.2,771.1 1579.9,683.7 1580.7,709.5 1581.4,742.0 1582.2,740.3 1582.9,690.8 1583.7,751.6 1584.4,772.4 1585.2,729.2 1585.9,755.9 1586.7,723.7 1587.4,694.5 1588.2,755.0 1588.9,764.0 1589.7,774.9 1590.4,724.1 1591.2,775.4 1591.9,735.4 1592.7,760.5 1593.4,766.6 1594.2,772.3 1595.0,782.5 1595.7,782.9 1596.5,773.3 1597.2,782.5 1598.0,777.9 1598.7,784.1 1599.5,783.3 1600.2,780.4 1601.0,783.8 1601.7,780.0 1602.5,779.1 1603.2,783.5 1604.0,783.7 1604.7,785.1 1605.5,783.1 1606.2,785.0 1607.0,782.4 1607.7,781.8 1608.5,782.6 1609.2,782.6 1610.0,782.7 1610.7,781.1" fill="none" stroke="#000" stroke-width="3.2" stroke-linejoin="round" />
<polygon points="1456.0,786.0 1456.0,786.0 1456.8,786.0 1457.5,786.0 1458.3,786.0 1459.0,786.0 1459.8,786.0 1460.5,786.0 1461.3,786.0 1462.0,786.0 1462.8,786.0 1463.5,786.0 1464.3,786.0 1465.0,786.0 1465.8,786.0 1466.5,786.0 1467.3,786.0 1468.0,786.0 1468.8,786.0 1469.5,786.0 1470.3,786.0 1471.0,786.0 1471.8,786.0 1472.5,786.0 1473.3,786.0 1474.0,785.7 1474.8,785.5 1475.5,785.3 1476.3,785.0 1477.0,784.8 1477.8,784.5 1478.5,784.3 1479.3,783.9 1480.0,783.6 1480.8,783.3 1481.5,782.9 1482.3,782.6 1483.0,782.3 1483.8,781.9 1484.5,781.6 1485.3,781.3 1486.0,780.9 1486.8,780.6 1487.5,780.4 1488.3,780.3 1489.0,780.2 1489.8,780.1 1490.6,779.9 1491.3,779.8 1492.1,779.7 1492.8,779.6 1493.6,779.5 1494.3,779.3 1495.1,779.2 1495.8,779.1 1496.6,779.0 1497.3,778.9 1498.1,778.7 1498.8,778.5 1499.6,778.3 1500.3,778.1 1501.1,778.0 1501.8,777.8 1502.6,777.6 1503.3,777.4 1504.1,777.2 1504.8,776.0 1505.6,774.5 1506.3,773.1 1507.1,771.6 1507.8,770.5 1508.6,770.1 1509.3,769.7 1510.1,769.3 1510.8,768.9 1511.6,768.5 1512.3,768.1 1513.1,768.2 1513.8,768.8 1514.6,769.4 1515.3,770.1 1516.1,770.7 1516.8,771.4 1517.6,772.0 1518.3,772.1 1519.1,771.8 1519.8,771.5 1520.6,771.2 1521.3,770.9 1522.1,770.6 1522.8,770.3 1523.6,770.0 1524.3,769.7 1525.1,769.3 1525.9,768.9 1526.6,768.4 1527.4,767.9 1528.1,767.4 1528.9,766.9 1529.6,766.2 1530.4,765.4 1531.1,764.6 1531.9,764.1 1532.6,764.4 1533.4,764.8 1534.1,765.1 1534.9,765.4 1535.6,765.7 1536.4,766.0 1537.1,765.6 1537.9,764.0 1538.6,762.4 1539.4,760.8 1540.1,759.3 1540.9,757.7 1541.6,756.1 1542.4,755.5 1543.1,756.0 1543.9,756.5 1544.6,756.9 1545.4,757.4 1546.1,757.9 1546.9,758.4 1547.6,758.7 1548.4,758.8 1549.1,759.0 1549.9,759.1 1550.6,759.3 1551.4,759.4 1552.1,759.6 1552.9,759.1 1553.6,758.5 1554.4,757.8 1555.1,757.1 1555.9,756.5 1556.6,755.8 1557.4,756.5 1558.1,757.2 1558.9,757.9 1559.7,758.6 1560.4,759.3 1561.2,759.9 1561.9,760.6 1562.7,761.3 1563.4,760.9 1564.2,760.4 1564.9,760.0 1565.7,759.6 1566.4,759.2 1567.2,758.8 1567.9,758.3 1568.7,757.9 1569.4,757.5 1570.2,756.9 1570.9,756.3 1571.7,755.7 1572.4,755.1 1573.2,754.5 1573.9,753.9 1574.7,753.3 1575.4,752.7 1576.2,752.1 1576.9,752.4 1577.7,752.9 1578.4,753.5 1579.2,754.0 1579.9,754.6 1580.7,755.2 1581.4,755.7 1582.2,756.0 1582.9,756.2 1583.7,756.5 1584.4,756.7 1585.2,757.0 1585.9,757.2 1586.7,757.4 1587.4,758.6 1588.2,759.7 1588.9,760.9 1589.7,762.0 1590.4,763.2 1591.2,765.2 1591.9,770.0 1592.7,774.8 1593.4,779.6 1594.2,780.8 1595.0,781.2 1595.7,781.6 1596.5,782.0 1597.2,782.4 1598.0,782.8 1598.7,783.2 1599.5,783.3 1600.2,783.4 1601.0,783.5 1601.7,783.5 1602.5,783.6 1603.2,783.7 1604.0,783.7 1604.7,783.8 1605.5,783.9 1606.2,783.9 1607.0,784.0 1607.7,784.1 1608.5,784.1 1609.2,784.2 1610.0,784.3 1610.7,784.3 1611.5,784.4 1612.2,784.5 1613.0,784.6 1613.7,784.6 1614.5,784.7 1615.2,784.8 1616.0,784.8 1616.7,784.9 1617.5,785.0 1618.2,785.1 1619.0,785.1 1619.7,785.2 1620.5,785.3 1621.2,785.4 1622.0,785.4 1622.7,785.5 1623.5,785.6 1624.2,785.6 1625.0,785.7 1625.7,785.8 1626.5,785.9 1627.2,785.9 1628.0,786.0 1628.0,786.0" fill="#000"/>
<polyline points="1476.6,786.0 1477.9,785.6 1479.3,785.4 1480.6,784.8 1481.9,785.0 1483.2,783.5 1484.5,783.0 1485.8,784.3 1487.1,781.9 1488.4,783.5 1489.7,782.8 1491.0,781.5 1492.4,780.1 1493.7,780.0 1495.0,782.9 1496.3,780.6 1497.6,780.1 1498.9,780.1 1500.2,778.5 1501.5,781.1 1502.8,777.8 1504.1,781.4 1505.5,780.6 1506.8,780.5 1508.1,779.0 1509.4,776.0 1510.7,776.7 1512.0,773.3 1513.3,776.8 1514.6,772.4 1515.9,771.9 1517.2,774.8 1518.6,773.7 1519.9,764.4 1521.2,766.7 1522.5,759.9 1523.8,760.5 1525.1,758.6 1526.4,767.7 1527.7,769.3 1529.0,772.2 1530.3,767.9 1531.6,776.5 1533.0,769.6 1534.3,775.1 1535.6,775.5 1536.9,775.7 1538.2,775.6 1539.5,774.1 1540.8,777.5 1542.1,776.5 1543.4,768.7 1544.7,768.9 1546.1,775.6 1547.4,771.5 1548.7,772.0 1550.0,773.7 1551.3,766.4 1552.6,767.2 1553.9,772.3 1555.2,763.2 1556.5,758.5 1557.8,769.7 1559.2,766.2 1560.5,762.4 1561.8,767.5 1563.1,770.0 1564.4,773.1 1565.7,769.8 1567.0,773.4 1568.3,774.3 1569.6,776.4 1570.9,776.9 1572.2,775.1 1573.6,779.6 1574.9,774.0 1576.2,779.5 1577.5,775.0 1578.8,778.9 1580.1,772.9 1581.4,772.4 1582.7,769.4 1584.0,767.7 1585.3,772.1 1586.7,768.7 1588.0,764.6 1589.3,767.5 1590.6,770.6 1591.9,770.0 1593.2,772.9 1594.5,769.2 1595.8,777.2 1597.1,777.2 1598.4,778.3 1599.8,779.6 1601.1,782.8 1602.4,780.0 1603.7,780.6 1605.0,783.8 1606.3,782.6 1607.6,783.6 1608.9,783.5 1610.2,783.8 1611.5,784.1 1612.9,784.8 1614.2,785.2 1615.5,784.9 1616.8,785.2 1618.1,785.8 1619.4,786.0" fill="none" stroke="#f00" stroke-width="2.4" stroke-linejoin="round" />
<polygon points="1476.6,786.0 1476.6,786.0 1477.9,785.6 1479.3,785.4 1480.6,785.0 1481.9,785.1 1483.2,783.8 1484.5,783.3 1485.8,784.5 1487.1,782.3 1488.4,783.8 1489.7,783.1 1491.0,782.0 1492.4,780.7 1493.7,780.6 1495.0,783.2 1496.3,781.1 1497.6,780.7 1498.9,780.7 1500.2,779.2 1501.5,781.6 1502.8,778.6 1504.1,781.9 1505.5,781.1 1506.8,781.0 1508.1,779.7 1509.4,777.0 1510.7,777.6 1512.0,774.6 1513.3,777.8 1514.6,773.7 1515.9,773.3 1517.2,775.9 1518.6,774.9 1519.9,766.5 1521.2,768.6 1522.5,762.5 1523.8,763.1 1525.1,761.3 1526.4,769.6 1527.7,771.0 1529.0,773.6 1530.3,769.8 1531.6,777.4 1533.0,771.3 1534.3,776.2 1535.6,776.6 1536.9,776.7 1538.2,776.7 1539.5,775.3 1540.8,778.4 1542.1,777.5 1543.4,770.5 1544.7,770.6 1546.1,776.6 1547.4,773.0 1548.7,773.4 1550.0,774.9 1551.3,768.3 1552.6,769.1 1553.9,773.7 1555.2,765.5 1556.5,761.3 1557.8,771.3 1559.2,768.2 1560.5,764.8 1561.8,769.4 1563.1,771.6 1564.4,774.4 1565.7,771.5 1567.0,774.7 1568.3,775.5 1569.6,777.4 1570.9,777.8 1572.2,776.2 1573.6,780.2 1574.9,775.2 1576.2,780.1 1577.5,776.1 1578.8,779.6 1580.1,774.2 1581.4,773.8 1582.7,771.1 1584.0,769.5 1585.3,773.5 1586.7,770.4 1588.0,766.8 1589.3,769.3 1590.6,772.2 1591.9,771.6 1593.2,774.3 1594.5,770.9 1595.8,778.1 1597.1,778.1 1598.4,779.0 1599.8,780.3 1601.1,783.1 1602.4,780.6 1603.7,781.2 1605.0,784.0 1606.3,782.9 1607.6,783.9 1608.9,783.8 1610.2,784.0 1611.5,784.3 1612.9,784.9 1614.2,785.3 1615.5,785.0 1616.8,785.3 1618.1,785.8 1619.4,786.0 1619.4,786.0" fill="#f00"/>
<polyline points="1456.0,786.0 1457.9,785.8 1459.9,785.5 1461.8,785.3 1463.7,785.0 1465.7,785.1 1467.6,784.8 1469.5,784.5 1471.5,784.4 1473.4,784.1 1475.3,784.8 1477.3,784.4 1479.2,784.6 1481.1,783.5 1483.1,784.0 1485.0,783.5 1486.9,784.0 1488.9,783.8 1490.8,784.3 1492.7,783.6 1494.7,782.4 1496.6,783.7 1498.5,783.4 1500.4,782.1 1502.4,783.8 1504.3,783.7 1506.2,782.3 1508.2,781.7 1510.1,783.6 1512.0,781.7 1514.0,781.4 1515.9,783.2 1517.8,781.6 1519.8,781.9 1521.7,781.9 1523.6,780.4 1525.6,783.1 1527.5,782.3 1529.4,780.8 1531.4,781.9 1533.3,781.9 1535.2,780.3 1537.2,779.3 1539.1,781.4 1541.0,780.4 1543.0,781.0 1544.9,780.3 1546.8,779.1 1548.8,778.2 1550.7,781.1 1552.6,777.2 1554.6,777.1 1556.5,778.8 1558.4,778.4 1560.4,776.6 1562.3,776.6 1564.2,771.8 1566.2,775.3 1568.1,779.4 1570.0,778.9 1572.0,779.1 1573.9,781.4 1575.8,778.3 1577.8,780.3 1579.7,781.5 1581.6,781.4 1583.6,780.4 1585.5,779.8 1587.4,779.1 1589.3,779.7 1591.3,781.2 1593.2,782.6 1595.1,780.4 1597.1,782.2 1599.0,782.7 1600.9,781.3 1602.9,783.3 1604.8,783.2 1606.7,782.6 1608.7,782.9 1610.6,782.4 1612.5,783.6 1614.5,784.4 1616.4,783.8 1618.3,784.8 1620.3,785.0 1622.2,785.1 1624.1,785.4 1626.1,785.6 1628.0,786.0" fill="none" stroke="#00f" stroke-width="2.4" stroke-linejoin="round" />
<polygon points="1456.0,786.0 1456.0,786.0 1457.9,785.9 1459.9,785.6 1461.8,785.3 1463.7,785.1 1465.7,785.2 1467.6,784.9 1469.5,784.6 1471.5,784.5 1473.4,784.3 1475.3,784.9 1477.3,784.6 1479.2,784.8 1481.1,783.7 1483.1,784.2 1485.0,783.7 1486.9,784.2 1488.9,784.0 1490.8,784.5 1492.7,783.8 1494.7,782.8 1496.6,783.9 1498.5,783.7 1500.4,782.5 1502.4,784.0 1504.3,783.9 1506.2,782.7 1508.2,782.1 1510.1,783.8 1512.0,782.2 1514.0,781.9 1515.9,783.5 1517.8,782.0 1519.8,782.3 1521.7,782.3 1523.6,781.0 1525.6,783.4 1527.5,782.6 1529.4,781.3 1531.4,782.3 1533.3,782.3 1535.2,780.9 1537.2,780.0 1539.1,781.9 1541.0,781.0 1543.0,781.5 1544.9,780.9 1546.8,779.8 1548.8,778.9 1550.7,781.6 1552.6,778.1 1554.6,777.9 1556.5,779.5 1558.4,779.1 1560.4,777.5 1562.3,777.6 1564.2,773.2 1566.2,776.4 1568.1,780.1 1570.0,779.6 1572.0,779.8 1573.9,781.8 1575.8,779.0 1577.8,780.8 1579.7,781.9 1581.6,781.9 1583.6,781.0 1585.5,780.4 1587.4,779.8 1589.3,780.3 1591.3,781.7 1593.2,782.9 1595.1,780.9 1597.1,782.6 1599.0,783.1 1600.9,781.7 1602.9,783.6 1604.8,783.5 1606.7,783.0 1608.7,783.2 1610.6,782.7 1612.5,783.8 1614.5,784.5 1616.4,784.0 1618.3,784.9 1620.3,785.1 1622.2,785.2 1624.1,785.5 1626.1,785.6 1628.0,786.0 1628.0,786.0" fill="#00f"/>
<path d="M1456.0 784.9 H1628.0" stroke="#00f" stroke-width="1.8"/>
<rect x="1444" y="594.2" width="198.29999999999995" height="196.5999999999999" fill="none" stroke="#5fd21e" stroke-width="2.8" stroke-dasharray="2.8 3.6"/>
<rect x="1380.3" y="685.7" width="37.6" height="113.8" fill="none" stroke="#5fd21e" stroke-width="2.8" stroke-dasharray="2.8 3.6"/>
<path d="M1420 733 L1434 724.5" stroke="#5fd21e" stroke-width="2.4"/><path d="M1441 720 L1428.5 721.5 L1433.5 730Z" fill="#5fd21e"/>
<rect x="1363.3" y="464.1" width="438.4000000000001" height="338.19999999999993" fill="none" stroke="#333" stroke-width="0.9"/>
<path d="M1436.0 802.3 v-5 M1436.0 464.1 v5 M1582.1 802.3 v-5 M1582.1 464.1 v5 M1728.2 802.3 v-5 M1728.2 464.1 v5 M1363.3 802.3 h5 M1801.7 802.3 h-5 M1363.3 717.8 h5 M1801.7 717.8 h-5 M1363.3 633.2 h5 M1801.7 633.2 h-5 M1363.3 548.6 h5 M1801.7 548.6 h-5 M1363.3 464.1 h5 M1801.7 464.1 h-5 " stroke="#333" stroke-width="0.9" fill="none"/>
<text transform="translate(1436.0,835.8) scale(0.93,1)" font-size="27" text-anchor="middle" fill="#1a1a1a" font-weight="normal" font-style="normal" >0.6</text>
<text transform="translate(1582.1,835.8) scale(0.93,1)" font-size="27" text-anchor="middle" fill="#1a1a1a" font-weight="normal" font-style="normal" >0.8</text>
<text transform="translate(1728.2,835.8) scale(0.93,1)" font-size="27" text-anchor="middle" fill="#1a1a1a" font-weight="normal" font-style="normal" >1</text>
<text transform="translate(1354.3,811.3) scale(0.93,1)" font-size="27" text-anchor="end" fill="#1a1a1a" font-weight="normal" font-style="normal" >0</text>
<text transform="translate(1354.3,726.8) scale(0.93,1)" font-size="27" text-anchor="end" fill="#1a1a1a" font-weight="normal" font-style="normal" >2000</text>
<text transform="translate(1354.3,642.2) scale(0.93,1)" font-size="27" text-anchor="end" fill="#1a1a1a" font-weight="normal" font-style="normal" >4000</text>
<text transform="translate(1354.3,557.6) scale(0.93,1)" font-size="27" text-anchor="end" fill="#1a1a1a" font-weight="normal" font-style="normal" >6000</text>
<text transform="translate(1354.3,473.1) scale(0.93,1)" font-size="27" text-anchor="end" fill="#1a1a1a" font-weight="normal" font-style="normal" >8000</text>
<text x="1582.5" y="868" font-size="30" text-anchor="middle" fill="#1a1a1a"><tspan font-style="italic">&#969;</tspan><tspan dy="14.5" font-size="22" >s</tspan><tspan dy="-14.5" font-size="1">&#8203;</tspan>/<tspan font-style="italic">&#969;</tspan><tspan dy="14.5" font-size="22" >0</tspan><tspan dy="-14.5" font-size="1">&#8203;</tspan></text>
<text transform="translate(1268,636) rotate(-90)" font-size="31" text-anchor="middle" fill="#1a1a1a">I<tspan dy="12" font-size="22" >s</tspan><tspan dy="-12" font-size="1">&#8203;</tspan>(<tspan font-style="italic">&#969;</tspan>)(a. u.)</text>
<text transform="translate(1373.0,505.0) scale(0.93,1)" font-size="29" text-anchor="start" fill="#1a1a1a" font-weight="normal" font-style="normal" >(f)</text>
<path d="M1485 490 h42" stroke="#000" stroke-width="3.6"/>
<text x="1531" y="494.6" font-size="23.4" fill="#1a1a1a"><tspan font-style="italic">&#948;</tspan><tspan font-style="italic">&#969;</tspan><tspan dy="11" font-size="20" >0</tspan><tspan dy="-11" font-size="1">&#8203;</tspan>=0, <tspan font-style="italic">&#945;</tspan>=0</text>
<path d="M1485 527 h42" stroke="#f00" stroke-width="3.6"/>
<text x="1531" y="531.6" font-size="23.4" fill="#1a1a1a"><tspan font-style="italic">&#948;</tspan><tspan font-style="italic">&#969;</tspan><tspan dy="11" font-size="20" >0</tspan><tspan dy="-11" font-size="1">&#8203;</tspan>=0.7%<tspan font-style="italic">&#969;</tspan><tspan dy="11" font-size="20" >0</tspan><tspan dy="-11" font-size="1">&#8203;</tspan>, <tspan font-style="italic">&#945;</tspan>=0</text>
<path d="M1485 571 h42" stroke="#00f" stroke-width="3.6"/>
<text x="1531" y="575.6" font-size="23.4" fill="#1a1a1a"><tspan font-style="italic">&#948;</tspan><tspan font-style="italic">&#969;</tspan><tspan dy="11" font-size="20" >0</tspan><tspan dy="-11" font-size="1">&#8203;</tspan>=0.7%<tspan font-style="italic">&#969;</tspan><tspan dy="11" font-size="20" >0</tspan><tspan dy="-11" font-size="1">&#8203;</tspan>, <tspan font-style="italic">&#945;</tspan>=4<tspan dy="-13" font-size="20">&#176;</tspan><tspan dy="13" font-size="1">&#8203;</tspan></text>
<filter id="pgsp" filterUnits="userSpaceOnUse" x="102.4" y="924.2" width="392.6" height="336.39999999999986" color-interpolation-filters="sRGB">
<feTurbulence type="fractalNoise" baseFrequency="0.16 0.45" numOctaves="2" seed="5" result="t"/>
<feColorMatrix in="t" type="matrix" values="3.0 0 0 0 -1.0  3.0 0 0 0 -1.0  3.0 0 0 0 -1.0  0 0 0 0 1" result="n"/>
<feComposite in="SourceGraphic" in2="n" operator="arithmetic" k1="0" k2="2.6" k3="1.2" k4="-1.5" result="m0"/>
<feColorMatrix in="m0" type="matrix" values="1 0 0 0 0  1 0 0 0 0  1 0 0 0 0  0 0 0 0 1" result="m1"/>
<feComponentTransfer><feFuncR type="table" tableValues="0.000 0.000 0.000 0.000 0.000 0.000 0.000 0.000 0.000 0.000 0.000 0.000 0.000 0.125 0.250 0.375 0.500 0.625 0.750 0.875 1.000 1.000 1.000 1.000 1.000 1.000 1.000 1.000 1.000 0.875 0.750 0.625 0.500"/><feFuncG type="table" tableValues="0.000 0.000 0.000 0.000 0.000 0.125 0.250 0.375 0.500 0.625 0.750 0.875 1.000 1.000 1.000 1.000 1.000 1.000 1.000 1.000 1.000 0.875 0.750 0.625 0.500 0.375 0.250 0.125 0.000 0.000 0.000 0.000 0.000"/><feFuncB type="table" tableValues="0.565 0.625 0.750 0.875 1.000 1.000 1.000 1.000 1.000 1.000 1.000 1.000 1.000 0.875 0.750 0.625 0.500 0.375 0.250 0.125 0.000 0.000 0.000 0.000 0.000 0.000 0.000 0.000 0.000 0.000 0.000 0.000 0.000"/></feComponentTransfer>
<feGaussianBlur stdDeviation="0.55"/>
</filter>
<clipPath id="pgclip"><rect x="102.4" y="924.2" width="392.6" height="336.39999999999986"/></clipPath>
<g clip-path="url(#pgclip)">
<g filter="url(#pgsp)"><rect x="102.4" y="924.2" width="392.6" height="336.39999999999986" fill="#000"/>
<filter id="pgb7x7" filterUnits="userSpaceOnUse" x="42.400000000000006" y="864.2" width="512.6" height="456.39999999999986" color-interpolation-filters="sRGB"><feGaussianBlur stdDeviation="7 7"/></filter>
<path d="M357.8 949.0 C363.2 955.0 381.3 973.2 390.0 985.0 C398.7 996.8 404.2 1009.2 410.0 1020.0 C415.8 1030.8 422.5 1045.0 425.0 1050.0" fill="none" stroke="rgb(84,84,84)" stroke-width="22" stroke-linecap="round" opacity="1" filter="url(#pgb7x7)"/>
<path d="M431.0 1140.0 C429.2 1144.2 425.7 1154.3 420.0 1165.0 C414.3 1175.7 405.2 1193.5 397.0 1204.0 C388.8 1214.5 375.3 1224.0 371.0 1228.0" fill="none" stroke="rgb(79,79,79)" stroke-width="20" stroke-linecap="round" opacity="1" filter="url(#pgb7x7)"/>
<path d="M215.0 985.0 C208.1 986.5 185.0 987.1 173.8 993.8 C162.6 1000.5 154.1 1017.7 147.6 1025.4 C141.1 1033.1 137.1 1037.6 135.0 1040.0" fill="none" stroke="rgb(79,79,79)" stroke-width="22" stroke-linecap="round" opacity="1" filter="url(#pgb7x7)"/>
<path d="M135.0 1145.0 C139.3 1148.3 152.0 1157.9 160.7 1164.7 C169.4 1171.5 177.9 1180.7 187.0 1185.7 C196.1 1190.8 210.3 1193.5 215.0 1195.0" fill="none" stroke="rgb(79,79,79)" stroke-width="22" stroke-linecap="round" opacity="1" filter="url(#pgb7x7)"/>
<filter id="pgb6x5" filterUnits="userSpaceOnUse" x="42.400000000000006" y="864.2" width="512.6" height="456.39999999999986" color-interpolation-filters="sRGB"><feGaussianBlur stdDeviation="6 5"/></filter>
<path d="M235.0 985.0 C240.8 983.8 259.2 978.0 270.0 978.0 C280.8 978.0 295.0 983.8 300.0 985.0" fill="none" stroke="rgb(69,69,69)" stroke-width="14" stroke-linecap="round" opacity="1" filter="url(#pgb6x5)"/>
<path d="M235.0 1180.0 C240.8 1181.3 257.5 1188.0 270.0 1188.0 C282.5 1188.0 303.3 1181.3 310.0 1180.0" fill="none" stroke="rgb(69,69,69)" stroke-width="14" stroke-linecap="round" opacity="1" filter="url(#pgb6x5)"/>
<filter id="pgb9x10" filterUnits="userSpaceOnUse" x="42.400000000000006" y="864.2" width="512.6" height="456.39999999999986" color-interpolation-filters="sRGB"><feGaussianBlur stdDeviation="9 10"/></filter>
<ellipse cx="428.0" cy="1090.0" rx="40.0" ry="70.0" fill="rgb(102,102,102)" opacity="1" filter="url(#pgb9x10)"/>
<filter id="pgb8x9" filterUnits="userSpaceOnUse" x="42.400000000000006" y="864.2" width="512.6" height="456.39999999999986" color-interpolation-filters="sRGB"><feGaussianBlur stdDeviation="8 9"/></filter>
<ellipse cx="428.0" cy="1090.0" rx="30.0" ry="50.0" fill="rgb(128,128,128)" opacity="1" filter="url(#pgb8x9)"/>
<filter id="pgb9x6" filterUnits="userSpaceOnUse" x="42.400000000000006" y="864.2" width="512.6" height="456.39999999999986" color-interpolation-filters="sRGB"><feGaussianBlur stdDeviation="9 6"/></filter>
<ellipse cx="224.0" cy="995.0" rx="38.0" ry="22.0" fill="rgb(102,102,102)" opacity="1" filter="url(#pgb9x6)"/>
<filter id="pgb5x4" filterUnits="userSpaceOnUse" x="42.400000000000006" y="864.2" width="512.6" height="456.39999999999986" color-interpolation-filters="sRGB"><feGaussianBlur stdDeviation="5 4"/></filter>
<ellipse cx="224.0" cy="998.0" rx="16.0" ry="12.0" fill="rgb(140,140,140)" opacity="1" filter="url(#pgb5x4)"/>
<filter id="pgb9x7" filterUnits="userSpaceOnUse" x="42.400000000000006" y="864.2" width="512.6" height="456.39999999999986" color-interpolation-filters="sRGB"><feGaussianBlur stdDeviation="9 7"/></filter>
<ellipse cx="226.0" cy="1190.0" rx="34.0" ry="26.0" fill="rgb(102,102,102)" opacity="1" filter="url(#pgb9x7)"/>
<ellipse cx="226.0" cy="1186.0" rx="16.0" ry="12.0" fill="rgb(140,140,140)" opacity="1" filter="url(#pgb5x4)"/>
<filter id="pgb8x4" filterUnits="userSpaceOnUse" x="42.400000000000006" y="864.2" width="512.6" height="456.39999999999986" color-interpolation-filters="sRGB"><feGaussianBlur stdDeviation="8 4"/></filter>
<ellipse cx="138.0" cy="1041.0" rx="30.0" ry="10.0" fill="rgb(102,102,102)" opacity="1" filter="url(#pgb8x4)"/>
<ellipse cx="140.0" cy="1141.0" rx="34.0" ry="11.0" fill="rgb(102,102,102)" opacity="1" filter="url(#pgb8x4)"/>
<filter id="pgb3x3" filterUnits="userSpaceOnUse" x="42.400000000000006" y="864.2" width="512.6" height="456.39999999999986" color-interpolation-filters="sRGB"><feGaussianBlur stdDeviation="3 3"/></filter>
<ellipse cx="430.0" cy="1088.0" rx="34.0" ry="16.0" fill="rgb(219,219,219)" opacity="1" filter="url(#pgb3x3)"/>
<ellipse cx="422.0" cy="1062.0" rx="20.0" ry="20.0" fill="rgb(219,219,219)" opacity="1" filter="url(#pgb3x3)"/>
<ellipse cx="427.0" cy="1117.0" rx="16.0" ry="22.0" fill="rgb(219,219,219)" opacity="1" filter="url(#pgb3x3)"/>
<filter id="pgb3x2" filterUnits="userSpaceOnUse" x="42.400000000000006" y="864.2" width="512.6" height="456.39999999999986" color-interpolation-filters="sRGB"><feGaussianBlur stdDeviation="3 2"/></filter>
<ellipse cx="452.0" cy="1092.0" rx="20.0" ry="7.0" fill="rgb(219,219,219)" opacity="1" filter="url(#pgb3x2)"/>
<ellipse cx="428.0" cy="1088.0" rx="26.0" ry="11.0" fill="rgb(255,255,255)" opacity="1" filter="url(#pgb3x3)"/>
<ellipse cx="422.0" cy="1066.0" rx="13.0" ry="14.0" fill="rgb(255,255,255)" opacity="1" filter="url(#pgb3x3)"/>
<ellipse cx="427.0" cy="1112.0" rx="10.0" ry="15.0" fill="rgb(255,255,255)" opacity="1" filter="url(#pgb3x3)"/>
<filter id="pgb1_5x1_5" filterUnits="userSpaceOnUse" x="42.400000000000006" y="864.2" width="512.6" height="456.39999999999986" color-interpolation-filters="sRGB"><feGaussianBlur stdDeviation="1.5 1.5"/></filter>
<ellipse cx="224.0" cy="991.0" rx="8.0" ry="5.0" fill="rgb(255,255,255)" opacity="1" filter="url(#pgb1_5x1_5)"/>
<filter id="pgb2x2" filterUnits="userSpaceOnUse" x="42.400000000000006" y="864.2" width="512.6" height="456.39999999999986" color-interpolation-filters="sRGB"><feGaussianBlur stdDeviation="2 2"/></filter>
<ellipse cx="222.0" cy="1007.0" rx="9.0" ry="5.0" fill="rgb(217,217,217)" opacity="1" filter="url(#pgb2x2)"/>
<ellipse cx="224.0" cy="1178.0" rx="8.0" ry="6.0" fill="rgb(255,255,255)" opacity="1" filter="url(#pgb1_5x1_5)"/>
<filter id="pgb2x1_5" filterUnits="userSpaceOnUse" x="42.400000000000006" y="864.2" width="512.6" height="456.39999999999986" color-interpolation-filters="sRGB"><feGaussianBlur stdDeviation="2 1.5"/></filter>
<ellipse cx="227.0" cy="1193.0" rx="9.0" ry="5.0" fill="rgb(230,230,230)" opacity="1" filter="url(#pgb2x1_5)"/>
<filter id="pgb2x1" filterUnits="userSpaceOnUse" x="42.400000000000006" y="864.2" width="512.6" height="456.39999999999986" color-interpolation-filters="sRGB"><feGaussianBlur stdDeviation="2 1"/></filter>
<ellipse cx="124.0" cy="1041.0" rx="14.0" ry="3.0" fill="rgb(255,255,255)" opacity="1" filter="url(#pgb2x1)"/>
<ellipse cx="132.0" cy="1140.0" rx="20.0" ry="3.5" fill="rgb(255,255,255)" opacity="1" filter="url(#pgb2x1)"/>
</g>
<ellipse cx="285.8" cy="1065.7" rx="150.9" ry="134.4" stroke="#fff" fill="none" stroke-width="2.6"/>
<ellipse cx="283.6" cy="1119.3" rx="150.5" ry="132.9" stroke="#fff" fill="none" stroke-width="2.6" stroke-dasharray="11 7"/>
<path d="M354.7 924.2 C353.8 927.8 351.4 938.4 349.5 946.0 C347.6 953.6 344.9 962.7 343.2 970.0 C341.4 977.3 339.8 984.0 339.0 990.0 C338.2 996.0 337.9 1000.3 338.6 1006.0 C339.3 1011.7 340.4 1017.6 343.0 1024.0 C345.6 1030.4 348.5 1037.3 354.5 1044.5 C360.5 1051.7 369.5 1061.0 378.8 1067.4 C388.1 1073.9 401.2 1078.8 410.4 1083.2 C419.6 1087.6 425.2 1090.2 434.0 1093.7 C442.8 1097.2 452.7 1100.5 462.9 1104.2 C473.1 1107.9 489.6 1114.0 495.0 1116.0" stroke="#fff" fill="none" stroke-width="2.6"/>
<path d="M102.4 1022.8 C107.7 1025.1 122.5 1031.2 134.4 1036.4 C146.3 1041.7 162.9 1048.7 173.8 1054.3 C184.8 1059.9 193.1 1065.3 200.1 1070.1 C207.1 1074.9 211.5 1078.4 215.9 1083.2 C220.3 1088.0 223.8 1092.9 226.4 1099.0 C229.0 1105.1 230.9 1112.1 231.7 1120.0 C232.5 1127.9 232.0 1137.5 231.1 1146.3 C230.2 1155.1 228.5 1163.0 226.4 1172.6 C224.3 1182.2 221.6 1193.1 218.5 1204.1 C215.4 1215.0 210.9 1228.9 208.0 1238.3 C205.1 1247.7 202.1 1256.9 200.9 1260.6" stroke="#fff" fill="none" stroke-width="2.6"/>
<path d="M200.1 924.2 C201.4 928.4 204.9 939.8 208.0 949.2 C211.1 958.6 215.4 970.2 218.5 980.7 C221.6 991.2 224.3 1002.6 226.4 1012.2 C228.5 1021.8 230.2 1030.2 231.1 1038.5 C232.0 1046.8 232.5 1054.3 231.7 1062.2 C230.9 1070.1 229.9 1078.3 226.4 1085.8 C222.9 1093.2 218.1 1100.3 210.6 1106.9 C203.1 1113.5 192.2 1119.5 181.7 1125.2 C171.2 1130.9 157.7 1136.4 147.6 1141.0 C137.5 1145.6 128.8 1149.4 121.3 1152.8 C113.8 1156.2 105.6 1160.0 102.4 1161.5" stroke="#fff" fill="none" stroke-width="2.6" stroke-dasharray="11 7"/>
<path d="M495.0 1070.1 C489.6 1071.8 473.1 1076.7 462.9 1080.6 C452.7 1084.5 443.6 1089.3 434.0 1093.7 C424.4 1098.1 415.2 1101.7 405.1 1106.9 C395.0 1112.2 382.1 1119.1 373.6 1125.2 C365.1 1131.3 358.9 1137.0 353.9 1143.6 C348.9 1150.2 345.8 1156.8 343.4 1164.7 C341.0 1172.6 339.8 1182.2 339.4 1191.0 C338.9 1199.8 339.4 1208.9 340.7 1217.2 C342.0 1225.5 345.6 1235.1 347.3 1240.9 C349.1 1246.7 350.6 1250.2 351.2 1252.0" stroke="#fff" fill="none" stroke-width="2.6" stroke-dasharray="11 7"/>
</g>
<rect x="102.4" y="924.2" width="392.6" height="336.39999999999986" fill="none" stroke="#223" stroke-width="0.8"/>
<text transform="translate(140.8,1295.6) scale(0.93,1)" font-size="27" text-anchor="middle" fill="#1a1a1a" font-weight="normal" font-style="normal" >-0.5</text>
<text transform="translate(223.5,1295.6) scale(0.93,1)" font-size="27" text-anchor="middle" fill="#1a1a1a" font-weight="normal" font-style="normal" >0</text>
<text transform="translate(303.2,1295.6) scale(0.93,1)" font-size="27" text-anchor="middle" fill="#1a1a1a" font-weight="normal" font-style="normal" >0.5</text>
<text transform="translate(382.9,1295.6) scale(0.93,1)" font-size="27" text-anchor="middle" fill="#1a1a1a" font-weight="normal" font-style="normal" >1</text>
<text transform="translate(462.6,1295.6) scale(0.93,1)" font-size="27" text-anchor="middle" fill="#1a1a1a" font-weight="normal" font-style="normal" >1.5</text>
<text transform="translate(93.2,963.5) scale(0.93,1)" font-size="27" text-anchor="end" fill="#1a1a1a" font-weight="normal" font-style="normal" >1</text>
<text transform="translate(93.2,1033.6) scale(0.93,1)" font-size="27" text-anchor="end" fill="#1a1a1a" font-weight="normal" font-style="normal" >0.5</text>
<text transform="translate(93.2,1103.7) scale(0.93,1)" font-size="27" text-anchor="end" fill="#1a1a1a" font-weight="normal" font-style="normal" >0</text>
<text transform="translate(93.2,1173.8) scale(0.93,1)" font-size="27" text-anchor="end" fill="#1a1a1a" font-weight="normal" font-style="normal" >-0.5</text>
<text transform="translate(93.2,1243.9) scale(0.93,1)" font-size="27" text-anchor="end" fill="#1a1a1a" font-weight="normal" font-style="normal" >-1</text>
<text x="298.7" y="1330" font-size="30" text-anchor="middle" fill="#1a1a1a">k<tspan dy="14.5" font-size="22" dx=1>x</tspan><tspan dy="-14.5" font-size="1">&#8203;</tspan><tspan dx="1">c</tspan>/<tspan font-style="italic">&#969;</tspan><tspan dy="14.5" font-size="22" dx=1>0</tspan><tspan dy="-14.5" font-size="1">&#8203;</tspan></text>
<text transform="translate(25.4,1095) rotate(-90)" font-size="30" text-anchor="middle" fill="#1a1a1a">k<tspan dy="14.5" font-size="22" dx=1>y</tspan><tspan dy="-14.5" font-size="1">&#8203;</tspan><tspan dx="1">c</tspan>/<tspan font-style="italic">&#969;</tspan><tspan dy="14.5" font-size="22" dx=1>0</tspan><tspan dy="-14.5" font-size="1">&#8203;</tspan></text>
<rect x="515.3" y="991" width="23.800000000000068" height="241.20000000000005" fill="url(#jetg)" stroke="#222" stroke-width="0.8"/>
<text transform="translate(548.1,1240.6) scale(0.93,1)" font-size="24" text-anchor="start" fill="#1a1a1a" font-weight="normal" font-style="normal" >3</text>
<text transform="translate(548.1,1173.6) scale(0.93,1)" font-size="24" text-anchor="start" fill="#1a1a1a" font-weight="normal" font-style="normal" >3.5</text>
<text transform="translate(548.1,1106.6) scale(0.93,1)" font-size="24" text-anchor="start" fill="#1a1a1a" font-weight="normal" font-style="normal" >4</text>
<text transform="translate(548.1,1039.6) scale(0.93,1)" font-size="24" text-anchor="start" fill="#1a1a1a" font-weight="normal" font-style="normal" >4.5</text>
<text x="515.5" y="959.0" font-size="22" fill="#1a1a1a">E</text>
<text x="529.9" y="970.5" font-size="19" fill="#1a1a1a">x</text>
<text x="539.8" y="981.2" font-size="24" fill="#1a1a1a">&#215;<tspan dx="2.5">10</tspan></text>
<text x="580.3" y="970.5" font-size="19" fill="#1a1a1a">5</text>
<text transform="translate(111.4,965.0) scale(0.93,1)" font-size="30" text-anchor="start" fill="#fff" font-weight="normal" font-style="normal" >(g)</text>
<filter id="phsp" filterUnits="userSpaceOnUse" x="727.5" y="924.2" width="392.5999999999999" height="336.39999999999986" color-interpolation-filters="sRGB">
<feTurbulence type="fractalNoise" baseFrequency="0.21 0.5" numOctaves="2" seed="9" result="t"/>
<feColorMatrix in="t" type="matrix" values="2.6 0 0 0 -0.8  2.6 0 0 0 -0.8  2.6 0 0 0 -0.8  0 0 0 0 1" result="n"/>
<feComposite in="SourceGraphic" in2="n" operator="arithmetic" k1="0" k2="2.6" k3="1.2" k4="-1.5" result="m0"/>
<feColorMatrix in="m0" type="matrix" values="1 0 0 0 0  1 0 0 0 0  1 0 0 0 0  0 0 0 0 1" result="m1"/>
<feComposite in="m1" in2="SourceGraphic" operator="arithmetic" k1="0" k2="1" k3="0.17" k4="0" result="m2"/>
<feColorMatrix in="m2" type="matrix" values="1 0 0 0 0  1 0 0 0 0  1 0 0 0 0  0 0 0 0 1"/>
<feComponentTransfer><feFuncR type="table" tableValues="0.000 0.000 0.000 0.000 0.000 0.000 0.000 0.000 0.000 0.000 0.000 0.000 0.000 0.125 0.250 0.375 0.500 0.625 0.750 0.875 1.000 1.000 1.000 1.000 1.000 1.000 1.000 1.000 1.000 0.875 0.750 0.625 0.500"/><feFuncG type="table" tableValues="0.000 0.000 0.000 0.000 0.000 0.125 0.250 0.375 0.500 0.625 0.750 0.875 1.000 1.000 1.000 1.000 1.000 1.000 1.000 1.000 1.000 0.875 0.750 0.625 0.500 0.375 0.250 0.125 0.000 0.000 0.000 0.000 0.000"/><feFuncB type="table" tableValues="0.565 0.625 0.750 0.875 1.000 1.000 1.000 1.000 1.000 1.000 1.000 1.000 1.000 0.875 0.750 0.625 0.500 0.375 0.250 0.125 0.000 0.000 0.000 0.000 0.000 0.000 0.000 0.000 0.000 0.000 0.000 0.000 0.000"/></feComponentTransfer>
<feGaussianBlur stdDeviation="0.55"/>
</filter>
<clipPath id="phclip"><rect x="727.5" y="924.2" width="392.5999999999999" height="336.39999999999986"/></clipPath>
<g clip-path="url(#phclip)">
<g filter="url(#phsp)"><rect x="727.5" y="924.2" width="392.5999999999999" height="336.39999999999986" fill="#000"/>
<filter id="phb14x14" filterUnits="userSpaceOnUse" x="667.5" y="864.2" width="512.5999999999999" height="456.39999999999986" color-interpolation-filters="sRGB"><feGaussianBlur stdDeviation="14 14"/></filter>
<ellipse cx="810.1" cy="1095.0" rx="150.0" ry="200.0" fill="rgb(46,46,46)" opacity="1" filter="url(#phb14x14)"/>
<filter id="phb12x14" filterUnits="userSpaceOnUse" x="667.5" y="864.2" width="512.5999999999999" height="456.39999999999986" color-interpolation-filters="sRGB"><feGaussianBlur stdDeviation="12 14"/></filter>
<ellipse cx="995.1" cy="1095.0" rx="50.0" ry="150.0" fill="rgb(45,45,45)" opacity="1" filter="url(#phb12x14)"/>
<filter id="phb8x8" filterUnits="userSpaceOnUse" x="667.5" y="864.2" width="512.5999999999999" height="456.39999999999986" color-interpolation-filters="sRGB"><feGaussianBlur stdDeviation="8 8"/></filter>
<rect x="860.1" y="1045" width="110" height="105" fill="#000" opacity="0.5" filter="url(#phb8x8)"/>
<filter id="phb12x10" filterUnits="userSpaceOnUse" x="667.5" y="864.2" width="512.5999999999999" height="456.39999999999986" color-interpolation-filters="sRGB"><feGaussianBlur stdDeviation="12 10"/></filter>
<ellipse cx="850.1" cy="1005.0" rx="55.0" ry="42.0" fill="rgb(64,64,64)" opacity="1" filter="url(#phb12x10)"/>
<filter id="phb12x9" filterUnits="userSpaceOnUse" x="667.5" y="864.2" width="512.5999999999999" height="456.39999999999986" color-interpolation-filters="sRGB"><feGaussianBlur stdDeviation="12 9"/></filter>
<ellipse cx="840.1" cy="1185.0" rx="66.0" ry="34.0" fill="rgb(64,64,64)" opacity="1" filter="url(#phb12x9)"/>
<filter id="phb6x14" filterUnits="userSpaceOnUse" x="667.5" y="864.2" width="512.5999999999999" height="456.39999999999986" color-interpolation-filters="sRGB"><feGaussianBlur stdDeviation="6 14"/></filter>
<ellipse cx="743.1" cy="1090.0" rx="16.0" ry="100.0" fill="rgb(56,56,56)" opacity="1" filter="url(#phb6x14)"/>
<filter id="phb8x9" filterUnits="userSpaceOnUse" x="667.5" y="864.2" width="512.5999999999999" height="456.39999999999986" color-interpolation-filters="sRGB"><feGaussianBlur stdDeviation="8 9"/></filter>
<ellipse cx="999.1" cy="985.0" rx="32.0" ry="36.0" fill="rgb(71,71,71)" opacity="1" filter="url(#phb8x9)"/>
<ellipse cx="996.1" cy="1188.0" rx="28.0" ry="36.0" fill="rgb(71,71,71)" opacity="1" filter="url(#phb8x9)"/>
<filter id="phb11x11" filterUnits="userSpaceOnUse" x="667.5" y="864.2" width="512.5999999999999" height="456.39999999999986" color-interpolation-filters="sRGB"><feGaussianBlur stdDeviation="11 11"/></filter>
<ellipse cx="1045.1" cy="1088.0" rx="48.0" ry="48.0" fill="rgb(84,84,84)" opacity="1" filter="url(#phb11x11)"/>
<filter id="phb8x7" filterUnits="userSpaceOnUse" x="667.5" y="864.2" width="512.5999999999999" height="456.39999999999986" color-interpolation-filters="sRGB"><feGaussianBlur stdDeviation="8 7"/></filter>
<ellipse cx="1045.1" cy="1088.0" rx="34.0" ry="24.0" fill="rgb(128,128,128)" opacity="1" filter="url(#phb8x7)"/>
<filter id="phb6x5" filterUnits="userSpaceOnUse" x="667.5" y="864.2" width="512.5999999999999" height="456.39999999999986" color-interpolation-filters="sRGB"><feGaussianBlur stdDeviation="6 5"/></filter>
<ellipse cx="1044.1" cy="1088.0" rx="22.0" ry="14.0" fill="rgb(163,163,163)" opacity="1" filter="url(#phb6x5)"/>
<filter id="phb4x3" filterUnits="userSpaceOnUse" x="667.5" y="864.2" width="512.5999999999999" height="456.39999999999986" color-interpolation-filters="sRGB"><feGaussianBlur stdDeviation="4 3"/></filter>
<ellipse cx="1043.1" cy="1087.0" rx="14.0" ry="8.0" fill="rgb(199,199,199)" opacity="1" filter="url(#phb4x3)"/>
<filter id="phb6x8" filterUnits="userSpaceOnUse" x="667.5" y="864.2" width="512.5999999999999" height="456.39999999999986" color-interpolation-filters="sRGB"><feGaussianBlur stdDeviation="6 8"/></filter>
<ellipse cx="1091.1" cy="1088.0" rx="34.0" ry="46.0" fill="rgb(61,61,61)" opacity="1" filter="url(#phb6x8)"/>
</g>
<filter id="phov" filterUnits="userSpaceOnUse" x="727.5" y="924.2" width="392.5999999999999" height="336.39999999999986" color-interpolation-filters="sRGB">
<feComponentTransfer><feFuncR type="table" tableValues="0.000 0.000 0.000 0.000 0.000 0.000 0.000 0.000 0.000 0.000 0.000 0.000 0.000 0.125 0.250 0.375 0.500 0.625 0.750 0.875 1.000 1.000 1.000 1.000 1.000 1.000 1.000 1.000 1.000 0.875 0.750 0.625 0.500"/><feFuncG type="table" tableValues="0.000 0.000 0.000 0.000 0.000 0.125 0.250 0.375 0.500 0.625 0.750 0.875 1.000 1.000 1.000 1.000 1.000 1.000 1.000 1.000 1.000 0.875 0.750 0.625 0.500 0.375 0.250 0.125 0.000 0.000 0.000 0.000 0.000"/><feFuncB type="table" tableValues="0.500 0.625 0.750 0.875 1.000 1.000 1.000 1.000 1.000 1.000 1.000 1.000 1.000 0.875 0.750 0.625 0.500 0.375 0.250 0.125 0.000 0.000 0.000 0.000 0.000 0.000 0.000 0.000 0.000 0.000 0.000 0.000 0.000"/></feComponentTransfer>
</filter>
<g filter="url(#phov)">
<filter id="phb4x0_6" filterUnits="userSpaceOnUse" x="667.5" y="864.2" width="512.5999999999999" height="456.39999999999986" color-interpolation-filters="sRGB"><feGaussianBlur stdDeviation="4 0.6"/></filter>
<path d="M1073.1 1042.5 C1081.8 1042.5 1116.4 1042.5 1125.1 1042.5" fill="none" stroke="rgb(107,107,107)" stroke-width="1.6" stroke-linecap="butt" opacity="0.833259129047242" filter="url(#phb4x0_6)"/>
<path d="M1071.1 1047.6 C1080.1 1047.6 1116.1 1047.6 1125.1 1047.6" fill="none" stroke="rgb(97,97,97)" stroke-width="1.6" stroke-linecap="butt" opacity="0.7777245309738724" filter="url(#phb4x0_6)"/>
<path d="M1082.1 1052.8 C1086.9 1052.8 1106.3 1052.8 1111.1 1052.8" fill="none" stroke="rgb(148,148,148)" stroke-width="1.6" stroke-linecap="butt" opacity="0.5574992034601728" filter="url(#phb4x0_6)"/>
<path d="M1072.1 1060.4 C1078.6 1060.4 1104.6 1060.4 1111.1 1060.4" fill="none" stroke="rgb(107,107,107)" stroke-width="1.6" stroke-linecap="butt" opacity="0.6491553188904142" filter="url(#phb4x0_6)"/>
<path d="M1069.1 1066.8 C1078.4 1066.8 1115.8 1066.8 1125.1 1066.8" fill="none" stroke="rgb(92,92,92)" stroke-width="1.6" stroke-linecap="butt" opacity="0.8279294610913879" filter="url(#phb4x0_6)"/>
<path d="M1070.1 1070.6 C1076.9 1070.6 1104.3 1070.6 1111.1 1070.6" fill="none" stroke="rgb(115,115,115)" stroke-width="1.6" stroke-linecap="butt" opacity="0.8096576190459044" filter="url(#phb4x0_6)"/>
<path d="M1080.1 1077.0 C1085.3 1077.0 1105.9 1077.0 1111.1 1077.0" fill="none" stroke="rgb(102,102,102)" stroke-width="1.6" stroke-linecap="butt" opacity="0.8205019607920525" filter="url(#phb4x0_6)"/>
<path d="M1065.1 1083.4 C1075.1 1083.4 1115.1 1083.4 1125.1 1083.4" fill="none" stroke="rgb(128,128,128)" stroke-width="1.6" stroke-linecap="butt" opacity="0.8563305513824644" filter="url(#phb4x0_6)"/>
<path d="M1068.1 1093.6 C1077.6 1093.6 1115.6 1093.6 1125.1 1093.6" fill="none" stroke="rgb(199,199,199)" stroke-width="1.6" stroke-linecap="butt" opacity="0.7160404788040279" filter="url(#phb4x0_6)"/>
<path d="M1073.1 1098.7 C1081.8 1098.7 1116.4 1098.7 1125.1 1098.7" fill="none" stroke="rgb(115,115,115)" stroke-width="1.6" stroke-linecap="butt" opacity="0.7846479876054935" filter="url(#phb4x0_6)"/>
<path d="M1070.1 1103.8 C1079.3 1103.8 1115.9 1103.8 1125.1 1103.8" fill="none" stroke="rgb(92,92,92)" stroke-width="1.6" stroke-linecap="butt" opacity="0.7318431065817148" filter="url(#phb4x0_6)"/>
<path d="M1078.1 1108.9 C1085.9 1108.9 1117.3 1108.9 1125.1 1108.9" fill="none" stroke="rgb(122,122,122)" stroke-width="1.6" stroke-linecap="butt" opacity="0.672545412950472" filter="url(#phb4x0_6)"/>
<path d="M1080.1 1115.3 C1086.4 1115.3 1111.8 1115.3 1118.1 1115.3" fill="none" stroke="rgb(97,97,97)" stroke-width="1.6" stroke-linecap="butt" opacity="0.8373688099872579" filter="url(#phb4x0_6)"/>
<path d="M1083.1 1121.7 C1090.1 1121.7 1118.1 1121.7 1125.1 1121.7" fill="none" stroke="rgb(128,128,128)" stroke-width="1.6" stroke-linecap="butt" opacity="0.6070869316827765" filter="url(#phb4x0_6)"/>
<path d="M1063.1 1128.1 C1073.4 1128.1 1114.8 1128.1 1125.1 1128.1" fill="none" stroke="rgb(153,153,153)" stroke-width="1.6" stroke-linecap="butt" opacity="0.8735716815166201" filter="url(#phb4x0_6)"/>
<path d="M1083.1 1134.4 C1088.9 1134.4 1112.3 1134.4 1118.1 1134.4" fill="none" stroke="rgb(102,102,102)" stroke-width="1.6" stroke-linecap="butt" opacity="0.5868868035486897" filter="url(#phb4x0_6)"/>
<path d="M965.1 953.2 C970.9 953.2 994.3 953.2 1000.1 953.2" fill="none" stroke="rgb(97,97,97)" stroke-width="1.6" stroke-linecap="butt" opacity="0.8113643610094146" filter="url(#phb4x0_6)"/>
<path d="M975.1 962.1 C982.6 962.1 1012.6 962.1 1020.1 962.1" fill="none" stroke="rgb(102,102,102)" stroke-width="1.6" stroke-linecap="butt" opacity="0.7731363049553804" filter="url(#phb4x0_6)"/>
<path d="M977.1 971.1 C984.8 971.1 1015.4 971.1 1023.1 971.1" fill="none" stroke="rgb(143,143,143)" stroke-width="1.6" stroke-linecap="butt" opacity="0.6946259052250313" filter="url(#phb4x0_6)"/>
<path d="M985.1 981.3 C991.8 981.3 1018.4 981.3 1025.1 981.3" fill="none" stroke="rgb(102,102,102)" stroke-width="1.6" stroke-linecap="butt" opacity="0.6400218019359328" filter="url(#phb4x0_6)"/>
<path d="M997.1 991.5 C1003.8 991.5 1030.4 991.5 1037.1 991.5" fill="none" stroke="rgb(148,148,148)" stroke-width="1.6" stroke-linecap="butt" opacity="0.7126079665504995" filter="url(#phb4x0_6)"/>
<path d="M975.1 999.1 C982.1 999.1 1010.1 999.1 1017.1 999.1" fill="none" stroke="rgb(107,107,107)" stroke-width="1.6" stroke-linecap="butt" opacity="0.7375760994796676" filter="url(#phb4x0_6)"/>
<path d="M980.1 1009.4 C986.8 1009.4 1013.4 1009.4 1020.1 1009.4" fill="none" stroke="rgb(97,97,97)" stroke-width="1.6" stroke-linecap="butt" opacity="0.6576942313004246" filter="url(#phb4x0_6)"/>
<path d="M990.1 1018.3 C995.9 1018.3 1019.3 1018.3 1025.1 1018.3" fill="none" stroke="rgb(97,97,97)" stroke-width="1.6" stroke-linecap="butt" opacity="0.6667171096901731" filter="url(#phb4x0_6)"/>
<path d="M1020.1 1063.0 C1027.6 1063.0 1057.6 1063.0 1065.1 1063.0" fill="none" stroke="rgb(158,158,158)" stroke-width="1.6" stroke-linecap="butt" opacity="0.7330745597291912" filter="url(#phb4x0_6)"/>
<path d="M1025.1 1073.2 C1031.4 1073.2 1056.8 1073.2 1063.1 1073.2" fill="none" stroke="rgb(128,128,128)" stroke-width="1.6" stroke-linecap="butt" opacity="0.8942135651787706" filter="url(#phb4x0_6)"/>
<path d="M1017.1 1083.4 C1024.4 1083.4 1053.8 1083.4 1061.1 1083.4" fill="none" stroke="rgb(204,204,204)" stroke-width="1.6" stroke-linecap="butt" opacity="0.7845011617871286" filter="url(#phb4x0_6)"/>
<path d="M1021.1 1096.2 C1028.4 1096.2 1057.8 1096.2 1065.1 1096.2" fill="none" stroke="rgb(209,209,209)" stroke-width="1.6" stroke-linecap="butt" opacity="0.663395144972884" filter="url(#phb4x0_6)"/>
<path d="M1025.1 1107.6 C1031.8 1107.6 1058.4 1107.6 1065.1 1107.6" fill="none" stroke="rgb(153,153,153)" stroke-width="1.6" stroke-linecap="butt" opacity="0.6611910026494405" filter="url(#phb4x0_6)"/>
<path d="M1029.1 1116.6 C1034.4 1116.6 1055.8 1116.6 1061.1 1116.6" fill="none" stroke="rgb(115,115,115)" stroke-width="1.6" stroke-linecap="butt" opacity="0.7318488302087788" filter="url(#phb4x0_6)"/>
<path d="M1035.1 1052.8 C1040.1 1052.8 1060.1 1052.8 1065.1 1052.8" fill="none" stroke="rgb(115,115,115)" stroke-width="1.6" stroke-linecap="butt" opacity="0.6321641378419951" filter="url(#phb4x0_6)"/>
<path d="M977.1 1165.1 C982.6 1165.1 1004.6 1165.1 1010.1 1165.1" fill="none" stroke="rgb(97,97,97)" stroke-width="1.6" stroke-linecap="butt" opacity="0.6305514844172293" filter="url(#phb4x0_6)"/>
<path d="M977.1 1175.3 C983.8 1175.3 1010.4 1175.3 1017.1 1175.3" fill="none" stroke="rgb(107,107,107)" stroke-width="1.6" stroke-linecap="butt" opacity="0.7556140239269769" filter="url(#phb4x0_6)"/>
<path d="M985.1 1185.5 C990.9 1185.5 1014.3 1185.5 1020.1 1185.5" fill="none" stroke="rgb(128,128,128)" stroke-width="1.6" stroke-linecap="butt" opacity="0.5848917475123219" filter="url(#phb4x0_6)"/>
<path d="M980.1 1194.4 C986.3 1194.4 1010.9 1194.4 1017.1 1194.4" fill="none" stroke="rgb(140,140,140)" stroke-width="1.6" stroke-linecap="butt" opacity="0.7434342129406346" filter="url(#phb4x0_6)"/>
<path d="M977.1 1203.4 C983.1 1203.4 1007.1 1203.4 1013.1 1203.4" fill="none" stroke="rgb(122,122,122)" stroke-width="1.6" stroke-linecap="butt" opacity="0.6948704849551334" filter="url(#phb4x0_6)"/>
<path d="M981.1 1211.0 C986.1 1211.0 1006.1 1211.0 1011.1 1211.0" fill="none" stroke="rgb(128,128,128)" stroke-width="1.6" stroke-linecap="butt" opacity="0.8330746487262686" filter="url(#phb4x0_6)"/>
<path d="M981.1 1218.7 C985.1 1218.7 1001.1 1218.7 1005.1 1218.7" fill="none" stroke="rgb(102,102,102)" stroke-width="1.6" stroke-linecap="butt" opacity="0.8486984892408018" filter="url(#phb4x0_6)"/>
</g>
<ellipse cx="910.9" cy="1065.7" rx="150.9" ry="134.4" stroke="#fff" fill="none" stroke-width="2.6"/>
<ellipse cx="908.7" cy="1119.3" rx="150.5" ry="132.9" stroke="#fff" fill="none" stroke-width="2.6" stroke-dasharray="11 7"/>
<path d="M979.8 924.2 C978.9 927.8 976.5 938.4 974.6 946.0 C972.7 953.6 970.0 962.7 968.3 970.0 C966.5 977.3 964.9 984.0 964.1 990.0 C963.3 996.0 963.0 1000.3 963.7 1006.0 C964.4 1011.7 965.5 1017.6 968.1 1024.0 C970.8 1030.4 973.6 1037.3 979.6 1044.5 C985.6 1051.7 994.6 1061.0 1003.9 1067.4 C1013.2 1073.9 1026.3 1078.8 1035.5 1083.2 C1044.7 1087.6 1050.3 1090.2 1059.1 1093.7 C1067.8 1097.2 1077.8 1100.5 1088.0 1104.2 C1098.2 1107.9 1114.8 1114.0 1120.1 1116.0" stroke="#fff" fill="none" stroke-width="2.6"/>
<path d="M727.5 1022.8 C732.8 1025.1 747.6 1031.2 759.5 1036.4 C771.4 1041.7 788.0 1048.7 798.9 1054.3 C809.9 1059.9 818.2 1065.3 825.2 1070.1 C832.2 1074.9 836.6 1078.4 841.0 1083.2 C845.4 1088.0 848.9 1092.9 851.5 1099.0 C854.1 1105.1 856.0 1112.1 856.8 1120.0 C857.6 1127.9 857.1 1137.5 856.2 1146.3 C855.3 1155.1 853.6 1163.0 851.5 1172.6 C849.4 1182.2 846.7 1193.1 843.6 1204.1 C840.5 1215.0 836.0 1228.9 833.1 1238.3 C830.2 1247.7 827.2 1256.9 826.0 1260.6" stroke="#fff" fill="none" stroke-width="2.6"/>
<path d="M825.2 924.2 C826.5 928.4 830.0 939.8 833.1 949.2 C836.2 958.6 840.5 970.2 843.6 980.7 C846.7 991.2 849.4 1002.6 851.5 1012.2 C853.6 1021.8 855.3 1030.2 856.2 1038.5 C857.1 1046.8 857.6 1054.3 856.8 1062.2 C856.0 1070.1 855.0 1078.3 851.5 1085.8 C848.0 1093.2 843.2 1100.3 835.7 1106.9 C828.2 1113.5 817.3 1119.5 806.8 1125.2 C796.3 1130.9 782.8 1136.4 772.7 1141.0 C762.6 1145.6 753.9 1149.4 746.4 1152.8 C738.9 1156.2 730.6 1160.0 727.5 1161.5" stroke="#fff" fill="none" stroke-width="2.6" stroke-dasharray="11 7"/>
<path d="M1120.1 1070.1 C1114.8 1071.8 1098.2 1076.7 1088.0 1080.6 C1077.8 1084.5 1068.7 1089.3 1059.1 1093.7 C1049.5 1098.1 1040.3 1101.7 1030.2 1106.9 C1020.1 1112.2 1007.2 1119.1 998.7 1125.2 C990.2 1131.3 984.0 1137.0 979.0 1143.6 C974.0 1150.2 970.9 1156.8 968.5 1164.7 C966.1 1172.6 965.0 1182.2 964.5 1191.0 C964.0 1199.8 964.5 1208.9 965.8 1217.2 C967.1 1225.5 970.7 1235.1 972.4 1240.9 C974.2 1246.7 975.6 1250.2 976.3 1252.0" stroke="#fff" fill="none" stroke-width="2.6" stroke-dasharray="11 7"/>
</g>
<rect x="727.5" y="924.2" width="392.5999999999999" height="336.39999999999986" fill="none" stroke="#223" stroke-width="0.8"/>
<text transform="translate(765.9,1295.6) scale(0.93,1)" font-size="27" text-anchor="middle" fill="#1a1a1a" font-weight="normal" font-style="normal" >-0.5</text>
<text transform="translate(848.6,1295.6) scale(0.93,1)" font-size="27" text-anchor="middle" fill="#1a1a1a" font-weight="normal" font-style="normal" >0</text>
<text transform="translate(928.3,1295.6) scale(0.93,1)" font-size="27" text-anchor="middle" fill="#1a1a1a" font-weight="normal" font-style="normal" >0.5</text>
<text transform="translate(1008.0,1295.6) scale(0.93,1)" font-size="27" text-anchor="middle" fill="#1a1a1a" font-weight="normal" font-style="normal" >1</text>
<text transform="translate(1087.7,1295.6) scale(0.93,1)" font-size="27" text-anchor="middle" fill="#1a1a1a" font-weight="normal" font-style="normal" >1.5</text>
<text transform="translate(718.3,963.5) scale(0.93,1)" font-size="27" text-anchor="end" fill="#1a1a1a" font-weight="normal" font-style="normal" >1</text>
<text transform="translate(718.3,1033.6) scale(0.93,1)" font-size="27" text-anchor="end" fill="#1a1a1a" font-weight="normal" font-style="normal" >0.5</text>
<text transform="translate(718.3,1103.7) scale(0.93,1)" font-size="27" text-anchor="end" fill="#1a1a1a" font-weight="normal" font-style="normal" >0</text>
<text transform="translate(718.3,1173.8) scale(0.93,1)" font-size="27" text-anchor="end" fill="#1a1a1a" font-weight="normal" font-style="normal" >-0.5</text>
<text transform="translate(718.3,1243.9) scale(0.93,1)" font-size="27" text-anchor="end" fill="#1a1a1a" font-weight="normal" font-style="normal" >-1</text>
<text x="923.8" y="1330" font-size="30" text-anchor="middle" fill="#1a1a1a">k<tspan dy="14.5" font-size="22" dx=1>x</tspan><tspan dy="-14.5" font-size="1">&#8203;</tspan><tspan dx="1">c</tspan>/<tspan font-style="italic">&#969;</tspan><tspan dy="14.5" font-size="22" dx=1>0</tspan><tspan dy="-14.5" font-size="1">&#8203;</tspan></text>
<text transform="translate(650.5,1095) rotate(-90)" font-size="30" text-anchor="middle" fill="#1a1a1a">k<tspan dy="14.5" font-size="22" dx=1>y</tspan><tspan dy="-14.5" font-size="1">&#8203;</tspan><tspan dx="1">c</tspan>/<tspan font-style="italic">&#969;</tspan><tspan dy="14.5" font-size="22" dx=1>0</tspan><tspan dy="-14.5" font-size="1">&#8203;</tspan></text>
<rect x="1140.7" y="991" width="23.59999999999991" height="241.20000000000005" fill="url(#jetg)" stroke="#222" stroke-width="0.8"/>
<text transform="translate(1173.3,1240.6) scale(0.93,1)" font-size="24" text-anchor="start" fill="#1a1a1a" font-weight="normal" font-style="normal" >3</text>
<text transform="translate(1173.3,1173.6) scale(0.93,1)" font-size="24" text-anchor="start" fill="#1a1a1a" font-weight="normal" font-style="normal" >3.5</text>
<text transform="translate(1173.3,1106.6) scale(0.93,1)" font-size="24" text-anchor="start" fill="#1a1a1a" font-weight="normal" font-style="normal" >4</text>
<text transform="translate(1173.3,1039.6) scale(0.93,1)" font-size="24" text-anchor="start" fill="#1a1a1a" font-weight="normal" font-style="normal" >4.5</text>
<text x="1140.9" y="959.0" font-size="22" fill="#1a1a1a">E</text>
<text x="1155.3" y="970.5" font-size="19" fill="#1a1a1a">x</text>
<text x="1165.2" y="981.2" font-size="24" fill="#1a1a1a">&#215;<tspan dx="2.5">10</tspan></text>
<text x="1205.7" y="970.5" font-size="19" fill="#1a1a1a">5</text>
<text transform="translate(736.5,965.0) scale(0.93,1)" font-size="30" text-anchor="start" fill="#fff" font-weight="normal" font-style="normal" >(h)</text>
<text x="318.4" y="966.2" font-size="21" font-weight="bold" fill="#35d4f2">1<tspan dy="-9" font-size="15">+</tspan><tspan dy="9" font-size="1">&#8203;</tspan></text>
<text x="205.4" y="1037.2" font-size="21" font-weight="bold" fill="#35d4f2">2<tspan dy="-9" font-size="15">&#8722;</tspan><tspan dy="9" font-size="1">&#8203;</tspan></text>
<text x="112.9" y="1072.7" font-size="21" font-weight="bold" fill="#35d4f2">2<tspan dy="-9" font-size="15">+</tspan><tspan dy="9" font-size="1">&#8203;</tspan></text>
<text x="208.5" y="1162.0" font-size="21" font-weight="bold" fill="#35d4f2">2<tspan dy="-9" font-size="15">+</tspan><tspan dy="9" font-size="1">&#8203;</tspan></text>
<text x="121.3" y="1177.8" font-size="21" font-weight="bold" fill="#35d4f2">2<tspan dy="-9" font-size="15">&#8722;</tspan><tspan dy="9" font-size="1">&#8203;</tspan></text>
<text x="319.7" y="1229.0" font-size="21" font-weight="bold" fill="#35d4f2">1<tspan dy="-9" font-size="15">&#8722;</tspan><tspan dy="9" font-size="1">&#8203;</tspan></text>
<text x="990.2" y="944.6" font-size="21" font-weight="bold" fill="#35d4f2">1<tspan dy="-9" font-size="15">+</tspan><tspan dy="9" font-size="1">&#8203;</tspan></text>
<text x="736.7" y="1057.2" font-size="21" font-weight="bold" fill="#35d4f2">2<tspan dy="-9" font-size="15">+</tspan><tspan dy="9" font-size="1">&#8203;</tspan></text>
<text x="833.3" y="1067.4" font-size="21" font-weight="bold" fill="#35d4f2">2<tspan dy="-9" font-size="15">&#8722;</tspan><tspan dy="9" font-size="1">&#8203;</tspan></text>
<text x="834.3" y="1128.9" font-size="21" font-weight="bold" fill="#35d4f2">2<tspan dy="-9" font-size="15">+</tspan><tspan dy="9" font-size="1">&#8203;</tspan></text>
<text x="741.1" y="1147.6" font-size="21" font-weight="bold" fill="#35d4f2">2<tspan dy="-9" font-size="15">&#8722;</tspan><tspan dy="9" font-size="1">&#8203;</tspan></text>
<text x="942.5" y="1229.5" font-size="21" font-weight="bold" fill="#35d4f2">1<tspan dy="-9" font-size="15">&#8722;</tspan><tspan dy="9" font-size="1">&#8203;</tspan></text>
<text x="328.5" y="1097.7" font-size="21" font-weight="bold" fill="#35d4f2">1<tspan dy="-9" font-size="15">+</tspan><tspan dy="9" font-size="1">&#8203;</tspan>, 1<tspan dy="-9" font-size="15">&#8722;</tspan><tspan dy="9" font-size="1">&#8203;</tspan></text>
<text x="946.5" y="1094.7" font-size="21" font-weight="bold" fill="#35d4f2">1<tspan dy="-9" font-size="15">+</tspan><tspan dy="9" font-size="1">&#8203;</tspan>, 1<tspan dy="-9" font-size="15">&#8722;</tspan><tspan dy="9" font-size="1">&#8203;</tspan></text>
<path d="M838.4 1047.0 L844.5 1013.7" stroke="#fff" stroke-width="2.4"/>
<path d="M846.9 1000.9 L850.0 1014.7 L845.1 1010.7 L839.1 1012.7Z" fill="#fff"/>
<path d="M836.7 1125.4 L843.4 1158.8" stroke="#fff" stroke-width="2.4"/>
<path d="M845.9 1171.5 L838.0 1159.8 L843.9 1161.7 L848.7 1157.7Z" fill="#fff"/>
<clipPath id="iclip"><rect x="1334.4" y="922.1" width="470.5" height="352.30000000000007"/></clipPath>
<g clip-path="url(#iclip)">
<polyline points="1335.4,949.1 1336.7,951.9 1338.0,954.7 1339.3,957.5 1340.6,960.3 1341.8,963.1 1343.1,965.7 1344.4,968.4 1345.7,970.9 1346.9,973.4 1348.2,975.6 1349.5,977.5 1350.8,979.4 1352.0,981.3 1353.3,982.9 1354.6,984.7 1355.9,986.3 1357.2,987.9 1358.4,989.6 1359.7,991.1 1361.0,992.9 1362.3,994.5 1363.5,996.1 1364.8,997.9 1366.1,999.4 1367.4,1000.8 1368.6,1002.4 1369.9,1004.0 1371.2,1005.8 1372.5,1007.2 1373.7,1008.7 1375.0,1010.3 1376.3,1012.3 1377.6,1013.9 1378.9,1015.1 1380.1,1016.5 1381.4,1018.3 1382.7,1019.6 1384.0,1021.2 1385.2,1022.7 1386.5,1024.2 1387.8,1025.7 1389.1,1027.3 1390.3,1028.2 1391.6,1029.9 1392.9,1031.6 1394.2,1033.0 1395.5,1034.6 1396.7,1035.6 1398.0,1037.4 1399.3,1038.5 1400.6,1039.6 1401.8,1041.0 1403.1,1042.4 1404.4,1044.3 1405.7,1045.1 1406.9,1046.7 1408.2,1047.7 1409.5,1049.5 1410.8,1050.3 1412.0,1052.1 1413.3,1053.3 1414.6,1055.1 1415.9,1056.5 1417.2,1057.8 1418.4,1058.8 1419.7,1060.6 1421.0,1061.9 1422.3,1062.8 1423.5,1064.4 1424.8,1066.1 1426.1,1067.2 1427.4,1069.2 1428.6,1070.7 1429.9,1071.3 1431.2,1071.8 1432.5,1073.4 1433.7,1074.5 1435.0,1076.7 1436.3,1078.5 1437.6,1079.2 1438.9,1081.5 1440.1,1083.6 1441.4,1083.5 1442.7,1084.6 1444.0,1086.1 1445.2,1087.1 1446.5,1088.8 1447.8,1090.3 1449.1,1092.3 1450.3,1093.2 1451.6,1095.0 1452.9,1095.9 1454.2,1096.1 1455.5,1098.2 1456.7,1099.4 1458.0,1101.2 1459.3,1100.8 1460.6,1104.5 1461.8,1105.1 1463.1,1105.3 1464.4,1107.5 1465.7,1108.8 1466.9,1109.1 1468.2,1110.1 1469.5,1111.3 1470.8,1113.7 1472.0,1113.6 1473.3,1116.3 1474.6,1117.3 1475.9,1118.5 1477.2,1118.5 1478.4,1120.2 1479.7,1121.9 1481.0,1122.1 1482.3,1124.3 1483.5,1124.9 1484.8,1125.8 1486.1,1127.1 1487.4,1128.7 1488.6,1130.1 1489.9,1128.5 1491.2,1133.3 1492.5,1131.5 1493.7,1133.9 1495.0,1134.9 1496.3,1137.3 1497.6,1136.1 1498.9,1137.8 1500.1,1136.6 1501.4,1139.8 1502.7,1141.5 1504.0,1142.7 1505.2,1140.5 1506.5,1142.0 1507.8,1144.2 1509.1,1142.1 1510.3,1145.1 1511.6,1146.8 1512.9,1146.4 1514.2,1149.9 1515.5,1148.7 1516.7,1151.6 1518.0,1149.5 1519.3,1150.2 1520.6,1152.3 1521.8,1150.9 1523.1,1154.9 1524.4,1153.4 1525.7,1155.3 1526.9,1158.1 1528.2,1155.3 1529.5,1154.0 1530.8,1151.9 1532.0,1158.6 1533.3,1158.5 1534.6,1156.7 1535.9,1163.1 1537.2,1158.4 1538.4,1165.8 1539.7,1165.4 1541.0,1164.1 1542.3,1165.1 1543.5,1162.7 1544.8,1168.0 1546.1,1166.5 1547.4,1167.7 1548.6,1167.1 1549.9,1166.7 1551.2,1166.5 1552.5,1168.6 1553.7,1169.1 1555.0,1170.5 1556.3,1175.2 1557.6,1176.5 1558.9,1171.6 1560.1,1176.7 1561.4,1175.8 1562.7,1173.7 1564.0,1175.8 1565.2,1177.6 1566.5,1178.5 1567.8,1176.6 1569.1,1173.2 1570.3,1182.6 1571.6,1179.1 1572.9,1176.3 1574.2,1178.8 1575.5,1181.9 1576.7,1180.7 1578.0,1180.2 1579.3,1178.9 1580.6,1187.3 1581.8,1185.7 1583.1,1182.9 1584.4,1182.9 1585.7,1184.1 1586.9,1184.2 1588.2,1183.3 1589.5,1185.2 1590.8,1179.0 1592.0,1190.0 1593.3,1189.5 1594.6,1193.7 1595.9,1187.6 1597.2,1189.3 1598.4,1191.2 1599.7,1195.2 1601.0,1185.2 1602.3,1191.0 1603.5,1190.2 1604.8,1198.3 1606.1,1193.0 1607.4,1193.0 1608.6,1189.3 1609.9,1193.9 1611.2,1192.7 1612.5,1202.7 1613.7,1198.5 1615.0,1198.0 1616.3,1199.2 1617.6,1200.5 1618.9,1201.2 1620.1,1195.8 1621.4,1202.8 1622.7,1199.0 1624.0,1199.8 1625.2,1204.3 1626.5,1203.0 1627.8,1213.3 1629.1,1207.1 1630.3,1201.1 1631.6,1208.4 1632.9,1214.5 1634.2,1203.3 1635.5,1212.8 1636.7,1202.9 1638.0,1209.0 1639.3,1214.6 1640.6,1212.8 1641.8,1204.3 1643.1,1210.4 1644.4,1212.1 1645.7,1211.7 1646.9,1213.6 1648.2,1216.1 1649.5,1211.4 1650.8,1208.4 1652.0,1214.7 1653.3,1208.9 1654.6,1211.4 1655.9,1223.1 1657.2,1214.1 1658.4,1211.9 1659.7,1226.9 1661.0,1221.1 1662.3,1217.1 1663.5,1223.5 1664.8,1220.1 1666.1,1222.1 1667.4,1225.4 1668.6,1222.4 1669.9,1224.2 1671.2,1223.0 1672.5,1223.4 1673.7,1226.9 1675.0,1227.9 1676.3,1227.6 1677.6,1223.0 1678.9,1230.4 1680.1,1219.9 1681.4,1230.7 1682.7,1218.2 1684.0,1228.6 1685.2,1230.1 1686.5,1230.9 1687.8,1226.6 1689.1,1228.5 1690.3,1234.1 1691.6,1229.3 1692.9,1228.2 1694.2,1230.0 1695.5,1225.1 1696.7,1244.0 1698.0,1233.4 1699.3,1235.8 1700.6,1230.9 1701.8,1224.0 1703.1,1240.9 1704.4,1238.7 1705.7,1236.1 1706.9,1230.5 1708.2,1230.3 1709.5,1239.9 1710.8,1232.1 1712.0,1237.3 1713.3,1232.0 1714.6,1237.4 1715.9,1235.3 1717.2,1238.6 1718.4,1243.9 1719.7,1244.7 1721.0,1237.4 1722.3,1244.5 1723.5,1246.5 1724.8,1242.6 1726.1,1239.2 1727.4,1238.6 1728.6,1246.8 1729.9,1244.1 1731.2,1240.4 1732.5,1247.9 1733.7,1238.9 1735.0,1244.1 1736.3,1251.5 1737.6,1242.1 1738.9,1248.2 1740.1,1237.2 1741.4,1248.3 1742.7,1238.3 1744.0,1234.0 1745.2,1244.9 1746.5,1245.7 1747.8,1251.8 1749.1,1249.1 1750.3,1245.2 1751.6,1237.8 1752.9,1243.2 1754.2,1257.0 1755.5,1243.7 1756.7,1257.3 1758.0,1241.0 1759.3,1245.5 1760.6,1250.7 1761.8,1262.8 1763.1,1250.8 1764.4,1260.1 1765.7,1261.2 1766.9,1257.4 1768.2,1268.4 1769.5,1257.1 1770.8,1255.5 1772.0,1252.4 1773.3,1263.4 1774.6,1263.1 1775.9,1250.4 1777.2,1251.5 1778.4,1273.3 1779.7,1257.4 1781.0,1254.6 1782.3,1267.7 1783.5,1255.6 1784.8,1265.3 1786.1,1266.8 1787.4,1273.7 1788.6,1254.7 1789.9,1273.0 1791.2,1291.1 1792.5,1277.8 1793.7,1273.2 1795.0,1278.4 1796.3,1257.1 1797.6,1276.8 1798.9,1273.6 1800.1,1269.8 1801.4,1265.7" fill="none" stroke="#000" stroke-width="3.9" stroke-linejoin="round" />
<polyline points="1335.4,999.1 1336.7,1001.9 1338.0,1004.8 1339.3,1007.6 1340.6,1010.4 1341.8,1013.1 1343.1,1015.8 1344.4,1018.4 1345.7,1020.9 1346.9,1023.3 1348.2,1025.5 1349.5,1027.5 1350.8,1029.5 1352.0,1031.4 1353.3,1033.0 1354.6,1034.7 1355.9,1036.3 1357.2,1037.9 1358.4,1039.5 1359.7,1040.9 1361.0,1042.3 1362.3,1044.0 1363.5,1045.5 1364.8,1047.0 1366.1,1048.4 1367.4,1050.2 1368.6,1051.5 1369.9,1053.1 1371.2,1054.8 1372.5,1055.9 1373.7,1057.3 1375.0,1059.0 1376.3,1060.4 1377.6,1061.7 1378.9,1062.9 1380.1,1064.8 1381.4,1065.8 1382.7,1067.3 1384.0,1069.6 1385.2,1070.6 1386.5,1071.8 1387.8,1073.4 1389.1,1074.5 1390.3,1076.1 1391.6,1077.4 1392.9,1079.0 1394.2,1080.9 1395.5,1081.7 1396.7,1083.5 1398.0,1084.3 1399.3,1085.8 1400.6,1086.3 1401.8,1088.4 1403.1,1090.5 1404.4,1090.4 1405.7,1092.3 1406.9,1093.4 1408.2,1094.6 1409.5,1096.7 1410.8,1098.0 1412.0,1098.6 1413.3,1100.6 1414.6,1102.1 1415.9,1102.9 1417.2,1103.9 1418.4,1104.7 1419.7,1106.4 1421.0,1107.7 1422.3,1108.4 1423.5,1109.7 1424.8,1110.5 1426.1,1112.6 1427.4,1112.3 1428.6,1114.9 1429.9,1115.0 1431.2,1116.3 1432.5,1118.3 1433.7,1119.1 1435.0,1120.5 1436.3,1121.0 1437.6,1122.0 1438.9,1123.7 1440.1,1124.7 1441.4,1126.6 1442.7,1126.7 1444.0,1127.9 1445.2,1129.7 1446.5,1131.6 1447.8,1131.0 1449.1,1133.9 1450.3,1134.7 1451.6,1136.1 1452.9,1136.2 1454.2,1137.6 1455.5,1140.1 1456.7,1140.4 1458.0,1141.6 1459.3,1141.0 1460.6,1140.2 1461.8,1142.1 1463.1,1143.0 1464.4,1144.3 1465.7,1148.0 1466.9,1149.0 1468.2,1151.2 1469.5,1149.0 1470.8,1151.2 1472.0,1154.0 1473.3,1152.8 1474.6,1154.7 1475.9,1154.1 1477.2,1157.0 1478.4,1158.7 1479.7,1158.6 1481.0,1159.8 1482.3,1159.0 1483.5,1162.1 1484.8,1163.4 1486.1,1163.3 1487.4,1166.9 1488.6,1166.5 1489.9,1164.9 1491.2,1169.2 1492.5,1166.1 1493.7,1170.5 1495.0,1170.6 1496.3,1169.9 1497.6,1171.7 1498.9,1175.7 1500.1,1177.5 1501.4,1174.2 1502.7,1177.9 1504.0,1177.3 1505.2,1176.0 1506.5,1178.9 1507.8,1180.7 1509.1,1183.1 1510.3,1180.8 1511.6,1175.8 1512.9,1185.5 1514.2,1187.9 1515.5,1185.9 1516.7,1182.2 1518.0,1187.4 1519.3,1187.9 1520.6,1188.6 1521.8,1188.8 1523.1,1193.2 1524.4,1195.1 1525.7,1192.2 1526.9,1186.8 1528.2,1199.4 1529.5,1195.7 1530.8,1196.6 1532.0,1198.1 1533.3,1197.0 1534.6,1200.8 1535.9,1196.4 1537.2,1203.2 1538.4,1206.5 1539.7,1202.8 1541.0,1200.7 1542.3,1192.6 1543.5,1205.5 1544.8,1198.9 1546.1,1212.9 1547.4,1203.7 1548.6,1202.4 1549.9,1209.5 1551.2,1206.1 1552.5,1212.2 1553.7,1213.9 1555.0,1213.4 1556.3,1210.3 1557.6,1222.7 1558.9,1208.6 1560.1,1217.0 1561.4,1219.5 1562.7,1212.1 1564.0,1217.3 1565.2,1206.6 1566.5,1225.4 1567.8,1221.8 1569.1,1223.9 1570.3,1215.5 1571.6,1227.0 1572.9,1231.3 1574.2,1237.9 1575.5,1233.8 1576.7,1226.3 1578.0,1231.6 1579.3,1221.5 1580.6,1237.4 1581.8,1230.5 1583.1,1238.6 1584.4,1232.5 1585.7,1236.7 1586.9,1236.0 1588.2,1245.1 1589.5,1229.5 1590.8,1239.8 1592.0,1239.5 1593.3,1240.8 1594.6,1241.3 1595.9,1231.3 1597.2,1233.0 1598.4,1239.3 1599.7,1247.9 1601.0,1241.2 1602.3,1245.8 1603.5,1258.6 1604.8,1248.9 1606.1,1244.4 1607.4,1251.0 1608.6,1249.3 1609.9,1241.5 1611.2,1241.6 1612.5,1261.7 1613.7,1247.4 1615.0,1249.8 1616.3,1248.9 1617.6,1255.9 1618.9,1251.6 1620.1,1268.3 1621.4,1257.2 1622.7,1250.6 1624.0,1265.1 1625.2,1260.7 1626.5,1263.1 1627.8,1257.4 1629.1,1251.7 1630.3,1263.5 1631.6,1247.1 1632.9,1265.8 1634.2,1256.6 1635.5,1259.5 1636.7,1272.5 1638.0,1271.6 1639.3,1265.3 1640.6,1274.4 1641.8,1277.7 1643.1,1270.2 1644.4,1279.9 1645.7,1270.7 1646.9,1273.9 1648.2,1267.2 1649.5,1264.0 1650.8,1285.3 1652.0,1275.8 1653.3,1268.0 1654.6,1254.6 1655.9,1274.4 1657.2,1273.7 1658.4,1280.4 1659.7,1258.1 1661.0,1279.6 1662.3,1273.1 1663.5,1270.8 1664.8,1288.0 1666.1,1289.1 1667.4,1288.7 1668.6,1279.2 1669.9,1273.6 1671.2,1285.9 1672.5,1265.6 1673.7,1286.1 1675.0,1278.5 1676.3,1282.9 1677.6,1290.2 1678.9,1285.2 1680.1,1283.4 1681.4,1294.0 1682.7,1284.0 1684.0,1291.6" fill="none" stroke="#f00" stroke-width="3.7" stroke-linejoin="round" />
</g>
<rect x="1334.4" y="924.1" width="467.5" height="349.80000000000007" fill="none" stroke="#333" stroke-width="0.9"/>
<path d="M1409.1 1273.9 v-5 M1409.1 924.1 v5 M1507.3 1273.9 v-5 M1507.3 924.1 v5 M1605.5 1273.9 v-5 M1605.5 924.1 v5 M1703.7 1273.9 v-5 M1703.7 924.1 v5 M1801.9 1273.9 v-5 M1801.9 924.1 v5 M1334.4 1273.9 h5 M1801.9 1273.9 h-5 M1334.4 1223.9 h5 M1801.9 1223.9 h-5 M1334.4 1174.0 h5 M1801.9 1174.0 h-5 M1334.4 1124.0 h5 M1801.9 1124.0 h-5 M1334.4 1074.0 h5 M1801.9 1074.0 h-5 M1334.4 1024.0 h5 M1801.9 1024.0 h-5 M1334.4 974.1 h5 M1801.9 974.1 h-5 M1334.4 924.1 h5 M1801.9 924.1 h-5 " stroke="#333" stroke-width="0.9" fill="none"/>
<text transform="translate(1409.1,1308.9) scale(0.93,1)" font-size="27" text-anchor="middle" fill="#1a1a1a" font-weight="normal" font-style="normal" >200</text>
<text transform="translate(1507.3,1308.9) scale(0.93,1)" font-size="27" text-anchor="middle" fill="#1a1a1a" font-weight="normal" font-style="normal" >400</text>
<text transform="translate(1605.5,1308.9) scale(0.93,1)" font-size="27" text-anchor="middle" fill="#1a1a1a" font-weight="normal" font-style="normal" >600</text>
<text transform="translate(1703.7,1308.9) scale(0.93,1)" font-size="27" text-anchor="middle" fill="#1a1a1a" font-weight="normal" font-style="normal" >800</text>
<text transform="translate(1801.9,1308.9) scale(0.93,1)" font-size="27" text-anchor="middle" fill="#1a1a1a" font-weight="normal" font-style="normal" >1000</text>
<text transform="translate(1325.4,1282.9) scale(0.93,1)" font-size="27" text-anchor="end" fill="#1a1a1a" font-weight="normal" font-style="normal" >4</text>
<text transform="translate(1325.4,1232.9) scale(0.93,1)" font-size="27" text-anchor="end" fill="#1a1a1a" font-weight="normal" font-style="normal" >5</text>
<text transform="translate(1325.4,1183.0) scale(0.93,1)" font-size="27" text-anchor="end" fill="#1a1a1a" font-weight="normal" font-style="normal" >6</text>
<text transform="translate(1325.4,1133.0) scale(0.93,1)" font-size="27" text-anchor="end" fill="#1a1a1a" font-weight="normal" font-style="normal" >7</text>
<text transform="translate(1325.4,1083.0) scale(0.93,1)" font-size="27" text-anchor="end" fill="#1a1a1a" font-weight="normal" font-style="normal" >8</text>
<text transform="translate(1325.4,1033.0) scale(0.93,1)" font-size="27" text-anchor="end" fill="#1a1a1a" font-weight="normal" font-style="normal" >9</text>
<text transform="translate(1325.4,983.1) scale(0.93,1)" font-size="27" text-anchor="end" fill="#1a1a1a" font-weight="normal" font-style="normal" >10</text>
<text transform="translate(1325.4,933.1) scale(0.93,1)" font-size="27" text-anchor="end" fill="#1a1a1a" font-weight="normal" font-style="normal" >11</text>
<text x="1568.2" y="1343.0" font-size="29" text-anchor="middle" fill="#1a1a1a" font-weight="normal" font-style="normal" >Energy(keV)</text>
<text transform="translate(1277,1098) rotate(-90)" font-size="30" text-anchor="middle" fill="#1a1a1a">ln(N<tspan dy="12" font-size="22" >e</tspan><tspan dy="-12" font-size="1">&#8203;</tspan>)(a. u.)</text>
<text transform="translate(1359.0,960.0) scale(0.93,1)" font-size="29" text-anchor="start" fill="#1a1a1a" font-weight="normal" font-style="normal" >(i)</text>
<path d="M1555 958 h42" stroke="#000" stroke-width="3.6"/>
<text x="1602" y="965" font-size="26.3" fill="#1a1a1a"><tspan font-style="italic">&#948;</tspan><tspan font-style="italic">&#969;</tspan><tspan dy="11" font-size="20" >0</tspan><tspan dy="-11" font-size="1">&#8203;</tspan>=0, <tspan font-style="italic">&#945;</tspan>=0</text>
<path d="M1555 1006 h42" stroke="#f00" stroke-width="3.6"/>
<text x="1602" y="1013" font-size="26.3" fill="#1a1a1a"><tspan font-style="italic">&#948;</tspan><tspan font-style="italic">&#969;</tspan><tspan dy="11" font-size="20" >0</tspan><tspan dy="-11" font-size="1">&#8203;</tspan>=1%<tspan font-style="italic">&#969;</tspan><tspan dy="11" font-size="20" >0</tspan><tspan dy="-11" font-size="1">&#8203;</tspan>, <tspan font-style="italic">&#945;</tspan>=4<tspan dy="-13" font-size="20">&#176;</tspan><tspan dy="13" font-size="1">&#8203;</tspan></text>
<text x="183.6" y="47.0" font-size="20.5" font-weight="bold" fill="#fff" textLength="205.0" lengthAdjust="spacingAndGlyphs">strongly coupled modes</text>
<text x="828.4" y="43.6" font-size="20.5" font-weight="bold" fill="#fff" textLength="193.6" lengthAdjust="spacingAndGlyphs">weakly coupled modes</text>
<text x="1485.4" y="46.9" font-size="20.5" font-weight="bold" fill="#fff" textLength="149.0" lengthAdjust="spacingAndGlyphs">decoupled modes</text>
<text x="110.6" y="302.5" font-size="20.5" font-weight="bold" fill="#fff" textLength="120.4" lengthAdjust="spacingAndGlyphs"><tspan font-style="italic">&#945;</tspan> = 0, <tspan font-style="italic">&#948;</tspan><tspan font-style="italic">&#969;</tspan><tspan dy="8.5" font-size="15" >0</tspan><tspan dy="-8.5" font-size="1">&#8203;</tspan> = 0</text>
<text x="109.0" y="335.0" font-size="20.5" font-weight="bold" fill="#fff" textLength="249.0" lengthAdjust="spacingAndGlyphs">(two monochromatic beams)</text>
<text x="809.3" y="319.0" font-size="20.5" font-weight="bold" fill="#fff" textLength="253.5" lengthAdjust="spacingAndGlyphs"><tspan font-style="italic">&#945;</tspan> = 0, <tspan font-style="italic">&#948;</tspan><tspan font-style="italic">&#969;</tspan><tspan dy="8.5" font-size="15" >0</tspan><tspan dy="-8.5" font-size="1">&#8203;</tspan>  = 0.7%<tspan font-style="italic">&#969;</tspan><tspan dy="8.5" font-size="15" >0</tspan><tspan dy="-8.5" font-size="1">&#8203;</tspan> (CPLs)</text>
<text x="1404.3" y="316.0" font-size="20.5" font-weight="bold" fill="#fff" textLength="276.0" lengthAdjust="spacingAndGlyphs"><tspan font-style="italic">&#945;</tspan> = 4<tspan dy="-8" font-size="15">&#176;</tspan><tspan dy="8" font-size="1">&#8203;</tspan>, <tspan font-style="italic">&#948;</tspan><tspan font-style="italic">&#969;</tspan><tspan dy="8.5" font-size="15" >0</tspan><tspan dy="-8.5" font-size="1">&#8203;</tspan>  = 0.7%<tspan font-style="italic">&#969;</tspan><tspan dy="8.5" font-size="15" >0</tspan><tspan dy="-8.5" font-size="1">&#8203;</tspan> (NCPLs)</text>
<text x="745.3" y="534.4" font-size="20.5" font-weight="bold" fill="#fff" textLength="122.4" lengthAdjust="spacingAndGlyphs"><tspan font-style="italic">&#945;</tspan> = 0, <tspan font-style="italic">&#948;</tspan><tspan font-style="italic">&#969;</tspan><tspan dy="8.5" font-size="15" >0</tspan><tspan dy="-8.5" font-size="1">&#8203;</tspan> = 0</text>
<text x="747.0" y="639.8" font-size="20.5" font-weight="bold" fill="#fff">CPLs</text>
<text x="747.0" y="663.8" font-size="20.5" font-weight="bold" fill="#fff" textLength="181.0" lengthAdjust="spacingAndGlyphs"><tspan font-style="italic">&#945;</tspan> = 0, <tspan font-style="italic">&#948;</tspan><tspan font-style="italic">&#969;</tspan><tspan dy="8.5" font-size="15" >0</tspan><tspan dy="-8.5" font-size="1">&#8203;</tspan> = 0.5%<tspan font-style="italic">&#969;</tspan><tspan dy="8.5" font-size="15" >0</tspan><tspan dy="-8.5" font-size="1">&#8203;</tspan></text>
<text x="748.0" y="759.9" font-size="20.5" font-weight="bold" fill="#fff">NCPLs</text>
<text x="748.0" y="790.1" font-size="20.5" font-weight="bold" fill="#fff" textLength="188.0" lengthAdjust="spacingAndGlyphs"><tspan font-style="italic">&#945;</tspan> = 4<tspan dy="-8" font-size="15">&#176;</tspan><tspan dy="8" font-size="1">&#8203;</tspan>, <tspan font-style="italic">&#948;</tspan><tspan font-style="italic">&#969;</tspan><tspan dy="8.5" font-size="15" >0</tspan><tspan dy="-8.5" font-size="1">&#8203;</tspan> = 0.5%<tspan font-style="italic">&#969;</tspan><tspan dy="8.5" font-size="15" >0</tspan><tspan dy="-8.5" font-size="1">&#8203;</tspan></text>
<path d="M291.6 55.3 L338.4 75.4" stroke="#f4e23c" stroke-width="2.2" stroke-dasharray="1.8 1.8"/>
<path d="M348.5 79.8 L336.6 79.6 L341.2 76.6 L340.2 71.3Z" fill="#f4e23c"/>
<path d="M930.0 55.3 L983.6 77.8" stroke="#f4e23c" stroke-width="2.2" stroke-dasharray="1.8 1.8"/>
<path d="M993.7 82.1 L981.8 82.0 L986.3 79.0 L985.3 73.7Z" fill="#f4e23c"/>
<path d="M1563.4 57.0 L1614.4 88.1" stroke="#f4e23c" stroke-width="2.2" stroke-dasharray="1.8 1.8"/>
<path d="M1623.8 93.8 L1612.1 91.9 L1617.0 89.6 L1616.7 84.2Z" fill="#f4e23c"/>
</svg></body></html>
